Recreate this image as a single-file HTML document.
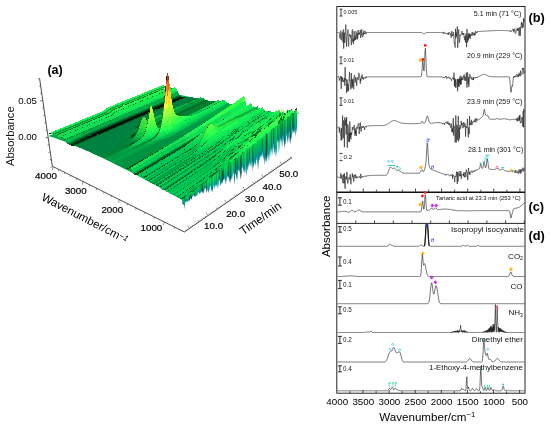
<!DOCTYPE html>
<html lang="en"><head><meta charset="utf-8"><title>TG-FTIR figure</title>
<style>html,body{margin:0;padding:0;background:#fff;}svg{display:block;}text{font-family:'Liberation Sans', sans-serif;}</style></head><body>
<svg width="550" height="428" viewBox="0 0 550 428">
<rect width="550" height="428" fill="#fff"/>
<polygon points="48.4,136 55.1,138.1 61.9,140.5 68.6,143.1 75.3,145.9 82,148.7 88.8,151.6 95.5,154.7 102.2,157.8 109,161 115.7,164.4 122.4,167.8 129.2,171.2 135.9,174.8 142.6,178.3 149.3,182 156.1,185.6 162.8,189.3 169.5,193 176.3,196.8 183,200.5 211.5,180.1 240,159.8 268.5,139.4 297,119 263,112 229,105 195,98 161,91 132.8,102.2 104.7,113.5 76.5,124.8" fill="#0a4"/>
<g id="surface" shape-rendering="crispEdges">
<path d="M104.4 111.4 161 88.6 162.1 85.9 105.6 108.9Z" fill="#021"/>
<path d="M102.3 112.9 104.4 111.4 105.6 108.9 103.4 111.1Z" fill="#031"/>
<path d="M48.4 134.8 101.3 113.5 102.3 112.9 103.4 111.1 102.4 111.9 49.5 133.3Z" fill="#021"/>
<path d="M105.6 108.9 162.1 85.9 163.3 84.8 106.7 107.9Z" fill="#031"/>
<path d="M102.4 111.9 103.4 111.1 105.6 108.9 106.7 107.9 104.6 110.1 103.5 110.9Z" fill="#041"/>
<path d="M49.5 133.3 102.4 111.9 103.5 110.9 50.6 132.5Z" fill="#031"/>
<path d="M105.6 108.9 106.7 107.9 163.3 84.8 164.4 86.2 107.8 109.4 106.8 110.4Z" fill="#2e5"/>
<path d="M50.6 132.5 103.5 110.9 104.6 110.1 105.6 108.9 106.8 110.4 105.7 111.6 104.6 112.4 51.8 134Z" fill="#1e5"/>
<path d="M107.8 109.4 164.4 86.2 165.5 86.3 108.9 109.6Z" fill="#1a3"/>
<path d="M105.7 111.6 107.8 109.4 108.9 109.6 106.8 111.8Z" fill="#1b4"/>
<path d="M104.6 112.4 105.7 111.6 106.8 111.8 105.8 112.6Z" fill="#1a4"/>
<path d="M51.8 134 104.6 112.4 105.8 112.6 52.9 134.3Z" fill="#193"/>
<path d="M108.9 109.6 165.5 86.3 166.7 86.3 110.1 109.7Z" fill="#193"/>
<path d="M107.9 110.6 108.9 109.6 110.1 109.7 109 110.7Z" fill="#1a3"/>
<path d="M106.8 111.8 107.9 110.6 109 110.7 108 111.9Z" fill="#1a4"/>
<path d="M105.8 112.6 106.8 111.8 108 111.9 106.9 112.7Z" fill="#193"/>
<path d="M56.6 132.8 105.8 112.6 106.9 112.7 57.8 132.9Z" fill="#183"/>
<path d="M52.9 134.3 56.6 132.8 57.8 132.9 54 134.5Z" fill="#083"/>
<path d="M133 100.2 166.7 86.3 167.8 86.8 134.2 100.7Z" fill="#2d4"/>
<path d="M110.1 109.7 133 100.2 134.2 100.7 111.2 110.2Z" fill="#1d4"/>
<path d="M108 111.9 110.1 109.7 111.2 110.2 109.1 112.4Z" fill="#1e5"/>
<path d="M106.9 112.7 108 111.9 109.1 112.4 108 113.2Z" fill="#1d5"/>
<path d="M54 134.5 106.9 112.7 108 113.2 55.1 135.1Z" fill="#1c4"/>
<path d="M161.7 89.3 167.8 86.8 168.9 86.7 162.8 89.2Z" fill="#182"/>
<path d="M112.3 109.7 161.7 89.3 162.8 89.2 113.4 109.7Z" fill="#172"/>
<path d="M111.2 110.2 112.3 109.7 113.4 109.7 112.3 110.2Z" fill="#183"/>
<path d="M109.1 112.4 111.2 110.2 112.3 110.2 110.2 112.4Z" fill="#193"/>
<path d="M108 113.2 109.1 112.4 110.2 112.4 109.1 113.3Z" fill="#183"/>
<path d="M55.1 135.1 108 113.2 109.1 113.3 56.3 135.2Z" fill="#073"/>
<path d="M112.3 110.2 168.9 86.7 170.1 86.5 113.5 110.1Z" fill="#162"/>
<path d="M110.2 112.4 112.3 110.2 113.5 110.1 111.3 112.3Z" fill="#183"/>
<path d="M109.1 113.3 110.2 112.4 111.3 112.3 110.3 113.1Z" fill="#173"/>
<path d="M56.3 135.2 109.1 113.3 110.3 113.1 57.4 135.1Z" fill="#062"/>
<path d="M114.5 109.6 170.1 86.5 171.2 88.6 115.6 111.7Z" fill="#2e5"/>
<path d="M92.2 120.6 110.3 113.1 111.3 112.3 113.5 110.1 114.5 109.6 115.6 111.7 114.6 112.2 112.5 114.5 111.4 115.3 93.4 122.8Z" fill="#1e5"/>
<path d="M57.4 135.1 92.2 120.6 93.4 122.8 58.5 137.4Z" fill="#1d5"/>
<path d="M143.7 100 171.2 88.6 172.3 88.2 144.8 99.8Z" fill="#152"/>
<path d="M114.6 112.2 143.7 100 144.8 99.8 115.7 112Z" fill="#052"/>
<path d="M113.5 113.2 114.6 112.2 115.7 112 114.6 113Z" fill="#172"/>
<path d="M112.5 114.5 113.5 113.2 114.6 113 113.6 114.3Z" fill="#072"/>
<path d="M111.4 115.3 112.5 114.5 113.6 114.3 112.5 115.1Z" fill="#062"/>
<path d="M58.5 137.4 111.4 115.3 112.5 115.1 59.6 137.2Z" fill="#052"/>
<path d="M113.6 114.3 115.7 112 172.3 88.2 173.5 89 116.8 112.9 114.7 115.1Z" fill="#1e5"/>
<path d="M59.6 137.2 112.5 115.1 113.6 114.3 114.7 115.1 113.7 116 60.7 138.2Z" fill="#1d5"/>
<path d="M116.8 112.9 173.5 89 174.6 87.4 118 111.3Z" fill="#021"/>
<path d="M115.8 113.9 116.8 112.9 118 111.3 116.9 112.3Z" fill="#031"/>
<path d="M114.7 115.1 115.8 113.9 116.9 112.3 115.8 113.6Z" fill="#041"/>
<path d="M113.7 116 114.7 115.1 115.8 113.6 114.8 114.4Z" fill="#031"/>
<path d="M60.7 138.2 113.7 116 114.8 114.4 61.9 136.7Z" fill="#021"/>
<path d="M165.4 91.3 174.6 87.4 175.7 87.9 166.6 91.8Z" fill="#2e4"/>
<path d="M119 110.8 165.4 91.3 166.6 91.8 120.2 111.5Z" fill="#2d4"/>
<path d="M118 111.3 119 110.8 120.2 111.5 119.1 111.9Z" fill="#2e4"/>
<path d="M116.9 112.3 118 111.3 119.1 111.9 118 113Z" fill="#2e5"/>
<path d="M114.8 114.4 115.8 113.6 116.9 112.3 118 113 117 114.2 115.9 115.1Z" fill="#1e5"/>
<path d="M61.9 136.7 114.8 114.4 115.9 115.1 63 137.5Z" fill="#1d5"/>
<path d="M163.5 93.1 175.7 87.9 176.9 90 164.6 95.2Z" fill="#2e5"/>
<path d="M117 114.2 119.1 111.9 163.5 93.1 164.6 95.2 120.2 114.1 118.1 116.3Z" fill="#1e5"/>
<path d="M63 137.5 115.9 115.1 117 114.2 118.1 116.3 117 117.2 64.1 139.6Z" fill="#1d5"/>
<path d="M119.2 115.1 120.2 114.1 176.9 90 178 91.2 122.4 114.7 120.3 115.9Z" fill="#1d5"/>
<path d="M118.1 116.3 119.2 115.1 120.3 115.9 119.2 116.8Z" fill="#1c5"/>
<path d="M117 117.2 118.1 116.3 119.2 116.8 118.2 117.4Z" fill="#0a4"/>
<path d="M112.8 119 117 117.2 118.2 117.4 113.9 119.2Z" fill="#093"/>
<path d="M86.7 130.1 112.8 119 113.9 119.2 87.8 130.3Z" fill="#083"/>
<path d="M64.1 139.6 86.7 130.1 87.8 130.3 65.2 139.8Z" fill="#073"/>
<path d="M80.3 133.5 118.2 117.4 121.3 115.2 178 91.2 179.1 95 81.4 136.2Z" fill="#0a4"/>
<path d="M65.2 139.8 80.3 133.5 81.4 136.2 66.3 142.5Z" fill="#0b4"/>
<path d="M85.1 134.6 179.1 95 180.3 95.8 86.3 135.5Z" fill="#073"/>
<path d="M77.6 137.8 85.1 134.6 86.3 135.5 78.7 138.7Z" fill="#083"/>
<path d="M73.9 139.4 77.6 137.8 78.7 138.7 75 140.3Z" fill="#084"/>
<path d="M66.3 142.5 73.9 139.4 75 140.3 67.5 143.5Z" fill="#094"/>
<path d="M86.3 135.5 180.3 95.8 181.4 96.5 87.4 136.4Z" fill="#042"/>
<path d="M78.7 138.7 86.3 135.5 87.4 136.4 79.9 139.6Z" fill="#052"/>
<path d="M75 140.3 78.7 138.7 79.9 139.6 76.1 141.2Z" fill="#063"/>
<path d="M67.5 143.5 75 140.3 76.1 141.2 68.6 144.4Z" fill="#073"/>
<path d="M94.9 133.2 181.4 96.5 182.5 97 96 133.9Z" fill="#010"/>
<path d="M91.2 134.8 94.9 133.2 96 133.9 92.3 135.5Z" fill="#011"/>
<path d="M83.6 138 91.2 134.8 92.3 135.5 84.8 138.7Z" fill="#021"/>
<path d="M79.9 139.6 83.6 138 84.8 138.7 81 140.4Z" fill="#031"/>
<path d="M72.4 142.8 79.9 139.6 81 140.4 73.5 143.6Z" fill="#042"/>
<path d="M68.6 144.4 72.4 142.8 73.5 143.6 69.7 145.2Z" fill="#052"/>
<path d="M88.5 137.1 182.5 97 183.7 97.1 89.6 137.4Z" fill="#010"/>
<path d="M84.8 138.7 88.5 137.1 89.6 137.4 85.9 139Z" fill="#011"/>
<path d="M81 140.4 84.8 138.7 85.9 139 82.1 140.6Z" fill="#021"/>
<path d="M69.7 145.2 81 140.4 82.1 140.6 70.8 145.5Z" fill="#031"/>
<path d="M97.2 134.2 183.7 97.1 184.8 96.9 98.3 134.1Z" fill="#010"/>
<path d="M89.6 137.4 97.2 134.2 98.3 134.1 90.8 137.4Z" fill="#011"/>
<path d="M74.6 143.9 89.6 137.4 90.8 137.4 75.7 143.9Z" fill="#021"/>
<path d="M70.8 145.5 74.6 143.9 75.7 143.9 72 145.5Z" fill="#031"/>
<path d="M94.5 135.8 184.8 96.9 185.9 96.7 95.6 135.7Z" fill="#021"/>
<path d="M72 145.5 94.5 135.8 95.6 135.7 73.1 145.5Z" fill="#031"/>
<path d="M95.6 135.7 185.9 96.7 187.1 96.6 96.8 135.8Z" fill="#042"/>
<path d="M73.1 145.5 95.6 135.7 96.8 135.8 74.2 145.6Z" fill="#052"/>
<path d="M74.2 145.6 187.1 96.6 188.2 96.7 75.3 145.9Z" fill="#073"/>
<path d="M75.3 145.9 188.2 96.7 189.3 96.8 76.4 146.3Z" fill="#083"/>
<path d="M76.4 146.3 189.3 96.8 190.5 97.1 77.6 146.8Z" fill="#084"/>
<path d="M77.6 146.8 190.5 97.1 191.6 97.3 78.7 147.3Z" fill="#084"/>
<path d="M78.7 147.3 191.6 97.3 192.7 97.5 79.8 147.7Z" fill="#084"/>
<path d="M79.8 147.7 192.7 97.5 193.9 97.8 80.9 148.2Z" fill="#084"/>
<path d="M80.9 148.2 193.9 97.8 195 98 82 148.7Z" fill="#084"/>
<path d="M82 148.7 195 98 196.1 98.2 83.2 149.2Z" fill="#084"/>
<path d="M133 126.7 196.1 98.2 197.3 98.4 134.1 127.1Z" fill="#083"/>
<path d="M83.2 149.2 133 126.7 134.1 127.1 84.3 149.7Z" fill="#084"/>
<path d="M188.1 102.6 197.3 98.4 198.4 98.5 189.2 102.6Z" fill="#063"/>
<path d="M175.8 108.2 188.1 102.6 189.2 102.6 176.9 108.1Z" fill="#062"/>
<path d="M143.7 122.7 175.8 108.2 176.9 108.1 144.8 122.7Z" fill="#052"/>
<path d="M140.5 124.2 143.7 122.7 144.8 122.7 141.6 124.3Z" fill="#062"/>
<path d="M139.5 124.6 140.5 124.2 141.6 124.3 140.6 124.8Z" fill="#063"/>
<path d="M135.2 126.6 139.5 124.6 140.6 124.8 136.3 126.9Z" fill="#073"/>
<path d="M130.9 128.5 135.2 126.6 136.3 126.9 132.1 128.9Z" fill="#083"/>
<path d="M84.3 149.7 130.9 128.5 132.1 128.9 85.4 150.1Z" fill="#084"/>
<path d="M186.1 104 198.4 98.5 199.5 97.9 187.3 103.3Z" fill="#031"/>
<path d="M143.8 123.2 186.1 104 187.3 103.3 178.1 107.2 151.3 119.2 144.9 122.5Z" fill="#021"/>
<path d="M139.5 125.3 143.8 123.2 144.9 122.5 140.6 125Z" fill="#031"/>
<path d="M138.5 125.8 139.5 125.3 140.6 125 139.6 125.6Z" fill="#042"/>
<path d="M136.3 126.9 138.5 125.8 139.6 125.6 137.5 126.9Z" fill="#052"/>
<path d="M135.3 127.4 136.3 126.9 137.5 126.9 136.4 127.5Z" fill="#062"/>
<path d="M133.1 128.4 135.3 127.4 136.4 127.5 134.3 128.7Z" fill="#073"/>
<path d="M131 129.4 133.1 128.4 134.3 128.7 132.1 129.8Z" fill="#083"/>
<path d="M85.4 150.1 131 129.4 132.1 129.8 86.5 150.6Z" fill="#084"/>
<path d="M181.1 105.9 199.5 97.9 200.7 97.3 182.3 105.1Z" fill="#031"/>
<path d="M148.1 120.7 175 108.5 181.1 105.9 182.3 105.1 173.1 108.9 149.2 119.9Z" fill="#021"/>
<path d="M142.8 123.7 148.1 120.7 149.2 119.9 143.9 123.2Z" fill="#031"/>
<path d="M141.7 124.4 142.8 123.7 143.9 123.2 142.8 124Z" fill="#041"/>
<path d="M140.6 125 141.7 124.4 142.8 124 141.8 124.8Z" fill="#042"/>
<path d="M138.5 126.3 140.6 125 141.8 124.8 139.6 126.3Z" fill="#052"/>
<path d="M137.5 126.9 138.5 126.3 139.6 126.3 138.6 127Z" fill="#062"/>
<path d="M136.4 127.5 137.5 126.9 138.6 127 137.5 127.7Z" fill="#063"/>
<path d="M135.3 128.1 136.4 127.5 137.5 127.7 136.5 128.4Z" fill="#073"/>
<path d="M133.2 129.3 135.3 128.1 136.5 128.4 134.3 129.6Z" fill="#083"/>
<path d="M86.5 150.6 133.2 129.3 134.3 129.6 87.7 151.1Z" fill="#084"/>
<path d="M188.4 102.6 200.7 97.3 201.8 98 189.5 103.4Z" fill="#0b4"/>
<path d="M185.3 103.9 188.4 102.6 189.5 103.4 186.5 104.6Z" fill="#0c4"/>
<path d="M145 122.5 150.3 119.3 173.1 108.9 185.3 103.9 186.5 104.6 177.3 108.5 151.4 120.3 146.1 123.4Z" fill="#1c4"/>
<path d="M143.9 123.2 145 122.5 146.1 123.4 145 124.1Z" fill="#0c4"/>
<path d="M139.6 126.3 143.9 123.2 145 124.1 140.8 126.8Z" fill="#0b4"/>
<path d="M137.5 127.7 139.6 126.3 140.8 126.8 138.6 128.2Z" fill="#0a4"/>
<path d="M133.3 130.2 137.5 127.7 138.6 128.2 134.4 130.5Z" fill="#094"/>
<path d="M87.7 151.1 133.3 130.2 134.4 130.5 88.8 151.6Z" fill="#084"/>
<path d="M180.3 107.2 201.8 98 202.9 98.4 181.5 107.8Z" fill="#0a4"/>
<path d="M145 124.1 151.4 120.3 177.3 108.5 180.3 107.2 181.5 107.8 178.4 109.1 152.5 121 146.2 124.6Z" fill="#0b4"/>
<path d="M140.8 126.8 145 124.1 146.2 124.6 141.9 127.3Z" fill="#0a4"/>
<path d="M134.4 130.5 140.8 126.8 141.9 127.3 135.5 130.9Z" fill="#094"/>
<path d="M88.8 151.6 134.4 130.5 135.5 130.9 89.9 152.1Z" fill="#084"/>
<path d="M145.1 125.3 151.5 121.5 178.4 109.1 202.9 98.4 204.1 98.5 179.5 109.3 152.6 121.7 146.2 125.6Z" fill="#083"/>
<path d="M141.9 127.3 145.1 125.3 146.2 125.6 143 127.7Z" fill="#093"/>
<path d="M136.6 130.4 141.9 127.3 143 127.7 137.7 130.8Z" fill="#094"/>
<path d="M135.5 130.9 136.6 130.4 137.7 130.8 136.6 131.3Z" fill="#084"/>
<path d="M132.3 132.4 135.5 130.9 136.6 131.3 133.4 132.8Z" fill="#083"/>
<path d="M89.9 152.1 132.3 132.4 133.4 132.8 91 152.6Z" fill="#084"/>
<path d="M146.2 125.6 152.6 121.7 179.5 109.3 204.1 98.5 205.2 99.4 189.9 106.4 155.9 122.1 147.3 126.6Z" fill="#0a4"/>
<path d="M143 127.7 146.2 125.6 147.3 126.6 144.2 128.4Z" fill="#0b4"/>
<path d="M140.9 129 143 127.7 144.2 128.4 142 129.5Z" fill="#0a4"/>
<path d="M137.7 130.8 140.9 129 142 129.5 138.8 131.2Z" fill="#094"/>
<path d="M127.1 135.8 137.7 130.8 138.8 131.2 128.2 136.2Z" fill="#083"/>
<path d="M91 152.6 127.1 135.8 128.2 136.2 92.1 153.1Z" fill="#084"/>
<path d="M149.5 125.4 159 120.6 192.9 105 205.2 99.4 206.3 100.1 150.6 126.4Z" fill="#083"/>
<path d="M148.4 126 149.5 125.4 150.6 126.4 149.5 127Z" fill="#093"/>
<path d="M143.1 129 148.4 126 149.5 127 144.2 129.5Z" fill="#094"/>
<path d="M141 130.1 143.1 129 144.2 129.5 142.1 130.4Z" fill="#083"/>
<path d="M139.9 130.6 141 130.1 142.1 130.4 141 130.9Z" fill="#073"/>
<path d="M138.8 131.2 139.9 130.6 141 130.9 140 131.3Z" fill="#063"/>
<path d="M134.6 133.2 138.8 131.2 140 131.3 135.7 133.3Z" fill="#062"/>
<path d="M133.5 133.7 134.6 133.2 135.7 133.3 134.6 133.9Z" fill="#063"/>
<path d="M131.4 134.7 133.5 133.7 134.6 133.9 132.5 135Z" fill="#073"/>
<path d="M126.1 137.2 131.4 134.7 132.5 135 127.2 137.6Z" fill="#083"/>
<path d="M92.1 153.1 126.1 137.2 127.2 137.6 93.3 153.6Z" fill="#084"/>
<path d="M154.9 124.4 206.3 100.1 207.5 100.4 156 124.9Z" fill="#062"/>
<path d="M151.7 125.9 154.9 124.4 156 124.9 152.8 126.5Z" fill="#063"/>
<path d="M146.3 128.5 151.7 125.9 152.8 126.5 147.5 128.8Z" fill="#073"/>
<path d="M145.3 129 146.3 128.5 147.5 128.8 146.4 129.2Z" fill="#063"/>
<path d="M144.2 129.5 145.3 129 146.4 129.2 145.3 129.5Z" fill="#052"/>
<path d="M143.1 129.9 144.2 129.5 145.3 129.5 144.3 129.8Z" fill="#042"/>
<path d="M141 130.9 143.1 129.9 144.3 129.8 142.1 130.4Z" fill="#031"/>
<path d="M136.8 132.8 141 130.9 142.1 130.4 141.1 130.7 137.9 132Z" fill="#021"/>
<path d="M134.6 133.9 136.8 132.8 137.9 132 135.8 133.4Z" fill="#031"/>
<path d="M133.6 134.4 134.6 133.9 135.8 133.4 134.7 134.2Z" fill="#041"/>
<path d="M132.5 135 133.6 134.4 134.7 134.2 133.6 134.9Z" fill="#042"/>
<path d="M131.4 135.5 132.5 135 133.6 134.9 132.6 135.6Z" fill="#052"/>
<path d="M130.4 136.1 131.4 135.5 132.6 135.6 131.5 136.3Z" fill="#063"/>
<path d="M129.3 136.6 130.4 136.1 131.5 136.3 130.4 136.9Z" fill="#073"/>
<path d="M123.4 139.4 129.3 136.6 130.4 136.9 124.5 139.9Z" fill="#083"/>
<path d="M93.3 153.6 123.4 139.4 124.5 139.9 94.4 154.2Z" fill="#084"/>
<path d="M149.6 127.9 207.5 100.4 208.6 100.6 177.9 115.4 150.7 128.2Z" fill="#073"/>
<path d="M148.5 128.4 149.6 127.9 150.7 128.2 149.7 128.6Z" fill="#063"/>
<path d="M147.5 128.8 148.5 128.4 149.7 128.6 148.6 128.8Z" fill="#052"/>
<path d="M146.4 129.2 147.5 128.8 148.6 128.8 147.5 129Z" fill="#042"/>
<path d="M135.8 133.4 139 131.5 142.1 130.4 146.4 129.2 147.5 129 146.5 129 143.3 128.3 141.1 128.2 140.1 128.6 139 129.3 136.9 131.5Z" fill="#021"/>
<path d="M132.6 135.6 135.8 133.4 136.9 131.5 133.7 135.2Z" fill="#031"/>
<path d="M131.5 136.3 132.6 135.6 133.7 135.2 132.6 136.2Z" fill="#042"/>
<path d="M130.4 136.9 131.5 136.3 132.6 136.2 131.6 137Z" fill="#052"/>
<path d="M129.4 137.5 130.4 136.9 131.6 137 130.5 137.7Z" fill="#063"/>
<path d="M128.3 138 129.4 137.5 130.5 137.7 129.4 138.4Z" fill="#073"/>
<path d="M124.5 139.9 128.3 138 129.4 138.4 125.7 140.3Z" fill="#083"/>
<path d="M94.4 154.2 124.5 139.9 125.7 140.3 95.5 154.7Z" fill="#084"/>
<path d="M151.8 127.8 208.6 100.6 209.7 100.7 172.9 118.6 152.9 128.1Z" fill="#083"/>
<path d="M150.7 128.2 151.8 127.8 152.9 128.1 151.9 128.4Z" fill="#073"/>
<path d="M149.7 128.6 150.7 128.2 151.9 128.4 150.8 128.6Z" fill="#052"/>
<path d="M148.6 128.8 149.7 128.6 150.8 128.6 149.7 128.6Z" fill="#041"/>
<path d="M139 129.3 140.1 128.6 141.1 128.2 143.3 128.3 146.5 129 148.6 128.8 149.7 128.6 148.7 128.3 147.6 127.7 143.3 123.5 142.3 123.1 141.2 123.3 140.1 124.3Z" fill="#021"/>
<path d="M138 130.3 139 129.3 140.1 124.3 139.1 125.9Z" fill="#131"/>
<path d="M132.6 136.2 135.8 132.8 138 130.3 139.1 125.9 135.9 132.2 133.8 135.7Z" fill="#031"/>
<path d="M131.6 137 132.6 136.2 133.8 135.7 132.7 136.9Z" fill="#042"/>
<path d="M130.5 137.7 131.6 137 132.7 136.9 131.6 137.9Z" fill="#052"/>
<path d="M129.4 138.4 130.5 137.7 131.6 137.9 130.6 138.7Z" fill="#073"/>
<path d="M125.7 140.3 129.4 138.4 130.6 138.7 126.8 140.7Z" fill="#083"/>
<path d="M95.5 154.7 125.7 140.3 126.8 140.7 96.6 155.2Z" fill="#084"/>
<path d="M169.8 120.1 209.7 100.7 210.9 100.9 171 120.5Z" fill="#083"/>
<path d="M157.2 126.2 169.8 120.1 171 120.5 158.3 126.6Z" fill="#084"/>
<path d="M152.9 128.1 157.2 126.2 158.3 126.6 154 128.4Z" fill="#083"/>
<path d="M151.9 128.4 152.9 128.1 154 128.4 153 128.6Z" fill="#073"/>
<path d="M150.8 128.6 151.9 128.4 153 128.6 151.9 128.6Z" fill="#052"/>
<path d="M149.7 128.6 150.8 128.6 151.9 128.6 150.9 128.4Z" fill="#031"/>
<path d="M144.4 124.5 147.6 127.7 148.7 128.3 149.7 128.6 150.9 128.4 149.8 127.6 148.7 126.4 145.5 120.6Z" fill="#021"/>
<path d="M141.2 123.3 142.3 123.1 143.3 123.5 144.4 124.5 145.5 120.6 144.5 118.9 143.4 117.9 142.3 117.9Z" fill="#121"/>
<path d="M140.1 124.3 141.2 123.3 142.3 117.9 141.3 119.2Z" fill="#131"/>
<path d="M135.9 132.2 139.1 125.9 140.1 124.3 141.3 119.2 140.2 121.3 137 130.3Z" fill="#141"/>
<path d="M133.8 135.7 135.9 132.2 137 130.3 134.9 135.1Z" fill="#041"/>
<path d="M132.7 136.9 133.8 135.7 134.9 135.1 133.8 136.8Z" fill="#052"/>
<path d="M131.6 137.9 132.7 136.9 133.8 136.8 132.8 138Z" fill="#062"/>
<path d="M130.6 138.7 131.6 137.9 132.8 138 131.7 138.9Z" fill="#073"/>
<path d="M126.8 140.7 130.6 138.7 131.7 138.9 127.9 141.2Z" fill="#083"/>
<path d="M96.6 155.2 126.8 140.7 127.9 141.2 97.8 155.7Z" fill="#084"/>
<path d="M174 119 210.9 100.9 212 101 175.2 119.3Z" fill="#083"/>
<path d="M157.2 127.1 174 119 175.2 119.3 158.4 127.4Z" fill="#084"/>
<path d="M153 128.6 156.2 127.5 157.2 127.1 158.4 127.4 157.3 127.9 154.1 128.9Z" fill="#083"/>
<path d="M151.9 128.6 153 128.6 154.1 128.9 153 128.9Z" fill="#073"/>
<path d="M150.9 128.4 151.9 128.6 153 128.9 152 128.6Z" fill="#062"/>
<path d="M149.8 127.6 150.9 128.4 152 128.6 150.9 127.7Z" fill="#052"/>
<path d="M148.7 126.4 149.8 127.6 150.9 127.7 149.8 126.4Z" fill="#041"/>
<path d="M147.7 124.7 148.7 126.4 149.8 126.4 148.8 124.4Z" fill="#031"/>
<path d="M146.6 122.7 147.7 124.7 148.8 124.4 147.7 122.2Z" fill="#021"/>
<path d="M142.3 117.9 143.4 117.9 144.5 118.9 146.6 122.7 147.7 122.2 145.6 117.9 144.5 116.8 143.5 116.9Z" fill="#121"/>
<path d="M141.3 119.2 142.3 117.9 143.5 116.9 142.4 118.1Z" fill="#241"/>
<path d="M139.1 124.2 140.2 121.3 141.3 119.2 142.4 118.1 141.3 120.5 140.3 123.6Z" fill="#251"/>
<path d="M138.1 127.3 139.1 124.2 140.3 123.6 139.2 126.9Z" fill="#151"/>
<path d="M137 130.3 138.1 127.3 139.2 126.9 138.1 130.2Z" fill="#162"/>
<path d="M135.9 133 137 130.3 138.1 130.2 137.1 133Z" fill="#172"/>
<path d="M134.9 135.1 135.9 133 137.1 133 136 135.3Z" fill="#183"/>
<path d="M133.8 136.8 134.9 135.1 136 135.3 134.9 137Z" fill="#093"/>
<path d="M127.9 141.2 131.7 138.9 133.8 136.8 134.9 137 132.8 139.3 129 141.6Z" fill="#094"/>
<path d="M97.8 155.7 127.9 141.2 129 141.6 98.9 156.2Z" fill="#084"/>
<path d="M175.2 119.3 212 101 213.1 101.2 176.3 119.6Z" fill="#083"/>
<path d="M155.2 128.7 161.6 125.9 175.2 119.3 176.3 119.6 166.9 124.2 156.3 129.2Z" fill="#084"/>
<path d="M152 128.6 153 128.9 155.2 128.7 156.3 129.2 154.2 129.6 153.1 129.4Z" fill="#094"/>
<path d="M150.9 127.7 152 128.6 153.1 129.4 152 128.9Z" fill="#1b4"/>
<path d="M149.8 126.4 150.9 127.7 152 128.9 151 127.9Z" fill="#1c4"/>
<path d="M147.7 122.2 149.8 126.4 151 127.9 148.8 124.9Z" fill="#2d4"/>
<path d="M146.7 119.9 147.7 122.2 148.8 124.9 147.8 123.3Z" fill="#3e4"/>
<path d="M145.6 117.9 146.7 119.9 147.8 123.3 146.7 121.9Z" fill="#4e4"/>
<path d="M144.5 116.8 145.6 117.9 146.7 121.9 145.7 121.2Z" fill="#5e4"/>
<path d="M143.5 116.9 144.5 116.8 145.7 121.2 144.6 121.3Z" fill="#6e4"/>
<path d="M141.3 120.5 142.4 118.1 143.5 116.9 144.6 121.3 143.5 122.4 142.5 124.3Z" fill="#5e4"/>
<path d="M140.3 123.6 141.3 120.5 142.5 124.3 141.4 126.9Z" fill="#4e4"/>
<path d="M139.2 126.9 140.3 123.6 141.4 126.9 140.3 129.6Z" fill="#3e4"/>
<path d="M138.1 130.2 139.2 126.9 140.3 129.6 139.3 132.2Z" fill="#2d4"/>
<path d="M137.1 133 138.1 130.2 139.3 132.2 138.2 134.5Z" fill="#1d4"/>
<path d="M136 135.3 137.1 133 138.2 134.5 137.1 136.4Z" fill="#1c4"/>
<path d="M134.9 137 136 135.3 137.1 136.4 136.1 137.9Z" fill="#0c4"/>
<path d="M133.9 138.4 134.9 137 136.1 137.9 135 139Z" fill="#0b4"/>
<path d="M132.8 139.3 133.9 138.4 135 139 133.9 139.9Z" fill="#0a4"/>
<path d="M129 141.6 132.8 139.3 133.9 139.9 130.2 142.1Z" fill="#094"/>
<path d="M98.9 156.2 129 141.6 130.2 142.1 100 156.7Z" fill="#084"/>
<path d="M173.2 121.1 213.1 101.2 214.3 101.3 174.3 121.5Z" fill="#083"/>
<path d="M164.8 125.2 173.2 121.1 174.3 121.5 165.9 125.6Z" fill="#084"/>
<path d="M159.5 127.8 164.8 125.2 165.9 125.6 160.6 128.2Z" fill="#083"/>
<path d="M157.4 128.8 159.5 127.8 160.6 128.2 158.5 129.2Z" fill="#084"/>
<path d="M154.2 129.6 156.3 129.2 157.4 128.8 158.5 129.2 155.3 130.3Z" fill="#094"/>
<path d="M153.1 129.4 154.2 129.6 155.3 130.3 154.2 130.4Z" fill="#0a4"/>
<path d="M152 128.9 153.1 129.4 154.2 130.4 153.2 130.3Z" fill="#0b4"/>
<path d="M151 127.9 152 128.9 153.2 130.3 152.1 130Z" fill="#1c4"/>
<path d="M149.9 126.6 151 127.9 152.1 130 151 129.4Z" fill="#1d4"/>
<path d="M147.8 123.3 149.9 126.6 151 129.4 148.9 127.9Z" fill="#2d4"/>
<path d="M145.7 121.2 146.7 121.9 147.8 123.3 148.9 127.9 147.8 127.3 146.8 127.2Z" fill="#3e4"/>
<path d="M143.5 122.4 144.6 121.3 145.7 121.2 146.8 127.2 145.7 127.6 144.6 128.5Z" fill="#4e4"/>
<path d="M141.4 126.9 142.5 124.3 143.5 122.4 144.6 128.5 142.5 131.6Z" fill="#3e4"/>
<path d="M140.3 129.6 141.4 126.9 142.5 131.6 141.5 133.4Z" fill="#2d4"/>
<path d="M139.3 132.2 140.3 129.6 141.5 133.4 140.4 135.1Z" fill="#1d4"/>
<path d="M137.1 136.4 139.3 132.2 140.4 135.1 138.3 137.9Z" fill="#1c4"/>
<path d="M135 139 137.1 136.4 138.3 137.9 136.1 139.8Z" fill="#0b4"/>
<path d="M133.9 139.9 135 139 136.1 139.8 135.1 140.5Z" fill="#0a4"/>
<path d="M130.2 142.1 133.9 139.9 135.1 140.5 131.3 142.5Z" fill="#094"/>
<path d="M100 156.7 130.2 142.1 131.3 142.5 101.1 157.3Z" fill="#084"/>
<path d="M205.1 105.9 214.3 101.3 215.4 101.4 206.2 106Z" fill="#073"/>
<path d="M154.2 130.4 156.4 130 164.9 126.1 205.1 105.9 206.2 106 181.6 118.6 158.6 129.9 155.4 130.9Z" fill="#083"/>
<path d="M153.2 130.3 154.2 130.4 155.4 130.9 154.3 130.9Z" fill="#093"/>
<path d="M152.1 130 153.2 130.3 154.3 130.9 153.2 130.8Z" fill="#094"/>
<path d="M151 129.4 152.1 130 153.2 130.8 152.2 130.3Z" fill="#1a4"/>
<path d="M150 128.7 151 129.4 152.2 130.3 151.1 129.7Z" fill="#1b4"/>
<path d="M148.9 127.9 150 128.7 151.1 129.7 150 128.9Z" fill="#1c4"/>
<path d="M147.8 127.3 148.9 127.9 150 128.9 149 128.5Z" fill="#2c4"/>
<path d="M143.6 129.9 144.6 128.5 145.7 127.6 146.8 127.2 147.8 127.3 149 128.5 147.9 128.9 144.7 133Z" fill="#2d4"/>
<path d="M142.5 131.6 143.6 129.9 144.7 133 143.6 134.4Z" fill="#1d4"/>
<path d="M140.4 135.1 142.5 131.6 143.6 134.4 141.5 137Z" fill="#1c4"/>
<path d="M139.3 136.6 140.4 135.1 141.5 137 140.4 138Z" fill="#0c4"/>
<path d="M137.2 138.9 139.3 136.6 140.4 138 138.3 139.6Z" fill="#0b4"/>
<path d="M136.1 139.8 137.2 138.9 138.3 139.6 137.3 140.3Z" fill="#0a4"/>
<path d="M135.1 140.5 136.1 139.8 137.3 140.3 136.2 140.9Z" fill="#094"/>
<path d="M101.1 157.3 131.3 142.5 135.1 140.5 136.2 140.9 102.2 157.8Z" fill="#083"/>
<path d="M193.9 112.3 215.4 101.4 215.9 101.4 194.4 112.3Z" fill="#062"/>
<path d="M171.3 123.8 193.9 112.3 194.4 112.3 171.9 123.8Z" fill="#063"/>
<path d="M163.9 127.4 171.3 123.8 171.9 123.8 164.4 127.5Z" fill="#062"/>
<path d="M158.6 129.9 163.9 127.4 164.4 127.5 159.1 129.9Z" fill="#052"/>
<path d="M157.5 130.4 158.6 129.9 159.1 129.9 158 130.3Z" fill="#042"/>
<path d="M156.4 130.7 157.5 130.4 158 130.3 156.9 130.6Z" fill="#031"/>
<path d="M147.9 128.9 149 128.5 151.1 129.7 153.2 130.8 155.4 130.9 156.4 130.7 156.9 130.6 155.9 130.7 154.8 130.5 153.7 130.1 152.7 129.2 150.6 126.7 149.5 125.7 148.4 126.4Z" fill="#021"/>
<path d="M146.8 130 147.9 128.9 148.4 126.4 147.4 128.4Z" fill="#131"/>
<path d="M145.8 131.5 146.8 130 147.4 128.4 146.3 130.6Z" fill="#031"/>
<path d="M144.7 133 145.8 131.5 146.3 130.6 145.2 132.6Z" fill="#041"/>
<path d="M143.6 134.4 144.7 133 145.2 132.6 144.2 134.4Z" fill="#052"/>
<path d="M142.6 135.8 143.6 134.4 144.2 134.4 143.1 135.9Z" fill="#083"/>
<path d="M140.4 138 142.6 135.8 143.1 135.9 141 138.2Z" fill="#0a4"/>
<path d="M139.4 138.9 140.4 138 141 138.2 139.9 139Z" fill="#094"/>
<path d="M138.3 139.6 139.4 138.9 139.9 139 138.8 139.8Z" fill="#083"/>
<path d="M137.3 140.3 138.3 139.6 138.8 139.8 137.8 140.4Z" fill="#073"/>
<path d="M132.4 142.9 137.3 140.3 137.8 140.4 132.9 143Z" fill="#062"/>
<path d="M128.6 144.8 132.4 142.9 132.9 143 129.2 145Z" fill="#073"/>
<path d="M102.2 157.8 128.6 144.8 129.2 145 102.8 158Z" fill="#083"/>
<path d="M167.6 125.9 194.4 112.3 215.9 101.4 216.4 101.2 191.9 113.8 168.1 125.8Z" fill="#042"/>
<path d="M165.5 127 167.6 125.9 168.1 125.8 166 126.8Z" fill="#041"/>
<path d="M159.1 129.9 165.5 127 166 126.8 159.6 129.7Z" fill="#031"/>
<path d="M150.6 126.7 152.7 129.2 153.7 130.1 154.8 130.5 155.9 130.7 158 130.3 159.1 129.9 159.6 129.7 157.5 130.2 156.4 130.1 155.3 129.6 154.3 128.6 153.2 127 151.1 122.4Z" fill="#021"/>
<path d="M148.4 126.4 149.5 125.7 150.6 126.7 151.1 122.4 150 120.7 148.9 121.6Z" fill="#121"/>
<path d="M145.2 132.6 148.4 126.4 148.9 121.6 145.7 131Z" fill="#141"/>
<path d="M143.1 135.9 145.2 132.6 145.7 131 143.6 135.4Z" fill="#031"/>
<path d="M141 138.2 143.1 135.9 143.6 135.4 141.5 138Z" fill="#041"/>
<path d="M139.9 139 141 138.2 141.5 138 140.4 138.9Z" fill="#042"/>
<path d="M136.7 141 139.9 139 140.4 138.9 137.2 140.9Z" fill="#041"/>
<path d="M132.9 143 136.7 141 137.2 140.9 133.5 143Z" fill="#042"/>
<path d="M129.2 145 132.9 143 133.5 143 129.7 145.1Z" fill="#052"/>
<path d="M125.4 146.9 129.2 145 129.7 145.1 125.9 147Z" fill="#073"/>
<path d="M102.8 158 125.4 146.9 125.9 147 103.3 158.3Z" fill="#083"/>
<path d="M76.5 144.2L105.5 156.9M79.1 143.1L108.1 155.6M81.7 142L110.6 154.3M84.2 140.8L113.2 153.1M86.8 139.7L115.8 151.8M89.4 138.6L118.3 150.5M91.9 137.5L120.9 149.3M94.5 136.4L123.5 148M97.1 135.3L126.1 146.7M99.6 134.2L128.6 145.4M102.2 133.1L131.2 144.2M104.8 131.9L133.8 142.9M107.3 130.8L136.3 141.6M109.9 129.7L138.9 140.4M112.5 128.6L141.5 139.1M115 127.5L144.1 137.8M117.6 126.4L146.6 136.6M120.1 125.3L149.2 135.3M122.7 124.1L151.8 134M125.3 123L154.4 132.8M127.8 121.9L156.9 131.5M130.4 120.8L159.5 130.2M133 119.7L162.1 129M135.5 118.6L164.6 127.7M138.1 117.5L167.2 126.4M140.7 116.4L169.8 125.2M143.2 115.2L172.4 123.9M145.8 114.1L174.9 122.6M148.4 113L177.5 121.4M150.9 111.9L180.1 120.1M153.5 110.8L182.6 118.8M156.1 109.7L185.2 117.6M158.6 108.6L187.8 116.3M161.2 107.5L190.4 115M163.8 106.3L192.9 113.8M166.3 105.2L195.5 112.5M168.9 104.1L198.1 111.2M171.4 103L200.6 109.9M174 101.9L203.2 108.7M176.6 100.8L205.8 107.4M179.1 99.7L208.4 106.1M181.7 98.5L210.9 104.9M184.3 97.4L213.5 103.6" stroke="#003a1a" stroke-width="0.35" opacity="0.55" fill="none" shape-rendering="auto"/>
<path d="M172.4 123.7 216.4 101.2 217 100.8 172.9 123.4Z" fill="#031"/>
<path d="M153.2 127 154.3 128.6 155.3 129.6 156.4 130.1 157.5 130.2 159.6 129.7 171.3 124.3 172.4 123.7 172.9 123.4 167.6 126 160.1 129.2 158 129.4 156.9 129.1 155.9 128.2 154.8 126.5 153.7 124Z" fill="#021"/>
<path d="M150 120.7 151.1 122.4 153.2 127 153.7 124 151.6 116.9 150.5 114.2Z" fill="#121"/>
<path d="M148.9 121.6 150 120.7 150.5 114.2 149.5 115.4Z" fill="#131"/>
<path d="M147.9 124.7 148.9 121.6 149.5 115.4 148.4 119.8Z" fill="#241"/>
<path d="M144.7 133.5 146.8 128.1 147.9 124.7 148.4 119.8 147.3 124.5 145.2 131.9Z" fill="#141"/>
<path d="M143.6 135.4 144.7 133.5 145.2 131.9 144.1 134.3Z" fill="#041"/>
<path d="M139.4 139.6 141.5 138 143.6 135.4 144.1 134.3 143.1 136.2 142 137.5 139.9 139.2Z" fill="#031"/>
<path d="M137.2 140.9 139.4 139.6 139.9 139.2 137.7 140.5Z" fill="#021"/>
<path d="M133.5 143 137.2 140.9 137.7 140.5 134 142.8Z" fill="#031"/>
<path d="M129.7 145.1 133.5 143 134 142.8 130.2 145.1Z" fill="#042"/>
<path d="M125.9 147 129.7 145.1 130.2 145.1 126.4 147.2Z" fill="#073"/>
<path d="M103.3 158.3 125.9 147 126.4 147.2 103.8 158.5Z" fill="#083"/>
<path d="M154.8 126.5 155.9 128.2 156.9 129.1 158 129.4 160.1 129.2 167.6 126 186.2 116.7 217 100.8 217.5 100.4 192.9 113.1 171.3 124.1 161.7 128.3 159.6 128.8 158.5 128.7 157.4 128.1 156.4 126.8 155.3 124.5Z" fill="#021"/>
<path d="M151.6 116.9 153.7 124 154.8 126.5 155.3 124.5 154.2 121.2 152.1 111.9Z" fill="#121"/>
<path d="M150.5 114.2 151.6 116.9 152.1 111.9 151 108.3Z" fill="#221"/>
<path d="M147.3 124.5 149.5 115.4 150.5 114.2 151 108.3 150 109.8 147.9 121.2Z" fill="#241"/>
<path d="M145.2 131.9 147.3 124.5 147.9 121.2 146.8 126.2 145.7 130.3Z" fill="#141"/>
<path d="M143.1 136.2 144.1 134.3 145.2 131.9 145.7 130.3 144.7 133.2 143.6 135.4Z" fill="#041"/>
<path d="M139.9 139.2 142 137.5 143.1 136.2 143.6 135.4 142.5 136.9 140.4 138.8Z" fill="#031"/>
<path d="M137.7 140.5 139.9 139.2 140.4 138.8 138.3 140.1Z" fill="#021"/>
<path d="M134 142.8 137.7 140.5 138.3 140.1 134.5 142.5Z" fill="#031"/>
<path d="M130.2 145.1 134 142.8 134.5 142.5 130.7 145.1Z" fill="#042"/>
<path d="M126.4 147.2 130.2 145.1 130.7 145.1 126.9 147.4Z" fill="#073"/>
<path d="M111.3 154.8 126.4 147.2 126.9 147.4 111.9 155Z" fill="#083"/>
<path d="M107.6 156.6 111.3 154.8 111.9 155 108.1 156.9Z" fill="#084"/>
<path d="M103.8 158.5 107.6 156.6 108.1 156.9 104.3 158.8Z" fill="#094"/>
<path d="M199.1 109.8 217.5 100.4 218 100.2 199.6 109.7Z" fill="#041"/>
<path d="M173.4 123 199.1 109.8 199.6 109.7 173.9 122.9Z" fill="#042"/>
<path d="M164.9 127 173.4 123 173.9 122.9 165.4 126.9Z" fill="#041"/>
<path d="M160.6 128.7 164.9 127 165.4 126.9 161.2 128.4Z" fill="#031"/>
<path d="M155.3 124.5 156.4 126.8 157.4 128.1 158.5 128.7 159.6 128.8 160.6 128.7 161.2 128.4 160.1 128.6 159 128.4 158 127.7 156.9 126.2 155.8 123.7Z" fill="#021"/>
<path d="M153.2 116.9 154.2 121.2 155.3 124.5 155.8 123.7 154.8 120 153.7 115.1Z" fill="#121"/>
<path d="M152.1 111.9 153.2 116.9 153.7 115.1 152.6 109.6Z" fill="#131"/>
<path d="M151 108.3 152.1 111.9 152.6 109.6 151.6 105.6Z" fill="#221"/>
<path d="M148.9 115.3 150 109.8 151 108.3 151.6 105.6 150.5 107.1 149.4 113.2Z" fill="#341"/>
<path d="M147.9 121.2 148.9 115.3 149.4 113.2 148.4 119.7Z" fill="#241"/>
<path d="M144.7 133.2 145.7 130.3 146.8 126.2 147.9 121.2 148.4 119.7 147.3 125.2 146.2 129.5 145.2 132.8Z" fill="#141"/>
<path d="M143.6 135.4 144.7 133.2 145.2 132.8 144.1 135.1Z" fill="#042"/>
<path d="M142.5 136.9 143.6 135.4 144.1 135.1 143 136.6Z" fill="#052"/>
<path d="M139.3 139.5 141.5 137.9 142.5 136.9 143 136.6 142 137.7 139.8 139.3Z" fill="#042"/>
<path d="M138.3 140.1 139.3 139.5 139.8 139.3 138.8 140Z" fill="#041"/>
<path d="M134.5 142.5 138.3 140.1 138.8 140 135 142.5Z" fill="#042"/>
<path d="M130.7 145.1 134.5 142.5 135 142.5 131.2 145.3Z" fill="#062"/>
<path d="M126.9 147.4 130.7 145.1 131.2 145.3 127.5 147.6Z" fill="#083"/>
<path d="M104.3 158.8 126.9 147.4 127.5 147.6 104.8 159Z" fill="#094"/>
<path d="M199.6 109.7 218 100.2 218.5 100.4 200.1 109.9Z" fill="#1b4"/>
<path d="M162.2 128.1 170.7 124.4 190.4 114.5 199.6 109.7 200.1 109.9 190.9 114.8 171.3 124.7 162.7 128.4Z" fill="#0b4"/>
<path d="M159 128.4 160.1 128.6 162.2 128.1 162.7 128.4 160.6 128.9 159.5 128.8Z" fill="#1b4"/>
<path d="M158 127.7 159 128.4 159.5 128.8 158.5 128.2Z" fill="#1c4"/>
<path d="M156.9 126.2 158 127.7 158.5 128.2 157.4 126.8Z" fill="#2d4"/>
<path d="M155.8 123.7 156.9 126.2 157.4 126.8 156.3 124.4Z" fill="#3e4"/>
<path d="M154.8 120 155.8 123.7 156.3 124.4 155.3 120.9Z" fill="#4f4"/>
<path d="M153.7 115.1 154.8 120 155.3 120.9 154.2 116.4Z" fill="#6f4"/>
<path d="M152.6 109.6 153.7 115.1 154.2 116.4 153.2 111.1Z" fill="#9f3"/>
<path d="M151.6 105.6 152.6 109.6 153.2 111.1 152.1 107.3Z" fill="#cf3"/>
<path d="M150.5 107.1 151.6 105.6 152.1 107.3 151 108.9Z" fill="#df3"/>
<path d="M149.4 113.2 150.5 107.1 151 108.9 150 114.6Z" fill="#bf3"/>
<path d="M148.4 119.7 149.4 113.2 150 114.6 148.9 120.8Z" fill="#8f3"/>
<path d="M147.3 125.2 148.4 119.7 148.9 120.8 147.8 126.1Z" fill="#6f4"/>
<path d="M146.2 129.5 147.3 125.2 147.8 126.1 146.8 130.3Z" fill="#4f4"/>
<path d="M145.2 132.8 146.2 129.5 146.8 130.3 145.7 133.4Z" fill="#2e4"/>
<path d="M144.1 135.1 145.2 132.8 145.7 133.4 144.6 135.6Z" fill="#1e5"/>
<path d="M140.9 138.6 143 136.6 144.1 135.1 144.6 135.6 143.6 137.1 141.4 139Z" fill="#1d5"/>
<path d="M138.8 140 140.9 138.6 141.4 139 139.3 140.4Z" fill="#1c5"/>
<path d="M135 142.5 138.8 140 139.3 140.4 135.5 142.8Z" fill="#0c5"/>
<path d="M131.2 145.3 135 142.5 135.5 142.8 131.8 145.5Z" fill="#0b4"/>
<path d="M127.5 147.6 131.2 145.3 131.8 145.5 128 147.9Z" fill="#0a4"/>
<path d="M104.8 159 127.5 147.6 128 147.9 105.3 159.2Z" fill="#094"/>
<path d="M203.2 108.3 218.5 100.4 219.1 100.9 203.7 108.9Z" fill="#1d5"/>
<path d="M200.1 109.9 203.2 108.3 203.7 108.9 200.6 110.5Z" fill="#1c5"/>
<path d="M163.8 128 175.5 122.7 200.1 109.9 200.6 110.5 194.5 113.8 173.9 124.3 164.3 128.6Z" fill="#0c5"/>
<path d="M162.7 128.4 163.8 128 164.3 128.6 163.3 129Z" fill="#1c5"/>
<path d="M158.5 128.2 159.5 128.8 160.6 128.9 162.7 128.4 163.3 129 162.2 129.4 160.1 129.7 159 129.3Z" fill="#1d5"/>
<path d="M157.4 126.8 158.5 128.2 159 129.3 157.9 128.3Z" fill="#1e5"/>
<path d="M156.3 124.4 157.4 126.8 157.9 128.3 156.9 126.5Z" fill="#2e4"/>
<path d="M155.3 120.9 156.3 124.4 156.9 126.5 155.8 123.8Z" fill="#4f4"/>
<path d="M154.2 116.4 155.3 120.9 155.8 123.8 154.7 120.1Z" fill="#5f4"/>
<path d="M153.2 111.1 154.2 116.4 154.7 120.1 153.7 115.9Z" fill="#8f4"/>
<path d="M152.1 107.3 153.2 111.1 153.7 115.9 152.6 113Z" fill="#af3"/>
<path d="M151 108.9 152.1 107.3 152.6 113 151.5 114.3Z" fill="#bf3"/>
<path d="M150 114.6 151 108.9 151.5 114.3 150.5 119.1Z" fill="#af3"/>
<path d="M148.9 120.8 150 114.6 150.5 119.1 149.4 124.3Z" fill="#7f4"/>
<path d="M147.8 126.1 148.9 120.8 149.4 124.3 148.3 128.7Z" fill="#5f4"/>
<path d="M146.8 130.3 147.8 126.1 148.3 128.7 147.3 132.2Z" fill="#3f4"/>
<path d="M145.7 133.4 146.8 130.3 147.3 132.2 146.2 134.8Z" fill="#2e5"/>
<path d="M144.6 135.6 145.7 133.4 146.2 134.8 145.2 136.7Z" fill="#1e5"/>
<path d="M141.4 139 143.6 137.1 144.6 135.6 145.2 136.7 144.1 138.1 142 139.8Z" fill="#1d5"/>
<path d="M131.8 145.5 141.4 139 142 139.8 132.3 145.9Z" fill="#0c5"/>
<path d="M128 147.9 131.8 145.5 132.3 145.9 128.5 148.1Z" fill="#0b4"/>
<path d="M105.3 159.2 128 147.9 128.5 148.1 105.9 159.5Z" fill="#094"/>
<path d="M206.8 107.2 219.1 100.9 219.6 101.4 207.3 107.8Z" fill="#0d5"/>
<path d="M164.3 128.6 173.9 124.3 194.5 113.8 206.8 107.2 207.3 107.8 188.9 117.6 171.2 126.5 164.8 129Z" fill="#0c5"/>
<path d="M162.2 129.4 164.3 128.6 164.8 129 162.7 129.7Z" fill="#0b4"/>
<path d="M159 129.3 160.1 129.7 162.2 129.4 162.7 129.7 160.6 130.4 159.5 130.5Z" fill="#1d5"/>
<path d="M157.9 128.3 159 129.3 159.5 130.5 158.5 130Z" fill="#1e5"/>
<path d="M156.9 126.5 157.9 128.3 158.5 130 157.4 129Z" fill="#2e5"/>
<path d="M155.8 123.8 156.9 126.5 157.4 129 156.3 127.3Z" fill="#3f4"/>
<path d="M154.7 120.1 155.8 123.8 156.3 127.3 155.3 124.9Z" fill="#4f4"/>
<path d="M153.7 115.9 154.7 120.1 155.3 124.9 154.2 122.1Z" fill="#6f4"/>
<path d="M152.6 113 153.7 115.9 154.2 122.1 153.1 120.2Z" fill="#7f4"/>
<path d="M151.5 114.3 152.6 113 153.1 120.2 152.1 121.3Z" fill="#8f4"/>
<path d="M150.5 119.1 151.5 114.3 152.1 121.3 151 124.9Z" fill="#7f4"/>
<path d="M149.4 124.3 150.5 119.1 151 124.9 149.9 128.7Z" fill="#5f4"/>
<path d="M148.3 128.7 149.4 124.3 149.9 128.7 148.9 131.9Z" fill="#3f4"/>
<path d="M147.3 132.2 148.3 128.7 148.9 131.9 147.8 134.6Z" fill="#2e5"/>
<path d="M146.2 134.8 147.3 132.2 147.8 134.6 146.7 136.6Z" fill="#1e5"/>
<path d="M144.1 138.1 145.2 136.7 146.2 134.8 146.7 136.6 145.7 138.1 144.6 139.2Z" fill="#1d5"/>
<path d="M143 139 144.1 138.1 144.6 139.2 143.5 140Z" fill="#0d5"/>
<path d="M132.3 145.9 143 139 143.5 140 132.8 146.3Z" fill="#0c5"/>
<path d="M128.5 148.1 132.3 145.9 132.8 146.3 129 148.4Z" fill="#0b4"/>
<path d="M121 151.9 128.5 148.1 129 148.4 121.5 152.2Z" fill="#0a4"/>
<path d="M105.9 159.5 121 151.9 121.5 152.2 106.4 159.8Z" fill="#094"/>
<path d="M182.7 120.8 219.6 101.4 220.1 101.7 183.2 121.1Z" fill="#0c5"/>
<path d="M176.6 123.9 182.7 120.8 183.2 121.1 177.1 124.2Z" fill="#0b5"/>
<path d="M172.3 126 176.6 123.9 177.1 124.2 172.8 126.2Z" fill="#0b4"/>
<path d="M170.2 126.9 172.3 126 172.8 126.2 170.7 127.1Z" fill="#0a4"/>
<path d="M169.1 127.4 170.2 126.9 170.7 127.1 169.6 127.5Z" fill="#094"/>
<path d="M168 127.8 169.1 127.4 169.6 127.5 168.6 127.9Z" fill="#073"/>
<path d="M167 128.3 168 127.8 168.6 127.9 167.5 128.2Z" fill="#052"/>
<path d="M165.9 128.6 167 128.3 167.5 128.2 166.4 128.4Z" fill="#031"/>
<path d="M161.7 130.1 165.9 128.6 166.4 128.4 163.2 129.1 162.2 129.8Z" fill="#021"/>
<path d="M160.6 130.4 161.7 130.1 162.2 129.8 161.1 130.5Z" fill="#042"/>
<path d="M159.5 130.5 160.6 130.4 161.1 130.5 160 131Z" fill="#1b4"/>
<path d="M158.5 130 159.5 130.5 160 131 159 131.2Z" fill="#1d5"/>
<path d="M157.4 129 158.5 130 159 131.2 157.9 131Z" fill="#1e5"/>
<path d="M156.3 127.3 157.4 129 157.9 131 156.8 130.3Z" fill="#2e5"/>
<path d="M155.3 124.9 156.3 127.3 156.8 130.3 155.8 129.1Z" fill="#2f5"/>
<path d="M154.2 122.1 155.3 124.9 155.8 129.1 154.7 127.7Z" fill="#3f4"/>
<path d="M153.1 120.2 154.2 122.1 154.7 127.7 153.6 126.8Z" fill="#4f4"/>
<path d="M152.1 121.3 153.1 120.2 153.6 126.8 152.6 127.7Z" fill="#5f4"/>
<path d="M151 124.9 152.1 121.3 152.6 127.7 151.5 130.1Z" fill="#4f4"/>
<path d="M149.9 128.7 151 124.9 151.5 130.1 150.5 132.6Z" fill="#3f4"/>
<path d="M148.9 131.9 149.9 128.7 150.5 132.6 149.4 134.8Z" fill="#2e5"/>
<path d="M147.8 134.6 148.9 131.9 149.4 134.8 148.3 136.6Z" fill="#1e5"/>
<path d="M145.7 138.1 146.7 136.6 147.8 134.6 148.3 136.6 146.2 139.2Z" fill="#1d5"/>
<path d="M132.8 146.3 143.5 140 145.7 138.1 146.2 139.2 144.1 140.8 133.3 146.6Z" fill="#0c5"/>
<path d="M117.7 154.1 132.8 146.3 133.3 146.6 118.2 154.3Z" fill="#0a4"/>
<path d="M106.4 159.8 117.7 154.1 118.2 154.3 106.9 160Z" fill="#094"/>
<path d="M217 103.3 220.1 101.7 220.6 101.8 217.6 103.4Z" fill="#093"/>
<path d="M192.5 116.4 217 103.3 217.6 103.4 193 116.5Z" fill="#094"/>
<path d="M186.3 119.6 192.5 116.4 193 116.5 186.8 119.6Z" fill="#083"/>
<path d="M183.2 121.1 186.3 119.6 186.8 119.6 183.8 121.1Z" fill="#063"/>
<path d="M180.2 122.7 183.2 121.1 183.8 121.1 180.7 122.6Z" fill="#052"/>
<path d="M177.1 124.2 180.2 122.7 180.7 122.6 177.6 124Z" fill="#042"/>
<path d="M175 125.2 177.1 124.2 177.6 124 175.5 125Z" fill="#041"/>
<path d="M171.8 126.7 175 125.2 175.5 125 172.3 126.4Z" fill="#031"/>
<path d="M163.2 129.1 169.6 127.5 171.8 126.7 172.3 126.4 171.2 126.7 168 127.1 164.8 126.6 163.8 126.8Z" fill="#021"/>
<path d="M160 131 163.2 129.1 163.8 126.8 160.6 130.5Z" fill="#031"/>
<path d="M159 131.2 160 131 160.6 130.5 159.5 131.4Z" fill="#042"/>
<path d="M157.9 131 159 131.2 159.5 131.4 158.4 132Z" fill="#1d5"/>
<path d="M155.8 129.1 156.8 130.3 157.9 131 158.4 132 157.4 132.2 156.3 132Z" fill="#1e5"/>
<path d="M154.7 127.7 155.8 129.1 156.3 132 155.2 131.7Z" fill="#2e5"/>
<path d="M151.5 130.1 152.6 127.7 153.6 126.8 154.7 127.7 155.2 131.7 154.2 131.6 153.1 132.3 152 133.9Z" fill="#2f5"/>
<path d="M149.4 134.8 151.5 130.1 152 133.9 149.9 136.9Z" fill="#1e5"/>
<path d="M148.3 136.6 149.4 134.8 149.9 136.9 148.8 138.1Z" fill="#1d5"/>
<path d="M147.3 138 148.3 136.6 148.8 138.1 147.8 139.1Z" fill="#0d5"/>
<path d="M137.1 144.6 144.1 140.8 146.2 139.2 147.3 138 147.8 139.1 145.6 140.6 137.6 145Z" fill="#0c5"/>
<path d="M133.3 146.6 137.1 144.6 137.6 145 133.8 146.9Z" fill="#0b4"/>
<path d="M122 152.4 133.3 146.6 133.8 146.9 122.5 152.7Z" fill="#0a4"/>
<path d="M106.9 160 122 152.4 122.5 152.7 107.4 160.3Z" fill="#094"/>
<path d="M193 116.5 220.6 101.8 221.2 101.7 193.5 116.3Z" fill="#052"/>
<path d="M189.9 118.1 193 116.5 193.5 116.3 190.4 117.9Z" fill="#042"/>
<path d="M183.8 121.1 189.9 118.1 190.4 117.9 184.3 120.7Z" fill="#031"/>
<path d="M163.8 126.8 164.8 126.6 168 127.1 171.2 126.7 177.6 124 183.8 121.1 184.3 120.7 178.1 123.4 172.8 125.4 170.7 125.5 168.5 124.8 165.3 122.1 164.3 122.1Z" fill="#021"/>
<path d="M162.7 127.9 163.8 126.8 164.3 122.1 163.2 124Z" fill="#141"/>
<path d="M160.6 130.5 162.7 127.9 163.2 124 161.1 128.7Z" fill="#041"/>
<path d="M158.4 132 159.5 131.4 160.6 130.5 161.1 128.7 158.9 131.8Z" fill="#031"/>
<path d="M157.4 132.2 158.4 132 158.9 131.8 157.9 132.8Z" fill="#1c4"/>
<path d="M156.3 132 157.4 132.2 157.9 132.8 156.8 133.5Z" fill="#1d5"/>
<path d="M152 133.9 153.1 132.3 154.2 131.6 156.3 132 156.8 133.5 154.7 134.3 152.6 136.1Z" fill="#1e5"/>
<path d="M151 135.4 152 133.9 152.6 136.1 151.5 137.1Z" fill="#1d5"/>
<path d="M148.8 138.1 151 135.4 151.5 137.1 149.4 138.9Z" fill="#0d5"/>
<path d="M145.6 140.6 148.8 138.1 149.4 138.9 146.2 141Z" fill="#0c5"/>
<path d="M144.6 141.3 145.6 140.6 146.2 141 145.1 141.6Z" fill="#0b5"/>
<path d="M143.5 141.9 144.6 141.3 145.1 141.6 144 142.2Z" fill="#0b4"/>
<path d="M130.1 148.8 143.5 141.9 144 142.2 130.6 149.1Z" fill="#0a4"/>
<path d="M107.4 160.3 130.1 148.8 130.6 149.1 107.9 160.5Z" fill="#094"/>
<path d="M190.4 117.9 221.2 101.7 221.7 101.4 203.2 111.1 190.9 117.5Z" fill="#031"/>
<path d="M167.5 124 169.6 125.3 170.7 125.5 172.8 125.4 178.1 123.4 190.4 117.9 190.9 117.5 187.9 118.8 176.5 122.9 173.3 123.7 172.3 123.6 171.2 123.1 170.1 122.2 169.1 120.9 168 119.1Z" fill="#021"/>
<path d="M164.3 122.1 165.3 122.1 167.5 124 168 119.1 165.9 114.8 164.8 114.4Z" fill="#131"/>
<path d="M160 130.5 162.1 126.5 163.2 124 164.3 122.1 164.8 114.4 163.7 117.4 162.7 121.5 160.5 128.2Z" fill="#141"/>
<path d="M158.9 131.8 160 130.5 160.5 128.2 159.5 130.6Z" fill="#041"/>
<path d="M157.9 132.8 158.9 131.8 159.5 130.6 158.4 132.4Z" fill="#031"/>
<path d="M156.8 133.5 157.9 132.8 158.4 132.4 157.3 133.7Z" fill="#062"/>
<path d="M153.6 135 154.7 134.3 156.8 133.5 157.3 133.7 154.1 136.3Z" fill="#1d5"/>
<path d="M151.5 137.1 153.6 135 154.1 136.3 152 137.9Z" fill="#0d5"/>
<path d="M148.3 139.7 151.5 137.1 152 137.9 148.8 140Z" fill="#0c5"/>
<path d="M147.2 140.4 148.3 139.7 148.8 140 147.7 140.6Z" fill="#0b4"/>
<path d="M145.1 141.6 147.2 140.4 147.7 140.6 145.6 141.8Z" fill="#0a4"/>
<path d="M107.9 160.5 145.1 141.6 145.6 141.8 108.5 160.8Z" fill="#094"/>
<path d="M218.6 102.9 221.7 101.4 222.2 100.9 219.1 102.5Z" fill="#021"/>
<path d="M203.2 111.1 218.6 102.9 219.1 102.5 203.8 110.7Z" fill="#031"/>
<path d="M171.2 123.1 172.3 123.6 173.3 123.7 176.5 122.9 187.9 118.8 197.1 114.4 203.2 111.1 203.8 110.7 194.5 115.5 188.4 118 176 121.3 173.8 121.3 172.8 120.8 171.7 119.7Z" fill="#021"/>
<path d="M165.9 114.8 169.1 120.9 170.1 122.2 171.2 123.1 171.7 119.7 170.6 117.9 169.6 115.5 166.4 104.8Z" fill="#131"/>
<path d="M164.8 114.4 165.9 114.8 166.4 104.8 165.3 103.8Z" fill="#231"/>
<path d="M163.7 117.4 164.8 114.4 165.3 103.8 164.3 108.2Z" fill="#341"/>
<path d="M162.7 121.5 163.7 117.4 164.3 108.2 163.2 114.6Z" fill="#241"/>
<path d="M159.5 130.6 161.6 125.2 162.7 121.5 163.2 114.6 161.1 124.8 160 128.4Z" fill="#141"/>
<path d="M157.3 133.7 158.4 132.4 159.5 130.6 160 128.4 158.9 131.2 157.9 133.2Z" fill="#041"/>
<path d="M156.3 134.7 157.3 133.7 157.9 133.2 156.8 134.7Z" fill="#042"/>
<path d="M155.2 135.5 156.3 134.7 156.8 134.7 155.7 135.8Z" fill="#093"/>
<path d="M152 137.9 155.2 135.5 155.7 135.8 152.5 138.2Z" fill="#0c5"/>
<path d="M150.9 138.7 152 137.9 152.5 138.2 151.5 138.9Z" fill="#0b4"/>
<path d="M149.9 139.3 150.9 138.7 151.5 138.9 150.4 139.5Z" fill="#0a4"/>
<path d="M148.8 140 149.9 139.3 150.4 139.5 149.3 140.2Z" fill="#094"/>
<path d="M134.9 147.3 148.8 140 149.3 140.2 135.4 147.5Z" fill="#083"/>
<path d="M108.5 160.8 134.9 147.3 135.4 147.5 109 161Z" fill="#094"/>
<path d="M173.8 121.3 176 121.3 188.4 118 194.5 115.5 222.2 100.9 222.7 100.3 198.1 113.4 192 116.1 188.9 117 185.8 117.7 177.6 118.8 175.4 118.9 174.4 118.5Z" fill="#021"/>
<path d="M168.5 112.3 169.6 115.5 170.6 117.9 171.7 119.7 172.8 120.8 173.8 121.3 174.4 118.5 173.3 117.5 172.2 115.8 171.2 113 170.1 109.2 169 104.4Z" fill="#131"/>
<path d="M167.4 108.6 168.5 112.3 169 104.4 168 99Z" fill="#231"/>
<path d="M166.4 104.8 167.4 108.6 168 99 166.9 93.3Z" fill="#230"/>
<path d="M165.3 103.8 166.4 104.8 166.9 93.3 165.8 91.6Z" fill="#320"/>
<path d="M164.3 108.2 165.3 103.8 165.8 91.6 164.8 97.7Z" fill="#441"/>
<path d="M163.2 114.6 164.3 108.2 164.8 97.7 163.7 106.6Z" fill="#341"/>
<path d="M161.1 124.8 163.2 114.6 163.7 106.6 161.6 120.8Z" fill="#241"/>
<path d="M158.9 131.2 160 128.4 161.1 124.8 161.6 120.8 160.5 125.8 159.4 129.6Z" fill="#141"/>
<path d="M156.8 134.7 157.9 133.2 158.9 131.2 159.4 129.6 158.4 132.3 157.3 134.2Z" fill="#041"/>
<path d="M155.7 135.8 156.8 134.7 157.3 134.2 156.2 135.6Z" fill="#042"/>
<path d="M154.7 136.7 155.7 135.8 156.2 135.6 155.2 136.6Z" fill="#052"/>
<path d="M153.6 137.5 154.7 136.7 155.2 136.6 154.1 137.5Z" fill="#063"/>
<path d="M144 143.1 152.5 138.2 153.6 137.5 154.1 137.5 153.1 138.3 144.5 143.2Z" fill="#073"/>
<path d="M135.4 147.5 144 143.1 144.5 143.2 135.9 147.7Z" fill="#083"/>
<path d="M131.6 149.5 135.4 147.5 135.9 147.7 132.1 149.7Z" fill="#084"/>
<path d="M109 161 131.6 149.5 132.1 149.7 109.5 161.2Z" fill="#094"/>
<path d="M201.2 111.8 222.7 100.3 223.2 99.8 201.7 111.3Z" fill="#031"/>
<path d="M179.7 118.5 185.8 117.7 188.9 117 192 116.1 198.1 113.4 201.2 111.8 201.7 111.3 195.6 114.3 192.5 115.4 189.4 116.2 186.4 116.5 180.2 116.7Z" fill="#021"/>
<path d="M178.6 118.7 179.7 118.5 180.2 116.7 179.1 116.8Z" fill="#031"/>
<path d="M171.2 113 172.2 115.8 173.3 117.5 174.4 118.5 175.4 118.9 177.6 118.8 178.6 118.7 179.1 116.8 178.1 116.9 176 116.6 174.9 116 173.8 114.6 172.8 112.2 171.7 108.5Z" fill="#131"/>
<path d="M169 104.4 170.1 109.2 171.2 113 171.7 108.5 170.6 103.6 169.6 97.3Z" fill="#231"/>
<path d="M166.9 93.3 169 104.4 169.6 97.3 167.4 82.8Z" fill="#320"/>
<path d="M165.8 91.6 166.9 93.3 167.4 82.8 166.4 80.5Z" fill="#210"/>
<path d="M164.8 97.7 165.8 91.6 166.4 80.5 165.3 88.2Z" fill="#420"/>
<path d="M163.7 106.6 164.8 97.7 165.3 88.2 164.2 99.4Z" fill="#541"/>
<path d="M162.6 114.5 163.7 106.6 164.2 99.4 163.2 109.2Z" fill="#341"/>
<path d="M161.6 120.8 162.6 114.5 163.2 109.2 162.1 117.2Z" fill="#241"/>
<path d="M158.4 132.3 159.4 129.6 160.5 125.8 161.6 120.8 162.1 117.2 161 123.4 160 128 158.9 131.4Z" fill="#141"/>
<path d="M157.3 134.2 158.4 132.3 158.9 131.4 157.8 133.7Z" fill="#041"/>
<path d="M156.2 135.6 157.3 134.2 157.8 133.7 156.8 135.3Z" fill="#042"/>
<path d="M154.1 137.5 156.2 135.6 156.8 135.3 154.6 137.5Z" fill="#052"/>
<path d="M152 139 154.1 137.5 154.6 137.5 152.5 139Z" fill="#062"/>
<path d="M150.9 139.6 152 139 152.5 139 151.4 139.7Z" fill="#063"/>
<path d="M145.6 142.6 150.9 139.6 151.4 139.7 146.1 142.7Z" fill="#073"/>
<path d="M135.9 147.7 145.6 142.6 146.1 142.7 136.4 147.9Z" fill="#083"/>
<path d="M109.5 161.2 135.9 147.7 136.4 147.9 110 161.5Z" fill="#094"/>
<path d="M198.7 112.9 223.2 99.8 223.8 99.6 199.2 112.6Z" fill="#041"/>
<path d="M192.5 115.4 195.6 114.3 198.7 112.9 199.2 112.6 196.1 114 193 115.1Z" fill="#031"/>
<path d="M183.3 116.6 186.4 116.5 189.4 116.2 192.5 115.4 193 115.1 190 115.7 186.9 115.9 183.8 115.7Z" fill="#021"/>
<path d="M171.7 108.5 172.8 112.2 173.8 114.6 174.9 116 176 116.6 178.1 116.9 183.3 116.6 183.8 115.7 178.6 115.7 176.5 115.3 175.4 114.5 174.3 112.8 173.3 110 172.2 105.7Z" fill="#131"/>
<path d="M170.6 103.6 171.7 108.5 172.2 105.7 171.1 100.1Z" fill="#231"/>
<path d="M168.5 90.3 170.6 103.6 171.1 100.1 169 84.8Z" fill="#320"/>
<path d="M166.4 80.5 167.4 82.8 168.5 90.3 169 84.8 167.9 76.2 166.9 73.5Z" fill="#210"/>
<path d="M165.3 88.2 166.4 80.5 166.9 73.5 165.8 82.2Z" fill="#310"/>
<path d="M164.2 99.4 165.3 88.2 165.8 82.2 164.7 94.8Z" fill="#421"/>
<path d="M163.2 109.2 164.2 99.4 164.7 94.8 163.7 106Z" fill="#441"/>
<path d="M162.1 117.2 163.2 109.2 163.7 106 162.6 114.9Z" fill="#341"/>
<path d="M161 123.4 162.1 117.2 162.6 114.9 161.6 121.9Z" fill="#241"/>
<path d="M158.9 131.4 160 128 161 123.4 161.6 121.9 160.5 127.2 159.4 130.9Z" fill="#141"/>
<path d="M157.8 133.7 158.9 131.4 159.4 130.9 158.4 133.5Z" fill="#052"/>
<path d="M155.7 136.5 156.8 135.3 157.8 133.7 158.4 133.5 157.3 135.2 156.2 136.5Z" fill="#062"/>
<path d="M151.4 139.7 154.6 137.5 155.7 136.5 156.2 136.5 155.2 137.5 152 139.8Z" fill="#073"/>
<path d="M144 143.9 151.4 139.7 152 139.8 144.5 144Z" fill="#083"/>
<path d="M110 161.5 144 143.9 144.5 144 110.5 161.7Z" fill="#094"/>
<path d="M211.5 106.1 223.8 99.6 224.3 99.6 212 106.1Z" fill="#193"/>
<path d="M199.2 112.6 211.5 106.1 212 106.1 199.7 112.7Z" fill="#1a3"/>
<path d="M190 115.7 193 115.1 196.1 114 199.2 112.6 199.7 112.7 196.6 114.1 193.6 115.2 190.5 115.8Z" fill="#193"/>
<path d="M186.9 115.9 190 115.7 190.5 115.8 187.4 115.9Z" fill="#183"/>
<path d="M183.8 115.7 186.9 115.9 187.4 115.9 184.3 115.8Z" fill="#182"/>
<path d="M177.5 115.6 183.8 115.7 184.3 115.8 178.1 115.6Z" fill="#272"/>
<path d="M176.5 115.3 177.5 115.6 178.1 115.6 177 115.3Z" fill="#262"/>
<path d="M174.3 112.8 175.4 114.5 176.5 115.3 177 115.3 175.9 114.5 174.9 112.8Z" fill="#251"/>
<path d="M173.3 110 174.3 112.8 174.9 112.8 173.8 109.9Z" fill="#241"/>
<path d="M171.1 100.1 172.2 105.7 173.3 110 173.8 109.9 172.7 105.6 171.7 99.9Z" fill="#231"/>
<path d="M170.1 92.9 171.1 100.1 171.7 99.9 170.6 92.6Z" fill="#320"/>
<path d="M169 84.8 170.1 92.9 170.6 92.6 169.5 84.4Z" fill="#310"/>
<path d="M167.9 76.2 169 84.8 169.5 84.4 168.5 75.7Z" fill="#210"/>
<path d="M166.9 73.5 167.9 76.2 168.5 75.7 167.4 73Z" fill="#100"/>
<path d="M165.8 82.2 166.9 73.5 167.4 73 166.3 81.8Z" fill="#310"/>
<path d="M164.7 94.8 165.8 82.2 166.3 81.8 165.3 94.6Z" fill="#521"/>
<path d="M163.7 106 164.7 94.8 165.3 94.6 164.2 105.8Z" fill="#761"/>
<path d="M162.6 114.9 163.7 106 164.2 105.8 163.1 114.9Z" fill="#582"/>
<path d="M161.6 121.9 162.6 114.9 163.1 114.9 162.1 122Z" fill="#492"/>
<path d="M160.5 127.2 161.6 121.9 162.1 122 161 127.2Z" fill="#3b3"/>
<path d="M159.4 130.9 160.5 127.2 161 127.2 159.9 131Z" fill="#2b3"/>
<path d="M157.3 135.2 158.4 133.5 159.4 130.9 159.9 131 158.9 133.6 157.8 135.4Z" fill="#1c4"/>
<path d="M156.2 136.5 157.3 135.2 157.8 135.4 156.7 136.7Z" fill="#1b4"/>
<path d="M155.2 137.5 156.2 136.5 156.7 136.7 155.7 137.7Z" fill="#0b4"/>
<path d="M144.5 144 153 139.1 155.2 137.5 155.7 137.7 153.5 139.3 145 144.2Z" fill="#0a4"/>
<path d="M110.5 161.7 144.5 144 145 144.2 111 162Z" fill="#094"/>
<path d="M190.5 115.8 193.6 115.2 196.6 114.1 202.8 111.1 224.3 99.6 224.8 100 206.4 109.9 197.1 114.6 194.1 115.7 191 116.5Z" fill="#1e5"/>
<path d="M187.4 115.9 190.5 115.8 191 116.5 187.9 116.8Z" fill="#2e5"/>
<path d="M184.3 115.8 187.4 115.9 187.9 116.8 184.9 116.8Z" fill="#3f5"/>
<path d="M181.3 115.7 184.3 115.8 184.9 116.8 181.8 116.9Z" fill="#3f4"/>
<path d="M178.1 115.6 181.3 115.7 181.8 116.9 178.6 117Z" fill="#4f4"/>
<path d="M175.9 114.5 177 115.3 178.1 115.6 178.6 117 177.5 116.7 176.4 116Z" fill="#5f4"/>
<path d="M174.9 112.8 175.9 114.5 176.4 116 175.4 114.6Z" fill="#6f4"/>
<path d="M173.8 109.9 174.9 112.8 175.4 114.6 174.3 112.1Z" fill="#7f4"/>
<path d="M172.7 105.6 173.8 109.9 174.3 112.1 173.3 108.2Z" fill="#9f4"/>
<path d="M171.7 99.9 172.7 105.6 173.3 108.2 172.2 103.1Z" fill="#cf3"/>
<path d="M170.6 92.6 171.7 99.9 172.2 103.1 171.1 96.6Z" fill="#fe3"/>
<path d="M169.5 84.4 170.6 92.6 171.1 96.6 170.1 89.3Z" fill="#fa2"/>
<path d="M168.5 75.7 169.5 84.4 170.1 89.3 169 81.5Z" fill="#c52"/>
<path d="M167.4 73 168.5 75.7 169 81.5 167.9 79.1Z" fill="#931"/>
<path d="M166.3 81.8 167.4 73 167.9 79.1 166.9 87.1Z" fill="#b41"/>
<path d="M165.3 94.6 166.3 81.8 166.9 87.1 165.8 98.7Z" fill="#f82"/>
<path d="M164.2 105.8 165.3 94.6 165.8 98.7 164.7 108.9Z" fill="#fe3"/>
<path d="M163.1 114.9 164.2 105.8 164.7 108.9 163.7 117.1Z" fill="#af3"/>
<path d="M162.1 122 163.1 114.9 163.7 117.1 162.6 123.5Z" fill="#7f4"/>
<path d="M161 127.2 162.1 122 162.6 123.5 161.5 128.3Z" fill="#4f4"/>
<path d="M159.9 131 161 127.2 161.5 128.3 160.5 131.8Z" fill="#2f5"/>
<path d="M157.8 135.4 158.9 133.6 159.9 131 160.5 131.8 159.4 134.2 158.3 135.9Z" fill="#1e5"/>
<path d="M156.7 136.7 157.8 135.4 158.3 135.9 157.3 137.1Z" fill="#1d5"/>
<path d="M155.7 137.7 156.7 136.7 157.3 137.1 156.2 138Z" fill="#0d5"/>
<path d="M153.5 139.3 155.7 137.7 156.2 138 154.1 139.6Z" fill="#0c5"/>
<path d="M152.5 139.9 153.5 139.3 154.1 139.6 153 140.2Z" fill="#0b5"/>
<path d="M149.3 141.9 152.5 139.9 153 140.2 149.8 142.1Z" fill="#0b4"/>
<path d="M111 162 146.1 143.7 149.3 141.9 149.8 142.1 146.6 143.9 111.6 162.2Z" fill="#0a4"/>
<path d="M191 116.5 194.1 115.7 197.1 114.6 206.4 109.9 224.8 100 225.3 100.6 200.7 113.9 194.6 116.6 191.5 117.6Z" fill="#1e5"/>
<path d="M187.9 116.8 191 116.5 191.5 117.6 188.4 118.1Z" fill="#2e5"/>
<path d="M184.9 116.8 187.9 116.8 188.4 118.1 185.4 118.5Z" fill="#2f5"/>
<path d="M181.8 116.9 184.9 116.8 185.4 118.5 182.3 118.9Z" fill="#3f5"/>
<path d="M178.6 117 181.8 116.9 182.3 118.9 179.1 119.3Z" fill="#3f4"/>
<path d="M176.4 116 177.5 116.7 178.6 117 179.1 119.3 178 119.2 177 118.8Z" fill="#4f4"/>
<path d="M175.4 114.6 176.4 116 177 118.8 175.9 117.7Z" fill="#5f4"/>
<path d="M174.3 112.1 175.4 114.6 175.9 117.7 174.8 115.8Z" fill="#6f4"/>
<path d="M173.3 108.2 174.3 112.1 174.8 115.8 173.8 112.8Z" fill="#8f4"/>
<path d="M172.2 103.1 173.3 108.2 173.8 112.8 172.7 108.8Z" fill="#af3"/>
<path d="M171.1 96.6 172.2 103.1 172.7 108.8 171.6 103.7Z" fill="#df3"/>
<path d="M170.1 89.3 171.1 96.6 171.6 103.7 170.6 98Z" fill="#fd3"/>
<path d="M169 81.5 170.1 89.3 170.6 98 169.5 91.8Z" fill="#f92"/>
<path d="M167.9 79.1 169 81.5 169.5 91.8 168.4 90Z" fill="#d62"/>
<path d="M166.9 87.1 167.9 79.1 168.4 90 167.4 96.5Z" fill="#e72"/>
<path d="M165.8 98.7 166.9 87.1 167.4 96.5 166.3 105.9Z" fill="#fc2"/>
<path d="M164.7 108.9 165.8 98.7 166.3 105.9 165.2 114.2Z" fill="#df3"/>
<path d="M163.7 117.1 164.7 108.9 165.2 114.2 164.2 120.9Z" fill="#9f4"/>
<path d="M162.6 123.5 163.7 117.1 164.2 120.9 163.1 126.2Z" fill="#5f4"/>
<path d="M161.5 128.3 162.6 123.5 163.1 126.2 162 130.2Z" fill="#3f4"/>
<path d="M160.5 131.8 161.5 128.3 162 130.2 161 133Z" fill="#2f5"/>
<path d="M159.4 134.2 160.5 131.8 161 133 159.9 135.1Z" fill="#1e5"/>
<path d="M158.3 135.9 159.4 134.2 159.9 135.1 158.8 136.5Z" fill="#1d5"/>
<path d="M156.2 138 158.3 135.9 158.8 136.5 156.7 138.5Z" fill="#0d5"/>
<path d="M151.9 140.9 156.2 138 156.7 138.5 152.5 141.2Z" fill="#0c5"/>
<path d="M149.8 142.1 151.9 140.9 152.5 141.2 150.3 142.4Z" fill="#0b5"/>
<path d="M145.5 144.5 149.8 142.1 150.3 142.4 146.1 144.8Z" fill="#0b4"/>
<path d="M111.6 162.2 145.5 144.5 146.1 144.8 112.1 162.5Z" fill="#0a4"/>
<path d="M213 107.2 225.3 100.6 225.9 101.3 213.6 107.9Z" fill="#1e5"/>
<path d="M194.6 116.6 200.7 113.9 213 107.2 213.6 107.9 201.3 114.7 195.1 117.7Z" fill="#1d5"/>
<path d="M185.4 118.5 191.5 117.6 194.6 116.6 195.1 117.7 192 118.8 185.9 120.4Z" fill="#1e5"/>
<path d="M182.3 118.9 185.4 118.5 185.9 120.4 182.8 121.2Z" fill="#2e5"/>
<path d="M179.1 119.3 182.3 118.9 182.8 121.2 179.6 122Z" fill="#2f5"/>
<path d="M178 119.2 179.1 119.3 179.6 122 178.6 122.1Z" fill="#3f5"/>
<path d="M175.9 117.7 177 118.8 178 119.2 178.6 122.1 177.5 121.9 176.4 121.3Z" fill="#3f4"/>
<path d="M174.8 115.8 175.9 117.7 176.4 121.3 175.4 120.1Z" fill="#4f4"/>
<path d="M173.8 112.8 174.8 115.8 175.4 120.1 174.3 118.1Z" fill="#5f4"/>
<path d="M172.7 108.8 173.8 112.8 174.3 118.1 173.2 115.4Z" fill="#7f4"/>
<path d="M171.6 103.7 172.7 108.8 173.2 115.4 172.2 111.9Z" fill="#9f4"/>
<path d="M170.6 98 171.6 103.7 172.2 111.9 171.1 108Z" fill="#cf3"/>
<path d="M169.5 91.8 170.6 98 171.1 108 170 103.7Z" fill="#fe3"/>
<path d="M168.4 90 169.5 91.8 170 103.7 169 102.6Z" fill="#fc2"/>
<path d="M167.4 96.5 168.4 90 169 102.6 167.9 107.4Z" fill="#fd3"/>
<path d="M166.3 105.9 167.4 96.5 167.9 107.4 166.8 114.3Z" fill="#df3"/>
<path d="M165.2 114.2 166.3 105.9 166.8 114.3 165.8 120.4Z" fill="#9f4"/>
<path d="M164.2 120.9 165.2 114.2 165.8 120.4 164.7 125.3Z" fill="#6f4"/>
<path d="M163.1 126.2 164.2 120.9 164.7 125.3 163.6 129.2Z" fill="#4f4"/>
<path d="M162 130.2 163.1 126.2 163.6 129.2 162.6 132.2Z" fill="#2f5"/>
<path d="M161 133 162 130.2 162.6 132.2 161.5 134.5Z" fill="#1e5"/>
<path d="M158.8 136.5 159.9 135.1 161 133 161.5 134.5 160.4 136.1 159.4 137.3Z" fill="#1d5"/>
<path d="M157.8 137.6 158.8 136.5 159.4 137.3 158.3 138.2Z" fill="#0d5"/>
<path d="M151.4 141.8 156.7 138.5 157.8 137.6 158.3 138.2 157.2 139 151.9 142.2Z" fill="#0c5"/>
<path d="M149.3 143 151.4 141.8 151.9 142.2 149.8 143.3Z" fill="#0b5"/>
<path d="M146.1 144.8 149.3 143 149.8 143.3 146.6 145.1Z" fill="#0b4"/>
<path d="M112.1 162.5 146.1 144.8 146.6 145.1 112.6 162.8Z" fill="#0a4"/>
<path d="M189 119.7 192 118.8 198.2 116.3 225.9 101.3 226.4 102 207.9 112 195.6 118.6 189.5 121.2Z" fill="#1d5"/>
<path d="M179.6 122 189 119.7 189.5 121.2 180.1 124.4Z" fill="#1e5"/>
<path d="M177.5 121.9 178.6 122.1 179.6 122 180.1 124.4 178 124.8Z" fill="#2e5"/>
<path d="M176.4 121.3 177.5 121.9 178 124.8 176.9 124.6Z" fill="#2f5"/>
<path d="M175.4 120.1 176.4 121.3 176.9 124.6 175.9 124Z" fill="#3f5"/>
<path d="M174.3 118.1 175.4 120.1 175.9 124 174.8 123Z" fill="#3f4"/>
<path d="M173.2 115.4 174.3 118.1 174.8 123 173.7 121.4Z" fill="#4f4"/>
<path d="M172.2 111.9 173.2 115.4 173.7 121.4 172.7 119.4Z" fill="#6f4"/>
<path d="M171.1 108 172.2 111.9 172.7 119.4 171.6 117.1Z" fill="#8f4"/>
<path d="M170 103.7 171.1 108 171.6 117.1 170.5 114.6Z" fill="#af4"/>
<path d="M169 102.6 170 103.7 170.5 114.6 169.5 114Z" fill="#bf3"/>
<path d="M167.9 107.4 169 102.6 169.5 114 168.4 117.3Z" fill="#af3"/>
<path d="M166.8 114.3 167.9 107.4 168.4 117.3 167.3 121.9Z" fill="#8f4"/>
<path d="M165.8 120.4 166.8 114.3 167.3 121.9 166.3 126Z" fill="#6f4"/>
<path d="M164.7 125.3 165.8 120.4 166.3 126 165.2 129.4Z" fill="#4f4"/>
<path d="M163.6 129.2 164.7 125.3 165.2 129.4 164.2 132.1Z" fill="#2f5"/>
<path d="M161.5 134.5 162.6 132.2 163.6 129.2 164.2 132.1 163.1 134.2 162 135.8Z" fill="#1e5"/>
<path d="M160.4 136.1 161.5 134.5 162 135.8 161 137Z" fill="#1d5"/>
<path d="M159.4 137.3 160.4 136.1 161 137 159.9 138Z" fill="#0d5"/>
<path d="M154 141 158.3 138.2 159.4 137.3 159.9 138 158.8 138.8 154.6 141.3Z" fill="#0c5"/>
<path d="M150.8 142.8 154 141 154.6 141.3 151.4 143.1Z" fill="#0b5"/>
<path d="M147.6 144.5 150.8 142.8 151.4 143.1 148.2 144.8Z" fill="#0b4"/>
<path d="M112.6 162.8 147.6 144.5 148.2 144.8 113.1 163.1Z" fill="#0a4"/>
<path d="M211 110.3 226.4 102 226.9 102.5 211.5 110.9Z" fill="#1d5"/>
<path d="M189.5 121.2 195.6 118.6 207.9 112 211 110.3 211.5 110.9 199.2 117.7 190 122.3Z" fill="#0d5"/>
<path d="M180.1 124.4 189.5 121.2 190 122.3 180.7 126.3Z" fill="#1d5"/>
<path d="M175.9 124 176.9 124.6 178 124.8 180.1 124.4 180.7 126.3 178.5 127 176.4 127Z" fill="#1e5"/>
<path d="M174.8 123 175.9 124 176.4 127 175.3 126.7Z" fill="#2e5"/>
<path d="M173.7 121.4 174.8 123 175.3 126.7 174.3 126Z" fill="#2f5"/>
<path d="M172.7 119.4 173.7 121.4 174.3 126 173.2 125.1Z" fill="#3f4"/>
<path d="M171.6 117.1 172.7 119.4 173.2 125.1 172.1 124.1Z" fill="#4f4"/>
<path d="M170.5 114.6 171.6 117.1 172.1 124.1 171.1 122.9Z" fill="#5f4"/>
<path d="M168.4 117.3 169.5 114 170.5 114.6 171.1 122.9 170 122.8 168.9 124.9Z" fill="#6f4"/>
<path d="M167.3 121.9 168.4 117.3 168.9 124.9 167.9 127.8Z" fill="#4f4"/>
<path d="M166.3 126 167.3 121.9 167.9 127.8 166.8 130.3Z" fill="#3f4"/>
<path d="M165.2 129.4 166.3 126 166.8 130.3 165.7 132.5Z" fill="#2f5"/>
<path d="M164.2 132.1 165.2 129.4 165.7 132.5 164.7 134.2Z" fill="#1e5"/>
<path d="M162 135.8 163.1 134.2 164.2 132.1 164.7 134.2 162.5 136.8Z" fill="#1d5"/>
<path d="M161 137 162 135.8 162.5 136.8 161.5 137.8Z" fill="#0d5"/>
<path d="M155.6 140.7 159.9 138 161 137 161.5 137.8 160.4 138.6 156.1 141.1Z" fill="#0c5"/>
<path d="M153.5 141.9 155.6 140.7 156.1 141.1 154 142.2Z" fill="#0b5"/>
<path d="M151.4 143.1 153.5 141.9 154 142.2 151.9 143.4Z" fill="#0b4"/>
<path d="M113.1 163.1 151.4 143.1 151.9 143.4 113.6 163.3Z" fill="#0a4"/>
<path d="M223.8 104.1 226.9 102.5 227.4 102.9 224.4 104.5Z" fill="#1d5"/>
<path d="M205.4 114.3 223.8 104.1 224.4 104.5 205.9 114.8Z" fill="#0d5"/>
<path d="M186.9 123.6 196.2 119.4 205.4 114.3 205.9 114.8 199.8 118.2 187.5 124.6Z" fill="#0c5"/>
<path d="M179.6 126.7 186.9 123.6 187.5 124.6 180.1 128.1Z" fill="#0d5"/>
<path d="M176.4 127 178.5 127 179.6 126.7 180.1 128.1 176.9 129.1Z" fill="#1d5"/>
<path d="M173.2 125.1 174.3 126 176.4 127 176.9 129.1 175.9 129.1 173.7 128.9Z" fill="#1e5"/>
<path d="M172.1 124.1 173.2 125.1 173.7 128.9 172.7 128.6Z" fill="#2e5"/>
<path d="M171.1 122.9 172.1 124.1 172.7 128.6 171.6 128.3Z" fill="#2f5"/>
<path d="M170 122.8 171.1 122.9 171.6 128.3 170.5 128.6Z" fill="#3f4"/>
<path d="M168.9 124.9 170 122.8 170.5 128.6 169.5 129.9Z" fill="#3f5"/>
<path d="M167.9 127.8 168.9 124.9 169.5 129.9 168.4 131.6Z" fill="#2f5"/>
<path d="M165.7 132.5 167.9 127.8 168.4 131.6 166.3 134.5Z" fill="#1e5"/>
<path d="M164.7 134.2 165.7 132.5 166.3 134.5 165.2 135.7Z" fill="#1d5"/>
<path d="M163.6 135.7 164.7 134.2 165.2 135.7 164.1 136.7Z" fill="#0d5"/>
<path d="M158.3 139.9 161.5 137.8 163.6 135.7 164.1 136.7 163.1 137.6 158.8 140.2Z" fill="#0c5"/>
<path d="M157.2 140.5 158.3 139.9 158.8 140.2 157.7 140.8Z" fill="#0b5"/>
<path d="M155.1 141.7 157.2 140.5 157.7 140.8 155.6 141.9Z" fill="#0b4"/>
<path d="M121.2 159.4 155.1 141.7 155.6 141.9 121.7 159.7Z" fill="#0a4"/>
<path d="M113.6 163.3 121.2 159.4 121.7 159.7 114.1 163.6Z" fill="#094"/>
<path d="M178 128.8 183.3 126.6 196.7 119.9 224.4 104.5 227.4 102.9 228 103.2 224.9 104.8 191.1 123.6 178.5 129.9Z" fill="#0c5"/>
<path d="M175.9 129.1 178 128.8 178.5 129.9 176.4 130.6Z" fill="#0d5"/>
<path d="M172.7 128.6 174.8 129.1 175.9 129.1 176.4 130.6 173.2 131.3Z" fill="#1d5"/>
<path d="M168.4 131.6 170.5 128.6 171.6 128.3 172.7 128.6 173.2 131.3 172.1 131.5 171 131.9 168.9 133.9Z" fill="#1e5"/>
<path d="M167.3 133.2 168.4 131.6 168.9 133.9 167.8 134.9Z" fill="#1d5"/>
<path d="M166.3 134.5 167.3 133.2 167.8 134.9 166.8 135.8Z" fill="#0d5"/>
<path d="M160.9 139 164.1 136.7 166.3 134.5 166.8 135.8 165.7 136.6 161.4 139.3Z" fill="#0c5"/>
<path d="M159.9 139.6 160.9 139 161.4 139.3 160.4 139.9Z" fill="#0b5"/>
<path d="M158.8 140.2 159.9 139.6 160.4 139.9 159.3 140.5Z" fill="#0b4"/>
<path d="M136.8 151.8 158.8 140.2 159.3 140.5 137.3 152Z" fill="#0a4"/>
<path d="M114.1 163.6 136.8 151.8 137.3 152 114.7 163.8Z" fill="#094"/>
<path d="M197.2 120.3 224.9 104.8 228 103.2 228.5 103.3 225.4 105 197.7 120.5Z" fill="#0b4"/>
<path d="M191.1 123.6 197.2 120.3 197.7 120.5 191.6 123.9Z" fill="#0b5"/>
<path d="M174.2 131.1 178.5 129.9 191.1 123.6 191.6 123.9 182.2 128.9 174.8 132.3Z" fill="#0c5"/>
<path d="M168.9 133.9 171 131.9 172.1 131.5 174.2 131.1 174.8 132.3 171.6 133.6 169.4 135.1Z" fill="#0d5"/>
<path d="M163.6 138.1 166.8 135.8 168.9 133.9 169.4 135.1 164.1 138.4Z" fill="#0c5"/>
<path d="M162.5 138.7 163.6 138.1 164.1 138.4 163 139Z" fill="#0b5"/>
<path d="M161.4 139.3 162.5 138.7 163 139 162 139.6Z" fill="#0b4"/>
<path d="M144.9 148.1 161.4 139.3 162 139.6 145.4 148.3Z" fill="#0a4"/>
<path d="M114.7 163.8 144.9 148.1 145.4 148.3 115.2 164.1Z" fill="#094"/>
<path d="M191.6 123.9 225.4 105 228.5 103.3 229 103.5 225.9 105.1 192.1 124.2Z" fill="#0a4"/>
<path d="M184.4 127.8 191.6 123.9 192.1 124.2 184.9 128Z" fill="#0b4"/>
<path d="M179 130.5 184.4 127.8 184.9 128 179.5 130.8Z" fill="#0b5"/>
<path d="M166.2 137.2 171.6 133.6 179 130.5 179.5 130.8 174.2 133.4 166.8 137.5Z" fill="#0c5"/>
<path d="M165.2 137.8 166.2 137.2 166.8 137.5 165.7 138.1Z" fill="#0b5"/>
<path d="M164.1 138.4 165.2 137.8 165.7 138.1 164.6 138.7Z" fill="#0b4"/>
<path d="M155.6 143 164.1 138.4 164.6 138.7 156.1 143.2Z" fill="#0a4"/>
<path d="M115.2 164.1 155.6 143 156.1 143.2 115.7 164.4Z" fill="#094"/>
<path d="M176.3 132.4 192.1 124.2 225.9 105.1 229 103.5 230.1 103.7 227 105.4 196.3 122.8 177.4 132.9Z" fill="#0a4"/>
<path d="M174.2 133.4 176.3 132.4 177.4 132.9 175.3 134.1Z" fill="#0b4"/>
<path d="M170 135.7 174.2 133.4 175.3 134.1 171 136.3Z" fill="#0b5"/>
<path d="M168.9 136.3 170 135.7 171 136.3 170 136.9Z" fill="#0b4"/>
<path d="M162.5 139.8 168.9 136.3 170 136.9 163.6 140.3Z" fill="#0a4"/>
<path d="M115.7 164.4 162.5 139.8 163.6 140.3 116.8 164.9Z" fill="#094"/>
<path d="M199.3 121 227 105.4 230.1 103.7 231.2 103.9 228.1 105.6 200.4 121.3Z" fill="#0a4"/>
<path d="M175.3 134.1 196.3 122.8 199.3 121 200.4 121.3 197.3 123.1 176.4 134.4Z" fill="#094"/>
<path d="M171 136.3 175.3 134.1 176.4 134.4 172.1 136.7Z" fill="#0a4"/>
<path d="M116.8 164.9 171 136.3 172.1 136.7 117.9 165.4Z" fill="#094"/>
<path d="M203.5 119.6 228.1 105.6 231.2 103.9 232.3 104.1 229.2 105.8 204.6 119.9Z" fill="#0a4"/>
<path d="M117.9 165.4 194.3 124.8 203.5 119.6 204.6 119.9 195.3 125.1 118.9 166Z" fill="#094"/>
<path d="M207.7 118.1 229.2 105.8 232.3 104.1 233.4 104.3 230.3 106 208.7 118.3Z" fill="#0a4"/>
<path d="M118.9 166 195.3 125.1 207.7 118.1 208.7 118.3 196.4 125.4 120 166.5Z" fill="#094"/>
<path d="M214.9 114.7 233.4 104.3 234.4 104.5 216 115Z" fill="#0a4"/>
<path d="M120 166.5 196.4 125.4 214.9 114.7 216 115 194.4 127.5 121.1 167.1Z" fill="#094"/>
<path d="M219.1 113.2 234.4 104.5 235.5 104.7 220.1 113.4Z" fill="#0a4"/>
<path d="M121.1 167.1 194.4 127.5 219.1 113.2 220.1 113.4 195.5 127.8 122.2 167.6Z" fill="#094"/>
<path d="M232.5 106.4 235.5 104.7 236.6 104.9 233.5 106.6Z" fill="#094"/>
<path d="M226.3 109.9 232.5 106.4 233.5 106.6 227.4 110.1Z" fill="#0a4"/>
<path d="M122.2 167.6 195.5 127.8 226.3 109.9 227.4 110.1 193.5 129.8 123.2 168.2Z" fill="#094"/>
<path d="M178.6 138.1 202.8 124.5 233.5 106.6 236.6 104.9 237.7 105 234.6 106.7 203.8 124.7 179.7 138.4Z" fill="#083"/>
<path d="M175.4 139.8 178.6 138.1 179.7 138.4 176.5 140.1Z" fill="#084"/>
<path d="M123.2 168.2 175.4 139.8 176.5 140.1 124.3 168.7Z" fill="#094"/>
<path d="M124.3 168.7 194.6 130 234.6 106.7 237.7 105 238.8 105.1 235.7 106.9 214.2 119.5 190.4 133.4 125.4 169.2Z" fill="#083"/>
<path d="M133 165.1 192.5 132.2 217.2 117.7 238.8 105.1 239.9 103.6 236.8 105.3 212.2 120.2 188.2 134.3 134 164.9Z" fill="#021"/>
<path d="M125.4 169.2 133 165.1 134 164.9 126.5 169.1Z" fill="#031"/>
<path d="M230.6 108.9 239.9 103.6 241 103.3 231.7 108.8Z" fill="#052"/>
<path d="M202.9 125.8 230.6 108.9 231.7 108.8 204 125.8Z" fill="#062"/>
<path d="M162.6 148.9 199.9 127.6 202.9 125.8 204 125.8 195.7 130.8 163.7 149.1Z" fill="#073"/>
<path d="M156.7 152.2 162.6 148.9 163.7 149.1 157.8 152.4Z" fill="#063"/>
<path d="M137.8 162.8 156.7 152.2 157.8 152.4 138.9 163Z" fill="#062"/>
<path d="M126.5 169.1 137.8 162.8 138.9 163 127.5 169.3Z" fill="#052"/>
<path d="M127.5 169.3 185.1 137 210.2 122.1 237.9 105.1 241 103.3 242.1 99.3 208.2 121.2 182.9 136.7 128.6 168Z" fill="#021"/>
<path d="M232.8 105.2 242.1 99.3 243.1 97.3 233.9 103.5Z" fill="#131"/>
<path d="M229.7 107.2 232.8 105.2 233.9 103.5 230.8 105.5Z" fill="#031"/>
<path d="M208.2 121.2 229.7 107.2 230.8 105.5 209.3 119.9Z" fill="#021"/>
<path d="M128.6 168 182.9 136.7 208.2 121.2 209.3 119.9 206.2 121.9 180.8 137.8 129.7 167.5Z" fill="#031"/>
<path d="M212.4 117.9 243.1 97.3 244.2 96 213.4 116.7Z" fill="#131"/>
<path d="M160 150.1 186.2 134.5 209.3 119.9 212.4 117.9 213.4 116.7 187.2 133.7 161 149.6Z" fill="#031"/>
<path d="M144.8 158.8 160 150.1 161 149.6 145.9 158.6Z" fill="#041"/>
<path d="M141 161 144.8 158.8 145.9 158.6 142.1 160.8Z" fill="#042"/>
<path d="M129.7 167.5 141 161 142.1 160.8 130.8 167.6Z" fill="#052"/>
<path d="M241.2 98 244.2 96 245.3 100.4 242.2 102.3Z" fill="#4f4"/>
<path d="M219.6 112.6 241.2 98 242.2 102.3 220.7 116.1Z" fill="#3f4"/>
<path d="M216.5 114.7 219.6 112.6 220.7 116.1 217.6 118Z" fill="#3f5"/>
<path d="M201.1 124.8 216.5 114.7 217.6 118 202.2 127.8Z" fill="#2f5"/>
<path d="M181.9 137 201.1 124.8 202.2 127.8 183 139.8Z" fill="#2e5"/>
<path d="M130.8 167.6 181.9 137 183 139.8 131.9 170Z" fill="#1e5"/>
<path d="M229.9 110.2 245.3 100.4 246.4 106.1 231 115.3Z" fill="#1e5"/>
<path d="M185.1 138.5 229.9 110.2 231 115.3 221.8 120.8 186.2 142.3Z" fill="#1d5"/>
<path d="M175.5 144.3 185.1 138.5 186.2 142.3 176.6 148Z" fill="#1c5"/>
<path d="M131.9 170 175.5 144.3 176.6 148 132.9 173.1Z" fill="#0c5"/>
<path d="M240.2 109.8 246.4 106.1 247.5 106.6 241.3 110.2Z" fill="#093"/>
<path d="M218.7 122.7 240.2 109.8 241.3 110.2 219.8 123Z" fill="#083"/>
<path d="M193.7 137.8 218.7 122.7 219.8 123 216.7 124.8 194.8 138.2Z" fill="#073"/>
<path d="M155.6 160.1 188.3 141 193.7 137.8 194.8 138.2 189.4 141.6 156.7 160.9Z" fill="#083"/>
<path d="M132.9 173.1 155.6 160.1 156.7 160.9 134 174.3Z" fill="#094"/>
<path d="M134 174.3 188.3 142.2 213.6 126.6 247.5 106.6 248.6 108.6 211.6 129.9 187.3 145 135.1 175.2Z" fill="#052"/>
<path d="M189.4 143.6 211.6 129.9 248.6 108.6 249.7 106.4 221.9 122.6 203.3 133.7 190.5 142.6Z" fill="#010"/>
<path d="M157.8 162.1 187.3 145 189.4 143.6 190.5 142.6 185.2 146.2 158.9 161.7Z" fill="#011"/>
<path d="M135.1 175.2 157.8 162.1 158.9 161.7 136.2 174.9Z" fill="#021"/>
<path d="M162.6 159.5 185.2 146.2 203.3 133.7 221.9 122.6 249.7 106.4 250.8 103.3 223 119.8 206.6 129.8 201.2 133.5 192.7 140.4 185.2 146.1 163.7 159Z" fill="#021"/>
<path d="M136.2 174.9 162.6 159.5 163.7 159 137.2 174.8Z" fill="#031"/>
<path d="M207.6 129.1 232.3 114.3 250.8 103.3 251.8 104.4 208.7 130.3Z" fill="#2e5"/>
<path d="M195.9 137.8 203.3 131.9 207.6 129.1 208.7 130.3 204.4 133.1 197 138.8Z" fill="#1e5"/>
<path d="M189.5 143 195.9 137.8 197 138.8 190.5 143.9Z" fill="#1d5"/>
<path d="M187.3 144.6 189.5 143 190.5 143.9 188.4 145.5Z" fill="#0d5"/>
<path d="M163.7 159 185.2 146.1 187.3 144.6 188.4 145.5 186.3 147 164.8 159.8Z" fill="#0c5"/>
<path d="M152.4 165.8 163.7 159 164.8 159.8 153.5 166.5Z" fill="#0b5"/>
<path d="M137.2 174.8 152.4 165.8 153.5 166.5 138.3 175.5Z" fill="#0b4"/>
<path d="M205.5 132.4 221 122.8 251.8 104.4 252.9 108 246.8 111.5 240.6 115.2 228.3 122.3 206.6 135.4Z" fill="#1e5"/>
<path d="M197 138.8 204.4 133.1 205.5 132.4 206.6 135.4 198 141.3Z" fill="#1d5"/>
<path d="M192.7 142.2 197 138.8 198 141.3 193.8 144.3Z" fill="#0d5"/>
<path d="M138.3 175.5 186.3 147 192.7 142.2 193.8 144.3 188.4 147.9 139.4 176.7Z" fill="#0c5"/>
<path d="M195.9 142.8 208.7 134.1 228.3 122.3 240.6 115.2 246.8 111.5 252.9 108 254 106 247.9 109.7 241.7 113.4 238.6 115.1 229.4 120.6 208.7 133.3 197 141.5Z" fill="#031"/>
<path d="M147 172.2 188.4 147.9 195.9 142.8 197 141.5 190.6 145.8 148 171.7Z" fill="#021"/>
<path d="M139.4 176.7 147 172.2 148 171.7 140.5 176.3Z" fill="#031"/>
<path d="M241.7 113.4 247.9 109.7 254 106 255.1 108.7 242.8 115.6Z" fill="#1d5"/>
<path d="M210.9 132 229.4 120.6 238.6 115.1 241.7 113.4 242.8 115.6 239.7 117.2 224.3 126 215 131.5 212 132.9Z" fill="#1e5"/>
<path d="M209.8 132.7 210.9 132 212 132.9 210.9 133.3Z" fill="#1d5"/>
<path d="M208.7 133.3 209.8 132.7 210.9 133.3 209.8 133.8Z" fill="#1c4"/>
<path d="M206.6 134.7 208.7 133.3 209.8 133.8 207.7 135Z" fill="#1b4"/>
<path d="M204.5 136.2 206.6 134.7 207.7 135 205.5 136.5Z" fill="#1a4"/>
<path d="M203.4 136.9 204.5 136.2 205.5 136.5 204.5 137.4Z" fill="#1b4"/>
<path d="M202.3 137.7 203.4 136.9 204.5 137.4 203.4 138.4Z" fill="#1c5"/>
<path d="M198 140.8 202.3 137.7 203.4 138.4 199.1 142.3Z" fill="#1d5"/>
<path d="M193.8 143.7 198 140.8 199.1 142.3 194.9 145.7Z" fill="#0d5"/>
<path d="M140.5 176.3 190.6 145.8 193.8 143.7 194.9 145.7 191.6 147.8 141.5 177.7Z" fill="#0c5"/>
<path d="M215 131.5 224.3 126 239.7 117.2 252 110.4 255.1 108.7 256.2 108 247 113.3 243.9 114.7 240.8 116.5 237.7 117.9 219.2 127.9 216.1 129.3Z" fill="#031"/>
<path d="M201.3 140.3 206.6 135.7 209.8 133.8 215 131.5 216.1 129.3 213 129.7 210.9 129.6 208.8 130.2 205.6 133 202.3 137.5Z" fill="#041"/>
<path d="M197 144 201.3 140.3 202.3 137.5 198.1 143.3Z" fill="#031"/>
<path d="M195.9 144.9 197 144 198.1 143.3 197 144.5Z" fill="#041"/>
<path d="M193.8 146.4 195.9 144.9 197 144.5 194.9 146.4Z" fill="#052"/>
<path d="M192.7 147.1 193.8 146.4 194.9 146.4 193.8 147.2Z" fill="#062"/>
<path d="M191.6 147.8 192.7 147.1 193.8 147.2 192.7 148.1Z" fill="#073"/>
<path d="M190.6 148.5 191.6 147.8 192.7 148.1 191.7 148.8Z" fill="#083"/>
<path d="M189.5 149.2 190.6 148.5 191.7 148.8 190.6 149.5Z" fill="#094"/>
<path d="M182 153.7 189.5 149.2 190.6 149.5 183.1 154Z" fill="#083"/>
<path d="M181 154.3 182 153.7 183.1 154 182 154.7Z" fill="#084"/>
<path d="M178.8 155.6 181 154.3 182 154.7 179.9 155.9Z" fill="#094"/>
<path d="M176.7 156.8 178.8 155.6 179.9 155.9 177.8 157.2Z" fill="#083"/>
<path d="M175.6 157.5 176.7 156.8 177.8 157.2 176.7 157.9Z" fill="#084"/>
<path d="M141.5 177.7 175.6 157.5 176.7 157.9 142.6 178.2Z" fill="#094"/>
<path d="M219.2 127.9 237.7 117.9 240.8 116.5 243.9 114.7 247 113.3 256.2 108 257.3 106.1 254.2 108.1 241.9 114.1 235.7 116.8 232.6 118.5 229.5 119.8 226.5 121.8 223.4 123.2 220.3 125.2Z" fill="#031"/>
<path d="M216.1 129.3 219.2 127.9 220.3 125.2 217.2 125.9Z" fill="#131"/>
<path d="M201.3 139 205.6 133 208.8 130.2 210.9 129.6 213 129.7 216.1 129.3 217.2 125.9 214.1 125.2 212 123.7 210.9 123.3 209.8 123.4 208.8 123.9 207.7 125 206.6 126.5 202.4 135Z" fill="#141"/>
<path d="M199.1 142 201.3 139 202.4 135 200.2 139.3Z" fill="#041"/>
<path d="M177.8 157.2 192.7 148.1 197 144.5 199.1 142 200.2 139.3 199.2 141.2 197 144.2 194.9 146.5 191.7 148.8 178.8 156.8Z" fill="#031"/>
<path d="M176.7 157.9 177.8 157.2 178.8 156.8 177.8 157.4Z" fill="#041"/>
<path d="M161.6 166.9 176.7 157.9 177.8 157.4 162.6 166.7Z" fill="#031"/>
<path d="M157.8 169.2 161.6 166.9 162.6 166.7 158.8 169Z" fill="#041"/>
<path d="M142.6 178.2 157.8 169.2 158.8 169 143.7 178.3Z" fill="#042"/>
<path d="M248 111 254.2 108.1 257.3 106.1 258.4 107.7 255.3 109.6 252.2 111 249.1 112.7Z" fill="#1a4"/>
<path d="M235.7 116.8 241.9 114.1 248 111 249.1 112.7 236.8 118.3Z" fill="#1a3"/>
<path d="M232.6 118.5 235.7 116.8 236.8 118.3 233.7 119.9Z" fill="#2a3"/>
<path d="M217.2 125.9 220.3 125.2 223.4 123.2 226.5 121.8 229.5 119.8 232.6 118.5 233.7 119.9 230.6 121 224.5 124.6 221.4 126.2 218.3 127.1Z" fill="#2b3"/>
<path d="M214.1 125.2 217.2 125.9 218.3 127.1 215.2 125.9Z" fill="#2a3"/>
<path d="M210.9 123.3 212 123.7 214.1 125.2 215.2 125.9 214.1 125.1 212 124Z" fill="#392"/>
<path d="M208.8 123.9 209.8 123.4 210.9 123.3 212 124 210.9 124 209.9 124.3Z" fill="#492"/>
<path d="M207.7 125 208.8 123.9 209.9 124.3 208.8 125.4Z" fill="#4a2"/>
<path d="M206.6 126.5 207.7 125 208.8 125.4 207.7 126.9Z" fill="#4b3"/>
<path d="M204.5 130.6 206.6 126.5 207.7 126.9 205.6 131.2Z" fill="#4c3"/>
<path d="M202.4 135 204.5 130.6 205.6 131.2 203.4 136Z" fill="#3c3"/>
<path d="M201.3 137.2 202.4 135 203.4 136 202.4 138.2Z" fill="#2c4"/>
<path d="M200.2 139.3 201.3 137.2 202.4 138.2 201.3 140.4Z" fill="#2b4"/>
<path d="M197 144.2 199.2 141.2 200.2 139.3 201.3 140.4 200.2 142.4 198.1 145.5Z" fill="#1b4"/>
<path d="M190.6 149.6 194.9 146.5 197 144.2 198.1 145.5 196 147.8 191.7 150.8Z" fill="#0b4"/>
<path d="M187.4 151.6 190.6 149.6 191.7 150.8 188.5 152.9Z" fill="#0b5"/>
<path d="M143.7 178.3 187.4 151.6 188.5 152.9 144.8 179.3Z" fill="#0c5"/>
<path d="M255.3 109.6 258.4 107.7 259.5 108 256.4 110.2Z" fill="#1c4"/>
<path d="M236.8 118.3 249.1 112.7 252.2 111 255.3 109.6 256.4 110.2 253.3 111.9 247.1 114.8 237.9 119.6Z" fill="#1d5"/>
<path d="M230.6 121 233.7 119.9 236.8 118.3 237.9 119.6 234.8 121.3 231.7 122.6Z" fill="#2d4"/>
<path d="M218.3 127.1 221.4 126.2 224.5 124.6 230.6 121 231.7 122.6 228.6 124.6 225.5 126.1 222.5 128 219.4 129.4Z" fill="#2e4"/>
<path d="M214.1 125.1 215.2 125.9 218.3 127.1 219.4 129.4 216.3 129.6 215.2 129.4Z" fill="#3e4"/>
<path d="M213.1 124.4 214.1 125.1 215.2 129.4 214.2 129Z" fill="#4e4"/>
<path d="M212 124 213.1 124.4 214.2 129 213.1 129Z" fill="#4f4"/>
<path d="M208.8 125.4 209.9 124.3 210.9 124 212 124 213.1 129 212 129.4 209.9 131.1Z" fill="#5f4"/>
<path d="M206.7 128.9 208.8 125.4 209.9 131.1 208.8 132.3 207.7 133.9Z" fill="#4f4"/>
<path d="M205.6 131.2 206.7 128.9 207.7 133.9 206.7 135.6Z" fill="#4e4"/>
<path d="M204.5 133.6 205.6 131.2 206.7 135.6 205.6 137.4Z" fill="#3e4"/>
<path d="M202.4 138.2 204.5 133.6 205.6 137.4 203.5 140.9Z" fill="#2e4"/>
<path d="M201.3 140.4 202.4 138.2 203.5 140.9 202.4 142.5Z" fill="#1e5"/>
<path d="M199.2 144.1 201.3 140.4 202.4 142.5 200.3 145.4Z" fill="#1d5"/>
<path d="M197 146.8 199.2 144.1 200.3 145.4 198.1 147.5Z" fill="#0c5"/>
<path d="M194.9 148.6 197 146.8 198.1 147.5 196 149.2Z" fill="#0b4"/>
<path d="M189.5 152.2 194.9 148.6 196 149.2 190.6 152.6Z" fill="#0a4"/>
<path d="M187.4 153.5 189.5 152.2 190.6 152.6 188.5 154Z" fill="#094"/>
<path d="M144.8 179.3 187.4 153.5 188.5 154 145.9 179.9Z" fill="#0a4"/>
<path d="M250.2 113.4 256.4 110.2 259.5 108 260.6 109.3 257.5 111.4 251.3 114.6Z" fill="#1d5"/>
<path d="M219.4 129.4 222.5 128 225.5 126.1 228.6 124.6 231.7 122.6 234.8 121.3 247.1 114.8 250.2 113.4 251.3 114.6 245.1 118 235.9 122.7 229.7 126.1 226.6 128.3 220.5 131.8Z" fill="#1e5"/>
<path d="M216.3 129.6 219.4 129.4 220.5 131.8 217.4 132.9Z" fill="#2e5"/>
<path d="M214.2 129 216.3 129.6 217.4 132.9 215.2 133.7Z" fill="#2f5"/>
<path d="M213.1 129 214.2 129 215.2 133.7 214.2 134.2Z" fill="#3f5"/>
<path d="M210.9 130.1 212 129.4 213.1 129 214.2 134.2 213.1 134.9 212 135.9Z" fill="#3f4"/>
<path d="M209.9 131.1 210.9 130.1 212 135.9 211 136.8Z" fill="#3f5"/>
<path d="M207.7 133.9 208.8 132.3 209.9 131.1 211 136.8 208.8 139Z" fill="#2f5"/>
<path d="M205.6 137.4 207.7 133.9 208.8 139 206.7 141.2Z" fill="#2e5"/>
<path d="M203.5 140.9 205.6 137.4 206.7 141.2 204.5 143.4Z" fill="#1e5"/>
<path d="M201.3 144 203.5 140.9 204.5 143.4 202.4 145.6Z" fill="#1d5"/>
<path d="M200.3 145.4 201.3 144 202.4 145.6 201.3 146.6Z" fill="#0d5"/>
<path d="M196 149.2 199.2 146.5 200.3 145.4 201.3 146.6 197.1 149.9Z" fill="#0c5"/>
<path d="M192.8 151.4 196 149.2 197.1 149.9 193.8 152.2Z" fill="#0b5"/>
<path d="M191.7 152 192.8 151.4 193.8 152.2 192.8 152.9Z" fill="#0c5"/>
<path d="M190.6 152.6 191.7 152 192.8 152.9 191.7 153.5Z" fill="#0b5"/>
<path d="M176.1 161.5 190.6 152.6 191.7 153.5 177.2 162.4Z" fill="#0c5"/>
<path d="M145.9 179.9 176.1 161.5 177.2 162.4 146.9 180.8Z" fill="#0b5"/>
<path d="M257.5 111.4 260.6 109.3 261.6 109.3 258.6 110.9Z" fill="#062"/>
<path d="M251.3 114.6 257.5 111.4 258.6 110.9 252.4 114.5Z" fill="#052"/>
<path d="M248.2 116.3 251.3 114.6 252.4 114.5 249.3 116.1Z" fill="#062"/>
<path d="M242 119.7 248.2 116.3 249.3 116.1 243.1 118.9Z" fill="#052"/>
<path d="M220.5 131.8 226.6 128.3 229.7 126.1 235.9 122.7 242 119.7 243.1 118.9 240 120.1 237 122.2 227.7 127.6 221.5 131.6Z" fill="#062"/>
<path d="M217.4 132.9 220.5 131.8 221.5 131.6 218.5 133.3Z" fill="#183"/>
<path d="M216.3 133.3 217.4 132.9 218.5 133.3 217.4 134Z" fill="#1c4"/>
<path d="M215.2 133.7 216.3 133.3 217.4 134 216.3 134.5Z" fill="#1d4"/>
<path d="M213.1 134.9 215.2 133.7 216.3 134.5 214.2 136Z" fill="#2e5"/>
<path d="M208.8 139 213.1 134.9 214.2 136 209.9 139.7Z" fill="#1e5"/>
<path d="M207.7 140.1 208.8 139 209.9 139.7 208.8 140.6Z" fill="#1d5"/>
<path d="M206.7 141.2 207.7 140.1 208.8 140.6 207.8 141.5Z" fill="#1c4"/>
<path d="M205.6 142.4 206.7 141.2 207.8 141.5 206.7 142.5Z" fill="#193"/>
<path d="M204.5 143.4 205.6 142.4 206.7 142.5 205.6 143.4Z" fill="#073"/>
<path d="M203.5 144.5 204.5 143.4 205.6 143.4 204.6 144.4Z" fill="#062"/>
<path d="M197.1 149.9 201.3 146.6 203.5 144.5 204.6 144.4 198.1 149.8Z" fill="#052"/>
<path d="M193.8 152.2 197.1 149.9 198.1 149.8 194.9 152.1Z" fill="#062"/>
<path d="M192.8 152.9 193.8 152.2 194.9 152.1 193.9 152.9Z" fill="#052"/>
<path d="M191.7 153.5 192.8 152.9 193.9 152.9 192.8 153.7Z" fill="#063"/>
<path d="M189.6 154.8 191.7 153.5 192.8 153.7 190.7 155.2Z" fill="#083"/>
<path d="M146.9 180.8 189.6 154.8 190.7 155.2 148 181.3Z" fill="#094"/>
<path d="M249.3 116.1 252.4 114.5 261.6 109.3 262.4 107.3 259.3 109.5 256.2 111 250.1 114.4Z" fill="#062"/>
<path d="M209.9 139.7 215.2 135.2 221.5 131.6 227.7 127.6 237 122.2 240 120.1 249.3 116.1 250.1 114.4 247 115.3 243.9 116.9 240.8 118.9 237.7 120.6 234.7 121.9 231.6 123.9 228.5 125.6 225.4 127.7 219.2 132.1 213.9 135.7 210.7 138.5Z" fill="#162"/>
<path d="M203.5 145.4 209.9 139.7 210.7 138.5 208.5 140.1 206.4 142 204.3 144.2Z" fill="#062"/>
<path d="M148 181.3 190.7 155.2 198.1 149.8 203.5 145.4 204.3 144.2 198.9 148.9 190.4 155.4 148.8 181.2Z" fill="#052"/>
<path d="M247 115.3 250.1 114.4 256.2 111 259.3 109.5 262.4 107.3 263.2 108.6 253.9 114.1 250.9 115.1 247.8 117Z" fill="#1e5"/>
<path d="M237.7 120.6 240.8 118.9 243.9 116.9 247 115.3 247.8 117 238.5 121.5Z" fill="#2e5"/>
<path d="M222.3 129.8 228.5 125.6 231.6 123.9 234.7 121.9 237.7 120.6 238.5 121.5 235.4 123.1 232.3 125.3 229.3 126.9 226.2 129.3 223.1 131Z" fill="#2f5"/>
<path d="M211.7 137.6 213.9 135.7 219.2 132.1 222.3 129.8 223.1 131 220 133.4 217.9 134.7 213.6 138.1 212.5 138.5Z" fill="#2e5"/>
<path d="M204.3 144.2 206.4 142 208.5 140.1 211.7 137.6 212.5 138.5 211.4 139.4 209.3 141.5 205 145.2Z" fill="#1e5"/>
<path d="M200 147.9 204.3 144.2 205 145.2 200.8 149.1Z" fill="#1d5"/>
<path d="M196.8 150.7 200 147.9 200.8 149.1 197.5 151.5Z" fill="#0d5"/>
<path d="M148.8 181.2 190.4 155.4 196.8 150.7 197.5 151.5 191.1 156.3 149.5 182Z" fill="#0c5"/>
<path d="M238.5 121.5 247.8 117 250.9 115.1 253.9 114.1 263.2 108.6 264 109.6 260.9 111.2 257.8 113.1 251.6 116.7 245.5 119.6 242.4 121.5 239.3 123Z" fill="#1e5"/>
<path d="M226.2 129.3 229.3 126.9 232.3 125.3 235.4 123.1 238.5 121.5 239.3 123 236.2 125.2 233.1 126.7 230 128.9 227 130.4Z" fill="#2e5"/>
<path d="M208.2 142.5 212.5 138.5 213.6 138.1 217.9 134.7 220 133.4 223.1 131 226.2 129.3 227 130.4 223.9 132.9 219.7 135.7 218.6 136.1 215.4 138.4 213.3 140.3 209 143.5Z" fill="#1e5"/>
<path d="M202.9 147.1 208.2 142.5 209 143.5 207.9 144.5 203.7 147.8Z" fill="#1d5"/>
<path d="M200.8 149.1 202.9 147.1 203.7 147.8 201.5 149.8Z" fill="#0d5"/>
<path d="M194.3 154 200.8 149.1 201.5 149.8 195.1 154.6Z" fill="#0c5"/>
<path d="M192.2 155.5 194.3 154 195.1 154.6 193 156Z" fill="#0b5"/>
<path d="M190.1 157 192.2 155.5 193 156 190.8 157.4Z" fill="#0b4"/>
<path d="M186.8 159 190.1 157 190.8 157.4 187.6 159.4Z" fill="#0a4"/>
<path d="M184.7 160.3 186.8 159 187.6 159.4 185.5 160.7Z" fill="#094"/>
<path d="M149.5 182 184.7 160.3 185.5 160.7 150.3 182.5Z" fill="#0a4"/>
<path d="M248.5 118 251.6 116.7 257.8 113.1 260.9 111.2 264 109.6 264.7 110.1 261.7 111.7 258.6 113.7 252.4 117.5 249.3 119Z" fill="#1d5"/>
<path d="M214.4 139.2 218.6 136.1 219.7 135.7 223.9 132.9 227 130.4 230 128.9 233.1 126.7 236.2 125.2 239.3 123 242.4 121.5 245.5 119.6 248.5 118 249.3 119 246.2 120.7 243.2 122.8 240.1 124.3 237 126.6 233.9 128.1 230.8 130.4 227.7 131.8 224.6 134.4 220.5 137.2 219.4 137.5 215.1 140.7Z" fill="#1e5"/>
<path d="M207.9 144.5 210.1 142.6 212.2 141.2 214.4 139.2 215.1 140.7 213 142.5 210.9 143.9 208.7 145.6Z" fill="#1d5"/>
<path d="M203.7 147.8 207.9 144.5 208.7 145.6 206.6 147 204.4 148.7Z" fill="#0d5"/>
<path d="M198.3 152.2 202.6 149 203.7 147.8 204.4 148.7 203.4 149.7 199.1 152.7Z" fill="#0c5"/>
<path d="M197.2 153 198.3 152.2 199.1 152.7 198 153.5Z" fill="#0b5"/>
<path d="M196.2 153.8 197.2 153 198 153.5 196.9 154.2Z" fill="#0b4"/>
<path d="M194 155.3 196.2 153.8 196.9 154.2 194.8 155.6Z" fill="#0a4"/>
<path d="M190.8 157.4 194 155.3 194.8 155.6 191.6 157.7Z" fill="#094"/>
<path d="M186.5 160 190.8 157.4 191.6 157.7 187.3 160.3Z" fill="#083"/>
<path d="M180.6 163.7 186.5 160 187.3 160.3 181.4 164Z" fill="#084"/>
<path d="M150.3 182.5 180.6 163.7 181.4 164 151.1 182.8Z" fill="#094"/>
<path d="M258.6 113.7 261.7 111.7 264.7 110.1 265.5 110.7 262.4 112.6 259.4 114.1Z" fill="#1d5"/>
<path d="M255.5 115.7 258.6 113.7 259.4 114.1 256.3 115.9Z" fill="#1b4"/>
<path d="M252.4 117.5 255.5 115.7 256.3 115.9 253.2 117.6Z" fill="#083"/>
<path d="M214.1 141.7 216.2 139.9 219.4 137.5 220.5 137.2 224.6 134.4 227.7 131.8 230.8 130.4 233.9 128.1 237 126.6 240.1 124.3 243.2 122.8 246.2 120.7 252.4 117.5 253.2 117.6 250.1 120.1 247 121.6 243.9 123.6 240.8 125.2 237.8 127.5 234.7 129.3 231.6 131.6 228.5 132.9 220.2 138.8 214.8 142.6Z" fill="#1d5"/>
<path d="M208.7 145.6 210.9 143.9 213 142.5 214.1 141.7 214.8 142.6 211.6 144.9 209.5 146.7Z" fill="#0d5"/>
<path d="M198 153.5 203.4 149.7 205.5 147.8 208.7 145.6 209.5 146.7 208.4 147.5 207.4 147.9 206.3 148.7 204.1 150.5 198.8 154.1Z" fill="#0c5"/>
<path d="M193.7 156.3 198 153.5 198.8 154.1 194.5 156.8Z" fill="#0b5"/>
<path d="M192.7 157 193.7 156.3 194.5 156.8 193.4 157.5Z" fill="#0b4"/>
<path d="M190.5 158.3 192.7 157 193.4 157.5 191.3 158.8Z" fill="#0a4"/>
<path d="M181.4 164 190.5 158.3 191.3 158.8 182.2 164.5Z" fill="#0b4"/>
<path d="M151.1 182.8 181.4 164 182.2 164.5 151.8 183.3Z" fill="#0a4"/>
<path d="M262.4 112.6 265.5 110.7 266.3 110.7 263.2 112.3Z" fill="#052"/>
<path d="M259.4 114.1 262.4 112.6 263.2 112.3 260.1 115Z" fill="#0b4"/>
<path d="M253.2 117.6 259.4 114.1 260.1 115 254 118.3Z" fill="#1d5"/>
<path d="M250.1 120.1 253.2 117.6 254 118.3 250.9 120Z" fill="#1c4"/>
<path d="M247 121.6 250.1 120.1 250.9 120 247.8 122.3Z" fill="#1b4"/>
<path d="M237.8 127.5 240.8 125.2 243.9 123.6 247 121.6 247.8 122.3 244.7 124.3 241.6 125.6 238.5 128.2Z" fill="#1d5"/>
<path d="M234.7 129.3 237.8 127.5 238.5 128.2 235.4 129.5Z" fill="#1c4"/>
<path d="M231.6 131.6 234.7 129.3 235.4 129.5 232.4 131.7Z" fill="#083"/>
<path d="M225.4 135.3 228.5 132.9 231.6 131.6 232.4 131.7 229.3 134.2 226.2 135.7Z" fill="#1d5"/>
<path d="M222.3 137.4 225.4 135.3 226.2 135.7 223.1 137.9Z" fill="#1c5"/>
<path d="M214.8 142.6 220.2 138.8 222.3 137.4 223.1 137.9 222 138.7 221 139.8 216.7 142.7 215.6 143Z" fill="#0d5"/>
<path d="M205.2 149.5 207.4 147.9 208.4 147.5 212.7 144.1 214.8 142.6 215.6 143 214.5 143.8 210.3 147.3 206 150.1Z" fill="#0c5"/>
<path d="M204.1 150.5 205.2 149.5 206 150.1 204.9 150.7Z" fill="#0a4"/>
<path d="M203.1 151.3 204.1 150.5 204.9 150.7 203.8 151.4Z" fill="#073"/>
<path d="M202 151.9 203.1 151.3 203.8 151.4 202.8 152.4Z" fill="#0a4"/>
<path d="M200.9 152.6 202 151.9 202.8 152.4 201.7 153.1Z" fill="#0b5"/>
<path d="M199.9 153.3 200.9 152.6 201.7 153.1 200.6 153.8Z" fill="#0b4"/>
<path d="M198.8 154.1 199.9 153.3 200.6 153.8 199.6 154.3Z" fill="#0a4"/>
<path d="M197.7 154.8 198.8 154.1 199.6 154.3 198.5 155Z" fill="#094"/>
<path d="M192.4 158.2 197.7 154.8 198.5 155 193.1 158.4Z" fill="#083"/>
<path d="M189.2 160.1 192.4 158.2 193.1 158.4 189.9 160.5Z" fill="#094"/>
<path d="M188.1 160.8 189.2 160.1 189.9 160.5 188.9 161.1Z" fill="#0a4"/>
<path d="M151.8 183.3 188.1 160.8 188.9 161.1 152.6 183.8Z" fill="#094"/>
<path d="M263.2 112.3 266.3 110.7 267.1 110.9 264 113.3Z" fill="#1d5"/>
<path d="M260.1 115 263.2 112.3 264 113.3 260.9 114.7Z" fill="#0c4"/>
<path d="M257 116.8 260.1 115 260.9 114.7 257.8 116.8Z" fill="#052"/>
<path d="M254 118.3 257 116.8 257.8 116.8 254.7 119Z" fill="#0c4"/>
<path d="M250.9 120 254 118.3 254.7 119 251.7 121Z" fill="#0d5"/>
<path d="M247.8 122.3 250.9 120 251.7 121 248.6 122.4Z" fill="#1d5"/>
<path d="M244.7 124.3 247.8 122.3 248.6 122.4 245.5 124.9Z" fill="#0c4"/>
<path d="M241.6 125.6 244.7 124.3 245.5 124.9 242.4 126.1Z" fill="#1c5"/>
<path d="M238.5 128.2 241.6 125.6 242.4 126.1 239.3 127.8Z" fill="#083"/>
<path d="M235.4 129.5 238.5 128.2 239.3 127.8 236.2 129.9Z" fill="#073"/>
<path d="M232.4 131.7 235.4 129.5 236.2 129.9 233.1 132.4Z" fill="#1d5"/>
<path d="M229.3 134.2 232.4 131.7 233.1 132.4 230 134.2Z" fill="#0c4"/>
<path d="M226.2 135.7 229.3 134.2 230 134.2 227 136.5Z" fill="#0b4"/>
<path d="M222 138.7 226.2 135.7 227 136.5 222.8 139.2Z" fill="#0d5"/>
<path d="M221 139.8 222 138.7 222.8 139.2 221.7 139.7Z" fill="#0a4"/>
<path d="M218.8 141.3 221 139.8 221.7 139.7 219.6 141.3Z" fill="#062"/>
<path d="M217.8 142 218.8 141.3 219.6 141.3 218.5 142.1Z" fill="#073"/>
<path d="M216.7 142.7 217.8 142 218.5 142.1 217.5 142.9Z" fill="#083"/>
<path d="M215.6 143 216.7 142.7 217.5 142.9 216.4 143.5Z" fill="#0a4"/>
<path d="M212.4 145.6 214.5 143.8 215.6 143 216.4 143.5 213.2 146Z" fill="#0c5"/>
<path d="M211.3 146.4 212.4 145.6 213.2 146 212.1 146.8Z" fill="#0b4"/>
<path d="M210.3 147.3 211.3 146.4 212.1 146.8 211 147.3Z" fill="#083"/>
<path d="M209.2 148.1 210.3 147.3 211 147.3 210 148.1Z" fill="#062"/>
<path d="M208.1 148.6 209.2 148.1 210 148.1 208.9 149.1Z" fill="#094"/>
<path d="M206 150.1 208.1 148.6 208.9 149.1 206.8 150.6Z" fill="#0b5"/>
<path d="M204.9 150.7 206 150.1 206.8 150.6 205.7 151.1Z" fill="#0b4"/>
<path d="M202.8 152.4 204.9 150.7 205.7 151.1 203.5 152.8Z" fill="#0b5"/>
<path d="M199.6 154.3 202.8 152.4 203.5 152.8 200.3 154.8Z" fill="#0a4"/>
<path d="M198.5 155 199.6 154.3 200.3 154.8 199.3 155.5Z" fill="#0b4"/>
<path d="M197.4 155.7 198.5 155 199.3 155.5 198.2 156.1Z" fill="#0a4"/>
<path d="M196.4 156.3 197.4 155.7 198.2 156.1 197.1 156.8Z" fill="#0b4"/>
<path d="M194.2 157.7 196.4 156.3 197.1 156.8 195 158Z" fill="#0a4"/>
<path d="M191 159.7 194.2 157.7 195 158 191.8 160.1Z" fill="#094"/>
<path d="M187.8 161.8 191 159.7 191.8 160.1 188.6 162.2Z" fill="#0a4"/>
<path d="M186.7 162.4 187.8 161.8 188.6 162.2 187.5 162.8Z" fill="#094"/>
<path d="M182.9 164.8 186.7 162.4 187.5 162.8 183.7 165.2Z" fill="#0a4"/>
<path d="M152.6 183.8 182.9 164.8 183.7 165.2 153.4 184.2Z" fill="#094"/>
<path d="M242.4 126.1 245.5 124.9 248.6 122.4 251.7 121 260.9 114.7 264 113.3 267.1 110.9 267.9 110.2 264.8 113 261.7 114.1 258.6 116.4 252.4 120.2 249.3 122.6 243.2 125.6Z" fill="#052"/>
<path d="M239.3 127.8 242.4 126.1 243.2 125.6 240.1 127.7Z" fill="#062"/>
<path d="M233.1 132.4 236.2 129.9 239.3 127.8 240.1 127.7 233.9 132.4Z" fill="#083"/>
<path d="M218.5 142.1 221.7 139.7 223.9 138.5 227 136.5 230 134.2 233.1 132.4 233.9 132.4 227.7 136.1 224.7 137.7 220.4 140.8 219.3 142.2Z" fill="#052"/>
<path d="M217.5 142.9 218.5 142.1 219.3 142.2 218.2 143Z" fill="#073"/>
<path d="M216.4 143.5 217.5 142.9 218.2 143 217.2 143.7Z" fill="#083"/>
<path d="M215.3 144.3 216.4 143.5 217.2 143.7 216.1 144.5Z" fill="#0a4"/>
<path d="M214.2 145 215.3 144.3 216.1 144.5 215 145.3Z" fill="#094"/>
<path d="M211 147.3 213.2 146 214.2 145 215 145.3 213.9 145.7 211.8 147.3Z" fill="#052"/>
<path d="M210 148.1 211 147.3 211.8 147.3 210.7 148.1Z" fill="#062"/>
<path d="M153.4 184.2 200.3 154.8 203.5 152.8 205.7 151.1 208.9 149.1 210 148.1 210.7 148.1 203.2 153.2 154.2 184.1Z" fill="#052"/>
<path d="M255.5 118.4 258.6 116.4 261.7 114.1 264.8 113 267.9 110.2 268.6 110.9 265.5 113.6 262.5 115 259.4 116.8 256.3 119Z" fill="#1d5"/>
<path d="M249.3 122.6 252.4 120.2 255.5 118.4 256.3 119 253.2 120.5 250.1 123Z" fill="#1c5"/>
<path d="M237 130.1 240.1 127.7 243.2 125.6 249.3 122.6 250.1 123 247 125.4 240.9 129 237.8 130.4Z" fill="#1d5"/>
<path d="M233.9 132.4 237 130.1 237.8 130.4 234.7 132.5Z" fill="#0a4"/>
<path d="M230.8 134.1 233.9 132.4 234.7 132.5 231.6 134.7Z" fill="#0b4"/>
<path d="M224.7 137.7 227.7 136.1 230.8 134.1 231.6 134.7 225.4 139.1Z" fill="#1d5"/>
<path d="M219.3 142.2 220.4 140.8 224.7 137.7 225.4 139.1 220.1 142.5Z" fill="#0d5"/>
<path d="M218.2 143 219.3 142.2 220.1 142.5 219 143.3Z" fill="#0a4"/>
<path d="M206.5 151.1 213.9 145.7 215 145.3 218.2 143 219 143.3 217.9 144.4 215.8 145.9 214.7 146.4 208.3 151.1 207.2 151.6Z" fill="#0c5"/>
<path d="M205.4 151.8 206.5 151.1 207.2 151.6 206.2 152.3Z" fill="#0b5"/>
<path d="M154.2 184.1 203.2 153.2 205.4 151.8 206.2 152.3 201.9 155.3 154.9 185Z" fill="#0c5"/>
<path d="M265.5 113.6 268.6 110.9 269.4 111 266.3 113.3Z" fill="#073"/>
<path d="M259.4 116.8 262.5 115 265.5 113.6 266.3 113.3 260.2 116.6Z" fill="#062"/>
<path d="M253.2 120.5 256.3 119 259.4 116.8 260.2 116.6 254 120.6Z" fill="#052"/>
<path d="M250.1 123 253.2 120.5 254 120.6 250.9 122.6Z" fill="#062"/>
<path d="M237.8 130.4 240.9 129 247 125.4 250.1 123 250.9 122.6 247.8 125 244.7 126.6 238.5 130.3Z" fill="#052"/>
<path d="M234.7 132.5 237.8 130.4 238.5 130.3 235.5 132.6Z" fill="#073"/>
<path d="M231.6 134.7 234.7 132.5 235.5 132.6 232.4 135Z" fill="#0a4"/>
<path d="M228.5 136.9 231.6 134.7 232.4 135 229.3 136.9Z" fill="#093"/>
<path d="M221.1 141.9 228.5 136.9 229.3 136.9 226.2 138.6 221.9 141.8Z" fill="#052"/>
<path d="M220.1 142.5 221.1 141.9 221.9 141.8 220.8 142.9Z" fill="#083"/>
<path d="M219 143.3 220.1 142.5 220.8 142.9 219.8 143.7Z" fill="#0b4"/>
<path d="M217.9 144.4 219 143.3 219.8 143.7 218.7 144.1Z" fill="#073"/>
<path d="M214.7 146.4 215.8 145.9 217.9 144.4 218.7 144.1 215.5 146.6Z" fill="#052"/>
<path d="M213.7 147.2 214.7 146.4 215.5 146.6 214.4 147.4Z" fill="#093"/>
<path d="M211.5 148.7 213.7 147.2 214.4 147.4 212.3 149Z" fill="#094"/>
<path d="M210.4 149.6 211.5 148.7 212.3 149 211.2 149.6Z" fill="#073"/>
<path d="M208.3 151.1 210.4 149.6 211.2 149.6 209.1 151.1Z" fill="#052"/>
<path d="M207.2 151.6 208.3 151.1 209.1 151.1 208 151.8Z" fill="#063"/>
<path d="M206.2 152.3 207.2 151.6 208 151.8 206.9 152.6Z" fill="#094"/>
<path d="M204 153.8 206.2 152.3 206.9 152.6 204.8 154.1Z" fill="#0a4"/>
<path d="M203 154.5 204 153.8 204.8 154.1 203.7 154.8Z" fill="#094"/>
<path d="M201.9 155.3 203 154.5 203.7 154.8 202.7 155.5Z" fill="#083"/>
<path d="M200.8 156 201.9 155.3 202.7 155.5 201.6 156.2Z" fill="#073"/>
<path d="M197.6 158 200.8 156 201.6 156.2 198.4 158.3Z" fill="#083"/>
<path d="M195.5 159.4 197.6 158 198.4 158.3 196.2 159.7Z" fill="#094"/>
<path d="M194.4 160.1 195.5 159.4 196.2 159.7 195.2 160.3Z" fill="#083"/>
<path d="M154.9 185 194.4 160.1 195.2 160.3 155.7 185.3Z" fill="#073"/>
<path d="M266.3 113.3 269.4 111 270.2 111.1 267.1 113.5Z" fill="#0b4"/>
<path d="M260.2 116.6 266.3 113.3 267.1 113.5 260.9 116.8Z" fill="#0a4"/>
<path d="M250.9 122.6 257.1 118.5 260.2 116.6 260.9 116.8 257.8 118.6 251.7 122.8Z" fill="#1a4"/>
<path d="M247.8 125 250.9 122.6 251.7 122.8 248.6 125.3Z" fill="#0b4"/>
<path d="M238.5 130.3 244.7 126.6 247.8 125 248.6 125.3 245.5 126.8 242.4 128.8 239.3 130.5Z" fill="#0a4"/>
<path d="M235.5 132.6 238.5 130.3 239.3 130.5 236.2 132.8Z" fill="#1a4"/>
<path d="M232.4 135 235.5 132.6 236.2 132.8 233.1 135.2Z" fill="#0b4"/>
<path d="M221.9 141.8 226.2 138.6 232.4 135 233.1 135.2 227 138.9 222.7 142Z" fill="#0a4"/>
<path d="M220.8 142.9 221.9 141.8 222.7 142 221.6 143.2Z" fill="#0b4"/>
<path d="M219.8 143.7 220.8 142.9 221.6 143.2 220.6 144Z" fill="#0a4"/>
<path d="M218.7 144.1 219.8 143.7 220.6 144 219.5 144.4Z" fill="#094"/>
<path d="M212.3 149 218.7 144.1 219.5 144.4 213.1 149.3Z" fill="#0a4"/>
<path d="M211.2 149.6 212.3 149 213.1 149.3 212 149.8Z" fill="#094"/>
<path d="M204.8 154.1 211.2 149.6 212 149.8 205.6 154.4Z" fill="#0a4"/>
<path d="M201.6 156.2 204.8 154.1 205.6 154.4 202.4 156.5Z" fill="#094"/>
<path d="M200.5 156.9 201.6 156.2 202.4 156.5 201.3 157.2Z" fill="#0a4"/>
<path d="M198.4 158.3 200.5 156.9 201.3 157.2 199.1 158.6Z" fill="#094"/>
<path d="M197.3 159 198.4 158.3 199.1 158.6 198.1 159.3Z" fill="#0a4"/>
<path d="M155.7 185.3 197.3 159 198.1 159.3 156.5 185.7Z" fill="#094"/>
<path d="M264 115.2 267.1 113.5 270.2 111.1 271 110.8 264.8 114.9Z" fill="#052"/>
<path d="M257.8 118.6 264 115.2 264.8 114.9 261.7 116.4 258.6 118.5Z" fill="#062"/>
<path d="M254.8 120.8 257.8 118.6 258.6 118.5 255.5 121.3Z" fill="#1b4"/>
<path d="M251.7 122.8 254.8 120.8 255.5 121.3 252.4 122.5Z" fill="#093"/>
<path d="M248.6 125.3 251.7 122.8 252.4 122.5 249.4 125.6Z" fill="#083"/>
<path d="M245.5 126.8 248.6 125.3 249.4 125.6 246.3 126.8Z" fill="#093"/>
<path d="M242.4 128.8 245.5 126.8 246.3 126.8 243.2 129.5Z" fill="#1c4"/>
<path d="M239.3 130.5 242.4 128.8 243.2 129.5 240.1 130.5Z" fill="#1a4"/>
<path d="M236.2 132.8 239.3 130.5 240.1 130.5 237 132.5Z" fill="#062"/>
<path d="M227 138.9 233.1 135.2 236.2 132.8 237 132.5 233.9 134.9 230.8 136.4 227.7 139.1Z" fill="#052"/>
<path d="M225.9 139.6 227 138.9 227.7 139.1 226.7 139.8Z" fill="#0a4"/>
<path d="M224.8 140.5 225.9 139.6 226.7 139.8 225.6 140.6Z" fill="#093"/>
<path d="M222.7 142 224.8 140.5 225.6 140.6 223.5 142.1Z" fill="#073"/>
<path d="M221.6 143.2 222.7 142 223.5 142.1 222.4 143Z" fill="#062"/>
<path d="M217.3 146 219.5 144.4 220.6 144 221.6 143.2 222.4 143 220.3 144.3 218.1 145.9Z" fill="#052"/>
<path d="M216.3 146.9 217.3 146 218.1 145.9 217 146.8Z" fill="#062"/>
<path d="M212 149.8 214.1 148.5 216.3 146.9 217 146.8 212.8 149.9Z" fill="#052"/>
<path d="M208.8 152.1 212 149.8 212.8 149.9 209.6 152.2Z" fill="#073"/>
<path d="M207.7 152.9 208.8 152.1 209.6 152.2 208.5 153Z" fill="#063"/>
<path d="M156.5 185.7 206.6 153.7 207.7 152.9 208.5 153 206.3 154.2 157.2 185.8Z" fill="#052"/>
<path d="M267.9 112.9 271 110.8 271.7 112.9 268.7 114.9Z" fill="#0d5"/>
<path d="M249.4 125.6 252.4 122.5 255.5 121.3 258.6 118.5 261.7 116.4 264.8 114.9 267.9 112.9 268.7 114.9 265.6 116.1 259.4 120.6 256.3 122.4 253.2 123.8 250.1 126.7Z" fill="#1d5"/>
<path d="M246.3 126.8 249.4 125.6 250.1 126.7 247 128.3Z" fill="#0d5"/>
<path d="M230.8 136.4 233.9 134.9 237 132.5 240.1 130.5 243.2 129.5 246.3 126.8 247 128.3 244 129.6 240.9 132.7 237.8 133.9 231.6 138.5Z" fill="#1d5"/>
<path d="M220.3 144.3 222.4 143 227.7 139.1 230.8 136.4 231.6 138.5 227.5 141.4 226.4 141.6 221 145.6Z" fill="#0d5"/>
<path d="M157.2 185.8 206.3 154.2 211.7 150.7 220.3 144.3 221 145.6 214.6 150.7 213.5 150.9 205 157.1 158 187.1Z" fill="#0c5"/>
<path d="M265.6 116.1 268.7 114.9 271.7 112.9 272.5 111.9 269.4 114.4 266.3 116.1Z" fill="#052"/>
<path d="M262.5 118.3 265.6 116.1 266.3 116.1 263.3 118.5Z" fill="#094"/>
<path d="M256.3 122.4 259.4 120.6 262.5 118.3 263.3 118.5 260.2 120 257.1 122.7Z" fill="#052"/>
<path d="M253.2 123.8 256.3 122.4 257.1 122.7 254 124Z" fill="#0a4"/>
<path d="M250.1 126.7 253.2 123.8 254 124 250.9 126.8Z" fill="#094"/>
<path d="M247 128.3 250.1 126.7 250.9 126.8 247.8 128.2Z" fill="#062"/>
<path d="M244 129.6 247 128.3 247.8 128.2 244.7 131Z" fill="#0d5"/>
<path d="M240.9 132.7 244 129.6 244.7 131 241.6 131.8Z" fill="#0a4"/>
<path d="M237.8 133.9 240.9 132.7 241.6 131.8 238.6 134.2Z" fill="#052"/>
<path d="M234.7 136.1 237.8 133.9 238.6 134.2 235.5 135.8Z" fill="#062"/>
<path d="M231.6 138.5 234.7 136.1 235.5 135.8 232.4 138.9Z" fill="#073"/>
<path d="M228.5 140.6 231.6 138.5 232.4 138.9 229.3 140.3Z" fill="#062"/>
<path d="M227.5 141.4 228.5 140.6 229.3 140.3 228.2 141Z" fill="#052"/>
<path d="M226.4 141.6 227.5 141.4 228.2 141 227.2 142Z" fill="#062"/>
<path d="M224.2 143.1 226.4 141.6 227.2 142 225 143.5Z" fill="#0b4"/>
<path d="M216.7 148.9 224.2 143.1 225 143.5 223.9 144.9 221.8 146.2 217.5 149.5Z" fill="#0c5"/>
<path d="M215.7 149.9 216.7 148.9 217.5 149.5 216.4 150Z" fill="#0a4"/>
<path d="M214.6 150.7 215.7 149.9 216.4 150 215.4 150.8Z" fill="#063"/>
<path d="M213.5 150.9 214.6 150.7 215.4 150.8 214.3 151.4Z" fill="#094"/>
<path d="M211.4 152.4 213.5 150.9 214.3 151.4 212.2 152.9Z" fill="#0b5"/>
<path d="M209.3 154 211.4 152.4 212.2 152.9 210 154.6Z" fill="#0c5"/>
<path d="M208.2 154.8 209.3 154 210 154.6 209 155.1Z" fill="#0a4"/>
<path d="M206 156.3 208.2 154.8 209 155.1 206.8 156.6Z" fill="#094"/>
<path d="M205 157.1 206 156.3 206.8 156.6 205.7 157.3Z" fill="#083"/>
<path d="M203.9 157.8 205 157.1 205.7 157.3 204.7 158Z" fill="#073"/>
<path d="M202.8 158.5 203.9 157.8 204.7 158 203.6 158.9Z" fill="#094"/>
<path d="M200.7 159.8 202.8 158.5 203.6 158.9 201.5 160.2Z" fill="#0a4"/>
<path d="M199.6 160.6 200.7 159.8 201.5 160.2 200.4 160.7Z" fill="#084"/>
<path d="M198.5 161.2 199.6 160.6 200.4 160.7 199.3 161.4Z" fill="#073"/>
<path d="M197.5 161.8 198.5 161.2 199.3 161.4 198.2 162.2Z" fill="#084"/>
<path d="M158 187.1 197.5 161.8 198.2 162.2 158.8 187.6Z" fill="#0a4"/>
<path d="M229.3 140.3 232.4 138.9 235.5 135.8 238.6 134.2 241.6 131.8 244.7 131 247.8 128.2 250.9 126.8 254 124 257.1 122.7 260.2 120 263.3 118.5 266.3 116.1 269.4 114.4 272.5 111.9 273.6 111.7 270.5 113.1 267.5 115 264.4 118.3 261.3 119.4 258.2 122.3 255.1 122.9 252 125.7 248.9 127.2 245.8 129.5 242.8 132.2 239.7 132.9 236.6 135 233.5 138.2 230.4 140.4Z" fill="#052"/>
<path d="M228.2 141 229.3 140.3 230.4 140.4 229.3 141.2Z" fill="#073"/>
<path d="M158.8 187.6 200.4 160.7 203.6 158.9 207.9 155.8 211.1 153.9 214.3 151.4 218.6 148.7 221.8 146.2 223.9 144.9 225 143.5 228.2 141 229.3 141.2 228.3 141.1 226.1 142.7 225.1 144.1 224 144.8 222.9 145.2 220.8 146.8 219.7 148 217.6 149.4 214.3 151.8 210.1 154.6 206.8 156.9 200.4 161 159.9 187.1Z" fill="#052"/>
<path d="M267.5 115 270.5 113.1 273.6 111.7 274.7 112.7 271.7 114.7 268.6 115.5Z" fill="#1d5"/>
<path d="M264.4 118.3 267.5 115 268.6 115.5 265.5 118.4Z" fill="#1c4"/>
<path d="M261.3 119.4 264.4 118.3 265.5 118.4 262.4 119.8Z" fill="#094"/>
<path d="M258.2 122.3 261.3 119.4 262.4 119.8 259.3 122.1Z" fill="#093"/>
<path d="M255.1 122.9 258.2 122.3 259.3 122.1 256.2 123.9Z" fill="#1b4"/>
<path d="M252 125.7 255.1 122.9 256.2 123.9 253.1 125.9Z" fill="#1d5"/>
<path d="M248.9 127.2 252 125.7 253.1 125.9 250 127.6Z" fill="#193"/>
<path d="M245.8 129.5 248.9 127.2 250 127.6 247 130Z" fill="#1c4"/>
<path d="M242.8 132.2 245.8 129.5 247 130 243.9 131.8Z" fill="#073"/>
<path d="M239.7 132.9 242.8 132.2 243.9 131.8 240.8 134.2Z" fill="#1b4"/>
<path d="M233.5 138.2 236.6 135 239.7 132.9 240.8 134.2 237.7 136.8 234.6 138.7Z" fill="#1d5"/>
<path d="M230.4 140.4 233.5 138.2 234.6 138.7 231.5 140.1Z" fill="#073"/>
<path d="M229.3 141.2 230.4 140.4 231.5 140.1 230.4 140.9Z" fill="#052"/>
<path d="M228.3 141.1 229.3 141.2 230.4 140.9 229.4 142.1Z" fill="#0a4"/>
<path d="M226.1 142.7 228.3 141.1 229.4 142.1 227.2 143.6Z" fill="#1d5"/>
<path d="M225.1 144.1 226.1 142.7 227.2 143.6 226.2 144.2Z" fill="#0c5"/>
<path d="M224 144.8 225.1 144.1 226.2 144.2 225.1 145Z" fill="#073"/>
<path d="M222.9 145.2 224 144.8 225.1 145 224 145.7Z" fill="#093"/>
<path d="M220.8 146.8 222.9 145.2 224 145.7 221.9 147.3Z" fill="#0b4"/>
<path d="M219.7 148 220.8 146.8 221.9 147.3 220.8 148.5Z" fill="#0c5"/>
<path d="M217.6 149.4 219.7 148 220.8 148.5 218.7 150.1Z" fill="#0b4"/>
<path d="M216.5 150.2 217.6 149.4 218.7 150.1 217.6 150.8Z" fill="#0b5"/>
<path d="M215.4 151.1 216.5 150.2 217.6 150.8 216.5 151.3Z" fill="#0a4"/>
<path d="M212.2 153.3 215.4 151.1 216.5 151.3 213.3 153.7Z" fill="#083"/>
<path d="M211.1 154 212.2 153.3 213.3 153.7 212.2 154.4Z" fill="#094"/>
<path d="M210.1 154.6 211.1 154 212.2 154.4 211.2 155.2Z" fill="#0a4"/>
<path d="M207.9 156 210.1 154.6 211.2 155.2 209 156.6Z" fill="#0b4"/>
<path d="M206.8 156.9 207.9 156 209 156.6 208 157.3Z" fill="#0a4"/>
<path d="M205.8 157.6 206.8 156.9 208 157.3 206.9 158Z" fill="#093"/>
<path d="M199.4 161.6 205.8 157.6 206.9 158 200.5 162.3Z" fill="#0a4"/>
<path d="M198.3 162.3 199.4 161.6 200.5 162.3 199.4 163Z" fill="#0b4"/>
<path d="M159.9 187.1 198.3 162.3 199.4 163 161 187.9Z" fill="#0a4"/>
<path d="M271.7 114.7 274.7 112.7 275.9 113.3 272.8 114.8Z" fill="#0b4"/>
<path d="M262.4 119.8 265.5 118.4 268.6 115.5 271.7 114.7 272.8 114.8 269.7 117.6 263.5 121.5Z" fill="#0d5"/>
<path d="M259.3 122.1 262.4 119.8 263.5 121.5 260.4 122.3Z" fill="#1d5"/>
<path d="M253.1 125.9 259.3 122.1 260.4 122.3 257.3 124.8 254.2 126.3Z" fill="#1c5"/>
<path d="M240.8 134.2 243.9 131.8 247 130 250 127.6 253.1 125.9 254.2 126.3 248.1 130.9 245 133.8 241.9 134.4Z" fill="#1d5"/>
<path d="M237.7 136.8 240.8 134.2 241.9 134.4 238.8 137Z" fill="#093"/>
<path d="M234.6 138.7 237.7 136.8 238.8 137 235.7 138.7Z" fill="#073"/>
<path d="M231.5 140.1 234.6 138.7 235.7 138.7 232.6 141.5Z" fill="#0c5"/>
<path d="M225.1 145 229.4 142.1 230.4 140.9 231.5 140.1 232.6 141.5 230.5 143.3 226.2 146.4Z" fill="#0d5"/>
<path d="M161 187.9 210.1 155.9 216.5 151.3 217.6 150.8 220.8 148.5 221.9 147.3 225.1 145 226.2 146.4 225.1 147.4 223 149 221.9 149.3 220.8 150.1 219.8 151.3 217.6 152.9 212.3 156.5 206.9 160.1 162.1 189.3Z" fill="#0c5"/>
<path d="M272.8 114.8 275.9 113.3 277 112.2 273.9 114.2Z" fill="#052"/>
<path d="M269.7 117.6 272.8 114.8 273.9 114.2 270.8 117.6Z" fill="#062"/>
<path d="M260.4 122.3 263.5 121.5 269.7 117.6 270.8 117.6 267.7 118.7 264.6 120.9 261.5 122.5Z" fill="#052"/>
<path d="M257.3 124.8 260.4 122.3 261.5 122.5 258.4 125Z" fill="#094"/>
<path d="M254.2 126.3 257.3 124.8 258.4 125 255.4 126.9Z" fill="#0a4"/>
<path d="M251.2 128.6 254.2 126.3 255.4 126.9 252.3 128.4Z" fill="#093"/>
<path d="M248.1 130.9 251.2 128.6 252.3 128.4 249.2 131.8Z" fill="#0b4"/>
<path d="M245 133.8 248.1 130.9 249.2 131.8 246.1 133Z" fill="#073"/>
<path d="M241.9 134.4 245 133.8 246.1 133 243 135Z" fill="#052"/>
<path d="M238.8 137 241.9 134.4 243 135 239.9 137.5Z" fill="#0c5"/>
<path d="M235.7 138.7 238.8 137 239.9 137.5 236.8 139.3Z" fill="#0b4"/>
<path d="M232.6 141.5 235.7 138.7 236.8 139.3 233.7 141.2Z" fill="#083"/>
<path d="M231.5 142.3 232.6 141.5 233.7 141.2 232.7 142Z" fill="#052"/>
<path d="M230.5 143.3 231.5 142.3 232.7 142 231.6 143.6Z" fill="#073"/>
<path d="M228.3 144.8 230.5 143.3 231.6 143.6 229.4 145.1Z" fill="#094"/>
<path d="M223 149 225.1 147.4 227.3 145.6 228.3 144.8 229.4 145.1 228.4 145.2 224.1 148.6Z" fill="#052"/>
<path d="M221.9 149.3 223 149 224.1 148.6 223 149.9Z" fill="#063"/>
<path d="M219.8 151.3 220.8 150.1 221.9 149.3 223 149.9 220.9 151.5Z" fill="#0a4"/>
<path d="M218.7 152 219.8 151.3 220.9 151.5 219.8 152.3Z" fill="#083"/>
<path d="M217.6 152.9 218.7 152 219.8 152.3 218.7 152.8Z" fill="#062"/>
<path d="M215.5 154.4 217.6 152.9 218.7 152.8 216.6 154.4Z" fill="#052"/>
<path d="M214.4 155.1 215.5 154.4 216.6 154.4 215.5 155.4Z" fill="#063"/>
<path d="M213.3 155.9 214.4 155.1 215.5 155.4 214.5 156.2Z" fill="#083"/>
<path d="M210.1 157.9 213.3 155.9 214.5 156.2 213.4 156.7 211.2 158.2Z" fill="#073"/>
<path d="M209.1 158.6 210.1 157.9 211.2 158.2 210.2 159Z" fill="#083"/>
<path d="M206.9 160.1 209.1 158.6 210.2 159 208 160.5Z" fill="#094"/>
<path d="M204.8 161.5 206.9 160.1 208 160.5 205.9 161.9Z" fill="#083"/>
<path d="M202.6 162.8 204.8 161.5 205.9 161.9 203.7 163.5Z" fill="#0a4"/>
<path d="M201.6 163.6 202.6 162.8 203.7 163.5 202.7 164Z" fill="#094"/>
<path d="M200.5 164.3 201.6 163.6 202.7 164 201.6 164.7Z" fill="#084"/>
<path d="M199.4 164.9 200.5 164.3 201.6 164.7 200.5 165.5Z" fill="#094"/>
<path d="M162.1 189.3 199.4 164.9 200.5 165.5 163.2 190Z" fill="#0a4"/>
<path d="M232.7 142 239.9 137.5 243 135 246.1 133 249.2 131.8 252.3 128.4 255.4 126.9 258.4 125 261.5 122.5 264.6 120.9 267.7 118.7 270.8 117.6 273.9 114.2 277 112.2 278.1 111.6 275 112.7 271.9 115.5 268.8 117.4 265.7 118.5 262.6 121.6 259.5 123.6 256.5 124.5 253.4 127.5 250.3 128.8 247.2 130.7 241 135.8 237.9 137.1 234.8 140.1 233.8 140.9Z" fill="#062"/>
<path d="M228.4 145.2 229.4 145.1 231.6 143.6 232.7 142 233.8 140.9 230.6 143.5 229.5 143.4Z" fill="#052"/>
<path d="M227.3 146 228.4 145.2 229.5 143.4 228.4 144.3Z" fill="#062"/>
<path d="M163.2 190 201.6 164.7 204.8 162.8 213.4 156.7 214.5 156.2 218.7 152.8 219.8 152.3 223 149.9 224.1 148.6 227.3 146 228.4 144.3 227.3 145.7 223.1 149 222 150.3 212.3 158 211.3 158.3 209.1 160.1 164.3 189.8Z" fill="#052"/>
<path d="M234.8 140.1 237.9 137.1 241 135.8 247.2 130.7 250.3 128.8 253.4 127.5 256.5 124.5 259.5 123.6 262.6 121.6 265.7 118.5 268.8 117.4 271.9 115.5 275 112.7 278.1 111.6 279.2 109.8 276.1 111.2 269.9 115.7 266.8 118.6 263.7 120.3 260.7 122.9 257.6 123.2 254.5 126.1 251.4 127.7 245.2 132.5 242.1 134.3 239 137.2 235.9 139.2Z" fill="#162"/>
<path d="M222 150.3 223.1 149 227.3 145.7 228.4 144.3 229.5 143.4 230.6 143.5 234.8 140.1 235.9 139.2 231.7 142.5 230.6 142.9 229.5 143.8 228.4 144.3 226.3 146.2 225.2 147.5 223.1 149.3Z" fill="#062"/>
<path d="M211.3 158.3 212.3 158 222 150.3 223.1 149.3 220.9 151.3 212.4 158.5Z" fill="#052"/>
<path d="M203.8 163.8 209.1 160.1 211.3 158.3 212.4 158.5 210.2 160.3 204.9 164Z" fill="#073"/>
<path d="M194.6 169.8 203.8 163.8 204.9 164 195.7 170Z" fill="#063"/>
<path d="M190.8 172.3 194.6 169.8 195.7 170 191.9 172.5Z" fill="#073"/>
<path d="M164.3 189.8 190.8 172.3 191.9 172.5 165.4 190.1Z" fill="#063"/>
<path d="M273 113.6 276.1 111.2 279.2 109.8 280.3 111.3 277.2 113 274.1 115.6Z" fill="#2e5"/>
<path d="M257.6 123.2 260.7 122.9 263.7 120.3 266.8 118.6 269.9 115.7 273 113.6 274.1 115.6 271 118.1 268 119.8 264.9 121.1 261.8 124.2 258.7 125.2Z" fill="#1e5"/>
<path d="M254.5 126.1 257.6 123.2 258.7 125.2 255.6 127.4Z" fill="#2e5"/>
<path d="M226.3 146.2 228.4 144.3 229.5 143.8 230.6 142.9 231.7 142.5 235.9 139.2 239 137.2 242.1 134.3 245.2 132.5 251.4 127.7 254.5 126.1 255.6 127.4 252.5 130.7 249.4 131.5 246.3 134.5 243.2 136 240.1 138.1 232.8 143.7 231.7 145.4 227.4 148.9Z" fill="#1e5"/>
<path d="M220.9 151.3 223.1 149.3 225.2 147.5 226.3 146.2 227.4 148.9 226.3 149.2 225.3 150.1 224.2 151.6 222.1 153.4Z" fill="#1d5"/>
<path d="M216.7 155 220.9 151.3 222.1 153.4 219.9 155.1 218.8 155.5 217.8 156.4Z" fill="#0d5"/>
<path d="M165.4 190.1 209.2 161.1 216.7 155 217.8 156.4 216.7 157.7 215.6 158.5 213.5 160 210.3 162.6 208.1 163.9 206 165.5 166.5 191.8Z" fill="#0c5"/>
<path d="M277.2 113 280.3 111.3 281.4 112.8 278.3 113.6Z" fill="#1e5"/>
<path d="M274.1 115.6 277.2 113 278.3 113.6 275.2 115.9Z" fill="#1d4"/>
<path d="M271 118.1 274.1 115.6 275.2 115.9 272.2 117.6Z" fill="#173"/>
<path d="M268 119.8 271 118.1 272.2 117.6 269.1 120Z" fill="#172"/>
<path d="M252.5 130.7 255.6 127.4 258.7 125.2 261.8 124.2 264.9 121.1 268 119.8 269.1 120 266 122.6 262.9 124.5 256.7 129.5 253.6 131.3Z" fill="#1e5"/>
<path d="M249.4 131.5 252.5 130.7 253.6 131.3 250.5 132.5Z" fill="#1d5"/>
<path d="M246.3 134.5 249.4 131.5 250.5 132.5 247.4 134.3Z" fill="#1c4"/>
<path d="M243.2 136 246.3 134.5 247.4 134.3 244.3 136.4Z" fill="#172"/>
<path d="M240.1 138.1 243.2 136 244.3 136.4 241.3 139Z" fill="#1d5"/>
<path d="M233.8 142.8 240.1 138.1 241.3 139 237.1 142 236 143.5 234.9 144.3Z" fill="#1e5"/>
<path d="M231.7 145.4 232.8 143.7 233.8 142.8 234.9 144.3 233.9 145.1 232.8 145.6Z" fill="#1d5"/>
<path d="M230.6 146.3 231.7 145.4 232.8 145.6 231.7 146.4Z" fill="#083"/>
<path d="M229.6 147.1 230.6 146.3 231.7 146.4 230.7 147.8Z" fill="#1b4"/>
<path d="M228.5 148 229.6 147.1 230.7 147.8 229.6 148.6Z" fill="#1c5"/>
<path d="M226.3 149.2 227.4 148.9 228.5 148 229.6 148.6 227.4 150.2Z" fill="#0c5"/>
<path d="M225.3 150.1 226.3 149.2 227.4 150.2 226.4 151Z" fill="#1d5"/>
<path d="M224.2 151.6 225.3 150.1 226.4 151 225.3 151.2Z" fill="#083"/>
<path d="M218.8 155.5 219.9 155.1 224.2 151.6 225.3 151.2 219.9 155.6Z" fill="#052"/>
<path d="M217.8 156.4 218.8 155.5 219.9 155.6 218.9 156.4Z" fill="#062"/>
<path d="M166.5 191.8 206 165.5 208.1 163.9 210.3 162.6 213.5 160 215.6 158.5 216.7 157.7 217.8 156.4 218.9 156.4 216.7 157.8 214.6 159.8 212.4 161.1 209.2 163.3 167.6 191.3Z" fill="#052"/>
<path d="M278.3 113.6 281.4 112.8 282.5 112.4 279.4 114.2Z" fill="#183"/>
<path d="M272.2 117.6 275.2 115.9 278.3 113.6 279.4 114.2 276.4 117.5 273.3 117.7Z" fill="#1e5"/>
<path d="M269.1 120 272.2 117.6 273.3 117.7 270.2 120.1Z" fill="#193"/>
<path d="M266 122.6 269.1 120 270.2 120.1 267.1 122.9Z" fill="#1b4"/>
<path d="M262.9 124.5 266 122.6 267.1 122.9 264 124Z" fill="#062"/>
<path d="M259.8 127.1 262.9 124.5 264 124 260.9 127.7Z" fill="#183"/>
<path d="M253.6 131.3 256.7 129.5 259.8 127.1 260.9 127.7 257.8 129 254.7 131.8Z" fill="#073"/>
<path d="M247.4 134.3 250.5 132.5 253.6 131.3 254.7 131.8 251.6 132.7 248.5 134.7Z" fill="#1a4"/>
<path d="M244.3 136.4 247.4 134.3 248.5 134.7 245.5 137.3Z" fill="#1e5"/>
<path d="M241.3 139 244.3 136.4 245.5 137.3 242.4 139.2Z" fill="#1c4"/>
<path d="M238.2 141.2 241.3 139 242.4 139.2 239.3 142.7Z" fill="#1e5"/>
<path d="M233.9 145.1 236 143.5 237.1 142 238.2 141.2 239.3 142.7 235 146.1Z" fill="#1d5"/>
<path d="M232.8 145.6 233.9 145.1 235 146.1 233.9 146.2Z" fill="#1c4"/>
<path d="M231.7 146.4 232.8 145.6 233.9 146.2 232.8 147Z" fill="#1c5"/>
<path d="M230.7 147.8 231.7 146.4 232.8 147 231.8 148.3Z" fill="#1d5"/>
<path d="M228.5 149.5 230.7 147.8 231.8 148.3 229.6 150Z" fill="#0b4"/>
<path d="M226.4 151 228.5 149.5 229.6 150 227.5 151.7Z" fill="#0c5"/>
<path d="M225.3 151.2 226.4 151 227.5 151.7 226.4 152.1Z" fill="#0b4"/>
<path d="M224.2 152.1 225.3 151.2 226.4 152.1 225.3 153Z" fill="#0d5"/>
<path d="M221 154.6 224.2 152.1 225.3 153 224.3 153.5 222.1 155.2Z" fill="#0c5"/>
<path d="M219.9 155.6 221 154.6 222.1 155.2 221.1 156.5Z" fill="#0d5"/>
<path d="M218.9 156.4 219.9 155.6 221.1 156.5 220 157.3Z" fill="#0c5"/>
<path d="M215.7 158.6 218.9 156.4 220 157.3 218.9 157.6 216.8 159.2Z" fill="#0b4"/>
<path d="M214.6 159.8 215.7 158.6 216.8 159.2 215.7 160Z" fill="#0a4"/>
<path d="M212.4 161.1 214.6 159.8 215.7 160 213.6 161.5Z" fill="#083"/>
<path d="M210.3 162.6 212.4 161.1 213.6 161.5 211.4 163Z" fill="#094"/>
<path d="M208.2 164.1 210.3 162.6 211.4 163 210.3 164 209.3 164.8Z" fill="#0b4"/>
<path d="M167.6 191.3 208.2 164.1 209.3 164.8 208.2 165.3 168.7 192Z" fill="#0a4"/>
<path d="M279.4 114.2 282.5 112.4 283.6 111.8 280.6 114.1Z" fill="#062"/>
<path d="M276.4 117.5 279.4 114.2 280.6 114.1 277.5 117.4Z" fill="#183"/>
<path d="M273.3 117.7 276.4 117.5 277.5 117.4 274.4 117.9Z" fill="#173"/>
<path d="M260.9 127.7 264 124 267.1 122.9 270.2 120.1 273.3 117.7 274.4 117.9 271.3 121.2 262 128Z" fill="#1e5"/>
<path d="M257.8 129 260.9 127.7 262 128 258.9 129.4Z" fill="#1b4"/>
<path d="M254.7 131.8 257.8 129 258.9 129.4 255.8 130.8Z" fill="#062"/>
<path d="M251.6 132.7 254.7 131.8 255.8 130.8 252.7 133.7Z" fill="#072"/>
<path d="M242.4 139.2 245.5 137.3 248.5 134.7 251.6 132.7 252.7 133.7 249.7 136.7 243.5 140.6Z" fill="#1e5"/>
<path d="M239.3 142.7 242.4 139.2 243.5 140.6 240.4 142.4Z" fill="#1d5"/>
<path d="M236.1 145.3 239.3 142.7 240.4 142.4 239.3 143.3 238.2 143.8 237.2 144.7Z" fill="#062"/>
<path d="M235 146.1 236.1 145.3 237.2 144.7 236.1 145.5Z" fill="#052"/>
<path d="M233.9 146.2 235 146.1 236.1 145.5 235 147.3Z" fill="#093"/>
<path d="M232.8 147 233.9 146.2 235 147.3 233.9 148.1Z" fill="#1d5"/>
<path d="M231.8 148.3 232.8 147 233.9 148.1 232.9 149Z" fill="#0d5"/>
<path d="M229.6 150 231.8 148.3 232.9 149 230.7 150.7Z" fill="#0c5"/>
<path d="M228.6 150.9 229.6 150 230.7 150.7 229.7 151Z" fill="#0a4"/>
<path d="M227.5 151.7 228.6 150.9 229.7 151 228.6 151.9Z" fill="#073"/>
<path d="M226.4 152.1 227.5 151.7 228.6 151.9 227.5 152.6Z" fill="#083"/>
<path d="M225.3 153 226.4 152.1 227.5 152.6 226.4 153.5Z" fill="#0b4"/>
<path d="M224.3 153.5 225.3 153 226.4 153.5 225.4 154.1Z" fill="#0a4"/>
<path d="M222.1 155.2 224.3 153.5 225.4 154.1 223.2 155.8Z" fill="#0b4"/>
<path d="M221.1 156.5 222.1 155.2 223.2 155.8 222.2 156.7Z" fill="#0a4"/>
<path d="M220 157.3 221.1 156.5 222.2 156.7 221.1 157.5Z" fill="#073"/>
<path d="M218.9 157.6 220 157.3 221.1 157.5 220 158.6Z" fill="#0b4"/>
<path d="M211.4 163 218.9 157.6 220 158.6 212.5 163.8Z" fill="#0c5"/>
<path d="M210.3 164 211.4 163 212.5 163.8 211.4 164.5Z" fill="#0b5"/>
<path d="M209.3 164.8 210.3 164 211.4 164.5 210.4 165.3Z" fill="#0a4"/>
<path d="M208.2 165.3 209.3 164.8 210.4 165.3 209.3 166.2Z" fill="#0b4"/>
<path d="M206.1 166.9 208.2 165.3 209.3 166.2 207.2 167.7Z" fill="#0c5"/>
<path d="M203.9 168.3 206.1 166.9 207.2 167.7 205 169.1Z" fill="#0b5"/>
<path d="M168.7 192 203.9 168.3 205 169.1 169.8 193Z" fill="#0c5"/>
<path d="M280.6 114.1 283.6 111.8 284.8 113.3 281.7 115.1Z" fill="#1e5"/>
<path d="M274.4 117.9 277.5 117.4 280.6 114.1 281.7 115.1 278.6 116.1 275.5 118.8Z" fill="#062"/>
<path d="M271.3 121.2 274.4 117.9 275.5 118.8 272.4 121Z" fill="#1c4"/>
<path d="M268.2 123.5 271.3 121.2 272.4 121 269.3 123.8Z" fill="#183"/>
<path d="M262 128 268.2 123.5 269.3 123.8 266.2 124.2 263.1 127.4Z" fill="#062"/>
<path d="M258.9 129.4 262 128 263.1 127.4 260 130.1Z" fill="#083"/>
<path d="M255.8 130.8 258.9 129.4 260 130.1 256.9 131.5Z" fill="#1d5"/>
<path d="M252.7 133.7 255.8 130.8 256.9 131.5 253.9 134.2Z" fill="#1e5"/>
<path d="M249.7 136.7 252.7 133.7 253.9 134.2 250.8 136.5Z" fill="#193"/>
<path d="M246.6 138.7 249.7 136.7 250.8 136.5 247.7 138.2Z" fill="#062"/>
<path d="M243.5 140.6 246.6 138.7 247.7 138.2 244.6 141.3Z" fill="#073"/>
<path d="M240.4 142.4 243.5 140.6 244.6 141.3 241.5 142.6Z" fill="#1b4"/>
<path d="M239.3 143.3 240.4 142.4 241.5 142.6 240.4 143.5Z" fill="#193"/>
<path d="M238.2 143.8 239.3 143.3 240.4 143.5 239.3 144.5Z" fill="#1b4"/>
<path d="M236.1 145.5 238.2 143.8 239.3 144.5 237.2 146.2Z" fill="#1d5"/>
<path d="M235 147.3 236.1 145.5 237.2 146.2 236.1 146.8Z" fill="#083"/>
<path d="M231.8 149.8 235 147.3 236.1 146.8 232.9 149.7Z" fill="#052"/>
<path d="M230.7 150.7 231.8 149.8 232.9 149.7 231.8 150.6Z" fill="#062"/>
<path d="M229.7 151 230.7 150.7 231.8 150.6 230.8 151.8Z" fill="#0a4"/>
<path d="M228.6 151.9 229.7 151 230.8 151.8 229.7 152.7Z" fill="#0d5"/>
<path d="M226.4 153.5 228.6 151.9 229.7 152.7 228.6 153.1 227.6 154Z" fill="#0b4"/>
<path d="M225.4 154.1 226.4 153.5 227.6 154 226.5 155.4Z" fill="#0d5"/>
<path d="M222.2 156.7 225.4 154.1 226.5 155.4 224.3 157.1 223.3 157.2Z" fill="#0c5"/>
<path d="M220 158.6 222.2 156.7 223.3 157.2 221.1 159Z" fill="#0b4"/>
<path d="M217.9 160.2 220 158.6 221.1 159 219 160.6Z" fill="#0a4"/>
<path d="M216.8 160.9 217.9 160.2 219 160.6 217.9 161.7Z" fill="#0b5"/>
<path d="M212.5 163.8 216.8 160.9 217.9 161.7 213.6 164.6Z" fill="#0c5"/>
<path d="M211.4 164.5 212.5 163.8 213.6 164.6 212.6 165.2Z" fill="#0b5"/>
<path d="M210.4 165.3 211.4 164.5 212.6 165.2 211.5 166Z" fill="#0b4"/>
<path d="M207.2 167.7 210.4 165.3 211.5 166 210.4 167 208.3 168.4Z" fill="#0b5"/>
<path d="M196.4 175.1 207.2 167.7 208.3 168.4 197.5 175.8Z" fill="#0b4"/>
<path d="M169.8 193 196.4 175.1 197.5 175.8 170.9 193.9Z" fill="#0b5"/>
<path d="M281.7 115.1 284.8 113.3 285.9 113.4 282.8 114.2Z" fill="#062"/>
<path d="M278.6 116.1 281.7 115.1 282.8 114.2 279.7 116.8Z" fill="#172"/>
<path d="M275.5 118.8 278.6 116.1 279.7 116.8 276.6 119.3Z" fill="#1e5"/>
<path d="M269.3 123.8 272.4 121 275.5 118.8 276.6 119.3 273.5 120.1 270.4 123.7Z" fill="#062"/>
<path d="M266.2 124.2 269.3 123.8 270.4 123.7 267.3 125.8Z" fill="#1d5"/>
<path d="M263.1 127.4 266.2 124.2 267.3 125.8 264.2 126.9Z" fill="#1d4"/>
<path d="M260 130.1 263.1 127.4 264.2 126.9 261.1 129.7Z" fill="#062"/>
<path d="M256.9 131.5 260 130.1 261.1 129.7 258.1 132Z" fill="#072"/>
<path d="M253.9 134.2 256.9 131.5 258.1 132 255 133.4Z" fill="#062"/>
<path d="M250.8 136.5 253.9 134.2 255 133.4 251.9 137.2Z" fill="#073"/>
<path d="M247.7 138.2 250.8 136.5 251.9 137.2 248.8 139.3Z" fill="#1d5"/>
<path d="M244.6 141.3 247.7 138.2 248.8 139.3 245.7 140.6Z" fill="#183"/>
<path d="M241.5 142.6 244.6 141.3 245.7 140.6 242.6 144.2Z" fill="#1b4"/>
<path d="M239.3 144.5 241.5 142.6 242.6 144.2 241.5 145 240.5 144.9Z" fill="#1d5"/>
<path d="M237.2 146.2 239.3 144.5 240.5 144.9 238.3 146.6Z" fill="#1b4"/>
<path d="M235.1 147.7 237.2 146.2 238.3 146.6 237.2 148.4 236.2 149.3Z" fill="#1d5"/>
<path d="M234 148.9 235.1 147.7 236.2 149.3 235.1 149Z" fill="#1c5"/>
<path d="M231.8 150.6 234 148.9 235.1 149 232.9 150.8Z" fill="#083"/>
<path d="M229.7 152.7 230.8 151.8 231.8 150.6 232.9 150.8 231.9 152.4 230.8 153.2Z" fill="#0b4"/>
<path d="M228.6 153.1 229.7 152.7 230.8 153.2 229.7 153.8Z" fill="#0a4"/>
<path d="M227.6 154 228.6 153.1 229.7 153.8 228.7 154.7Z" fill="#0c5"/>
<path d="M226.5 155.4 227.6 154 228.7 154.7 227.6 155.3Z" fill="#093"/>
<path d="M224.3 157.1 226.5 155.4 227.6 155.3 225.4 157Z" fill="#052"/>
<path d="M223.3 157.2 224.3 157.1 225.4 157 224.4 158.4Z" fill="#0a4"/>
<path d="M221.1 159 223.3 157.2 224.4 158.4 223.3 159.2 222.2 159.6Z" fill="#0c5"/>
<path d="M220.1 159.8 221.1 159 222.2 159.6 221.2 160.4Z" fill="#0a4"/>
<path d="M219 160.6 220.1 159.8 221.2 160.4 220.1 161.2Z" fill="#0b4"/>
<path d="M217.9 161.7 219 160.6 220.1 161.2 219 162.3Z" fill="#0b5"/>
<path d="M213.6 164.6 217.9 161.7 219 162.3 214.7 165.3Z" fill="#0a4"/>
<path d="M212.6 165.2 213.6 164.6 214.7 165.3 213.7 166.2Z" fill="#0b5"/>
<path d="M210.4 167 212.6 165.2 213.7 166.2 211.5 167.7Z" fill="#0c5"/>
<path d="M209.3 167.7 210.4 167 211.5 167.7 210.4 168.4Z" fill="#0b4"/>
<path d="M208.3 168.4 209.3 167.7 210.4 168.4 209.4 169.3Z" fill="#0b5"/>
<path d="M170.9 193.9 208.3 168.4 209.4 169.3 172 195Z" fill="#0c5"/>
<path d="M282.8 114.2 285.9 113.4 287 112.3 283.9 114.4Z" fill="#062"/>
<path d="M279.7 116.8 282.8 114.2 283.9 114.4 280.8 116.6Z" fill="#183"/>
<path d="M276.6 119.3 279.7 116.8 280.8 116.6 277.7 119.7Z" fill="#1a3"/>
<path d="M273.5 120.1 276.6 119.3 277.7 119.7 274.6 121.8Z" fill="#1e5"/>
<path d="M270.4 123.7 273.5 120.1 274.6 121.8 271.5 122.1Z" fill="#183"/>
<path d="M267.3 125.8 270.4 123.7 271.5 122.1 268.4 125.7Z" fill="#062"/>
<path d="M264.2 126.9 267.3 125.8 268.4 125.7 265.3 127.8Z" fill="#1b4"/>
<path d="M261.1 129.7 264.2 126.9 265.3 127.8 262.3 130.1Z" fill="#1e5"/>
<path d="M248.8 139.3 251.9 137.2 255 133.4 258.1 132 261.1 129.7 262.3 130.1 259.2 131.2 256.1 133.7 253 135.7 249.9 138.4Z" fill="#062"/>
<path d="M242.6 144.2 245.7 140.6 248.8 139.3 249.9 138.4 246.8 141.9 243.7 143.4Z" fill="#193"/>
<path d="M238.3 146.6 240.5 144.9 241.5 145 242.6 144.2 243.7 143.4 242.6 144.3 241.6 144.7 239.4 146.5Z" fill="#062"/>
<path d="M237.2 148.4 238.3 146.6 239.4 146.5 238.3 148.4Z" fill="#073"/>
<path d="M235.1 149 236.2 149.3 237.2 148.4 238.3 148.4 237.3 149.3 236.2 149.4Z" fill="#062"/>
<path d="M231.9 152.4 232.9 150.8 235.1 149 236.2 149.4 234.1 151.2 233 152.8Z" fill="#0b4"/>
<path d="M230.8 153.2 231.9 152.4 233 152.8 231.9 153.6Z" fill="#0a4"/>
<path d="M228.7 154.7 229.7 153.8 230.8 153.2 231.9 153.6 230.8 153.9 229.8 154.8Z" fill="#073"/>
<path d="M227.6 155.3 228.7 154.7 229.8 154.8 228.7 156.2Z" fill="#0b4"/>
<path d="M225.4 157 227.6 155.3 228.7 156.2 226.6 157.9Z" fill="#0c5"/>
<path d="M224.4 158.4 225.4 157 226.6 157.9 225.5 158.3Z" fill="#094"/>
<path d="M223.3 159.2 224.4 158.4 225.5 158.3 224.4 159.1Z" fill="#052"/>
<path d="M222.2 159.6 223.3 159.2 224.4 159.1 223.3 160.5Z" fill="#0a4"/>
<path d="M220.1 161.2 222.2 159.6 223.3 160.5 221.2 162.2Z" fill="#0c5"/>
<path d="M219 162.3 220.1 161.2 221.2 162.2 220.1 162.5Z" fill="#0a4"/>
<path d="M216.9 163.7 219 162.3 220.1 162.5 218 164.1Z" fill="#073"/>
<path d="M215.8 164.5 216.9 163.7 218 164.1 216.9 164.9Z" fill="#083"/>
<path d="M214.7 165.3 215.8 164.5 216.9 164.9 215.8 165.7Z" fill="#084"/>
<path d="M213.7 166.2 214.7 165.3 215.8 165.7 214.8 166.5Z" fill="#083"/>
<path d="M212.6 167 213.7 166.2 214.8 166.5 213.7 167.3Z" fill="#073"/>
<path d="M211.5 167.7 212.6 167 213.7 167.3 212.6 168.2Z" fill="#084"/>
<path d="M209.4 169.3 211.5 167.7 212.6 168.2 210.5 169.8Z" fill="#0a4"/>
<path d="M207.2 170.8 209.4 169.3 210.5 169.8 208.3 171.3Z" fill="#094"/>
<path d="M172 195 207.2 170.8 208.3 171.3 173.1 195.7Z" fill="#0a4"/>
<path d="M249.9 138.4 253 135.7 256.1 133.7 259.2 131.2 262.3 130.1 268.4 125.7 271.5 122.1 274.6 121.8 277.7 119.7 280.8 116.6 287 112.3 288.1 110.9 285 113.4 278.8 117.7 275.7 118.3 272.6 121.2 269.5 123.7 266.5 125.6 263.4 127 260.3 131.1 257.2 133.6 251 137.2Z" fill="#162"/>
<path d="M233 152.8 234.1 151.2 236.2 149.4 237.3 149.3 238.3 148.4 239.4 146.5 241.6 144.7 242.6 144.3 243.7 143.4 246.8 141.9 249.9 138.4 251 137.2 247.9 140.2 244.8 141.4 243.7 142.3 242.7 143.9 235.2 150.2 234.1 150.8Z" fill="#062"/>
<path d="M173.1 195.7 209.4 170.6 220.1 162.5 221.2 162.2 223.3 160.5 224.4 159.1 225.5 158.3 226.6 157.9 228.7 156.2 229.8 154.8 230.8 153.9 231.9 153.6 233 152.8 234.1 150.8 233 151.7 231.9 153.3 230.9 154.2 229.8 154.7 225.5 158.1 224.4 159.5 222.3 161.2 221.2 161.6 219.1 163.2 215.9 165.8 213.7 167.2 208.4 171.2 174.2 195Z" fill="#052"/>
<path d="M285 113.4 288.1 110.9 289.2 111.7 286.1 113.8Z" fill="#2e5"/>
<path d="M281.9 115.5 285 113.4 286.1 113.8 283 115.4Z" fill="#1a3"/>
<path d="M278.8 117.7 281.9 115.5 283 115.4 279.9 116.1Z" fill="#162"/>
<path d="M275.7 118.3 278.8 117.7 279.9 116.1 276.8 119.9Z" fill="#183"/>
<path d="M272.6 121.2 275.7 118.3 276.8 119.9 273.8 120.6Z" fill="#2d4"/>
<path d="M269.5 123.7 272.6 121.2 273.8 120.6 270.7 123.7Z" fill="#162"/>
<path d="M266.5 125.6 269.5 123.7 270.7 123.7 267.6 125.8Z" fill="#193"/>
<path d="M260.3 131.1 263.4 127 266.5 125.6 267.6 125.8 261.4 131Z" fill="#2e5"/>
<path d="M254.1 135.3 257.2 133.6 260.3 131.1 261.4 131 258.3 131.8 255.2 136Z" fill="#162"/>
<path d="M251 137.2 254.1 135.3 255.2 136 252.1 136.7Z" fill="#172"/>
<path d="M247.9 140.2 251 137.2 252.1 136.7 249 139.6Z" fill="#162"/>
<path d="M244.8 141.4 247.9 140.2 249 139.6 245.9 142.9Z" fill="#1c4"/>
<path d="M242.7 143.9 243.7 142.3 244.8 141.4 245.9 142.9 244.8 143.8 243.8 144.1Z" fill="#1e5"/>
<path d="M240.5 145.7 242.7 143.9 243.8 144.1 241.6 146Z" fill="#193"/>
<path d="M239.5 146.7 240.5 145.7 241.6 146 240.6 146.6Z" fill="#173"/>
<path d="M238.4 147.6 239.5 146.7 240.6 146.6 239.5 147.6Z" fill="#162"/>
<path d="M237.3 148.3 238.4 147.6 239.5 147.6 238.4 148.9Z" fill="#1a4"/>
<path d="M235.2 150.2 237.3 148.3 238.4 148.9 236.3 150.8Z" fill="#1c4"/>
<path d="M234.1 150.8 235.2 150.2 236.3 150.8 235.2 151.2Z" fill="#1b4"/>
<path d="M233 151.7 234.1 150.8 235.2 151.2 234.1 152.2Z" fill="#1c4"/>
<path d="M231.9 153.3 233 151.7 234.1 152.2 233.1 153.1Z" fill="#183"/>
<path d="M230.9 154.2 231.9 153.3 233.1 153.1 232 154.1Z" fill="#062"/>
<path d="M229.8 154.7 230.9 154.2 232 154.1 230.9 155Z" fill="#072"/>
<path d="M227.7 156.5 229.8 154.7 230.9 155 228.8 156.9Z" fill="#0a4"/>
<path d="M226.6 157.3 227.7 156.5 228.8 156.9 227.7 158.1Z" fill="#1c5"/>
<path d="M225.5 158.1 226.6 157.3 227.7 158.1 226.6 159Z" fill="#1d5"/>
<path d="M224.4 159.5 225.5 158.1 226.6 159 225.5 159.7Z" fill="#0b4"/>
<path d="M222.3 161.2 224.4 159.5 225.5 159.7 223.4 161.5Z" fill="#083"/>
<path d="M221.2 161.6 222.3 161.2 223.4 161.5 222.3 162.6Z" fill="#0b4"/>
<path d="M220.2 162.4 221.2 161.6 222.3 162.6 221.3 163.4Z" fill="#0d5"/>
<path d="M174.2 195 208.4 171.2 213.7 167.2 215.9 165.8 219.1 163.2 220.2 162.4 221.3 163.4 220.2 163.9 217 166.6 205.7 174.8 175.3 195.9Z" fill="#0c5"/>
<path d="M283 115.4 286.1 113.8 289.2 111.7 290.3 111 287.2 112.7 284.1 115.2Z" fill="#162"/>
<path d="M276.8 119.9 279.9 116.1 283 115.4 284.1 115.2 278 119.3Z" fill="#2d4"/>
<path d="M273.8 120.6 276.8 119.9 278 119.3 274.9 121.5Z" fill="#2a3"/>
<path d="M270.7 123.7 273.8 120.6 274.9 121.5 271.8 123Z" fill="#293"/>
<path d="M267.6 125.8 270.7 123.7 271.8 123 268.7 126.2Z" fill="#172"/>
<path d="M264.5 128.3 267.6 125.8 268.7 126.2 265.6 128.6Z" fill="#2c4"/>
<path d="M258.3 131.8 261.4 131 264.5 128.3 265.6 128.6 262.5 130.1 259.4 132.3Z" fill="#162"/>
<path d="M255.2 136 258.3 131.8 259.4 132.3 256.3 135.3Z" fill="#182"/>
<path d="M249 139.6 252.1 136.7 255.2 136 256.3 135.3 253.2 138.8 250.1 140.2Z" fill="#2e5"/>
<path d="M238.4 148.9 239.5 147.6 243.8 144.1 244.8 143.8 249 139.6 250.1 140.2 247 143.6 246 144.5 244.9 145.7 242.7 147.5 241.7 147.4 240.6 148.3 239.5 150.3Z" fill="#1e5"/>
<path d="M228.8 156.9 235.2 151.2 236.3 150.8 238.4 148.9 239.5 150.3 237.4 152.2 236.3 152.6 235.2 153.5 234.2 154.9 233.1 155.8 232 155.8 229.9 157.7Z" fill="#1d5"/>
<path d="M224.5 160.6 227.7 158.1 228.8 156.9 229.9 157.7 228.8 159.3 225.6 161.9Z" fill="#0d5"/>
<path d="M175.3 195.9 205.7 174.8 217 166.6 220.2 163.9 222.3 162.6 224.5 160.6 225.6 161.9 222.4 164.4 221.3 164.9 220.2 165.7 206.8 175.9 176.4 197.2Z" fill="#0c5"/>
<path d="M274.9 121.5 284.1 115.2 287.2 112.7 290.3 111 291.4 109.3 288.3 113.2 285.3 113.6 282.2 116.8 279.1 119.3 276 120.2Z" fill="#162"/>
<path d="M271.8 123 274.9 121.5 276 120.2 272.9 124.5Z" fill="#2a3"/>
<path d="M268.7 126.2 271.8 123 272.9 124.5 269.8 126.5Z" fill="#2f5"/>
<path d="M262.5 130.1 265.6 128.6 268.7 126.2 269.8 126.5 266.7 127.1 263.6 130.2Z" fill="#162"/>
<path d="M259.4 132.3 262.5 130.1 263.6 130.2 260.5 132.9Z" fill="#2c4"/>
<path d="M256.3 135.3 259.4 132.3 260.5 132.9 257.4 135.7Z" fill="#2d4"/>
<path d="M247 143.6 250.1 140.2 253.2 138.8 256.3 135.3 257.4 135.7 254.3 137.1 251.2 139 248.1 143.6Z" fill="#162"/>
<path d="M246 144.5 247 143.6 248.1 143.6 247.1 144.5Z" fill="#173"/>
<path d="M244.9 145.7 246 144.5 247.1 144.5 246 144.2Z" fill="#062"/>
<path d="M243.8 146.6 244.9 145.7 246 144.2 244.9 145.2Z" fill="#162"/>
<path d="M241.7 147.4 242.7 147.5 243.8 146.6 244.9 145.2 243.8 146.1 242.8 147.9Z" fill="#062"/>
<path d="M240.6 148.3 241.7 147.4 242.8 147.9 241.7 148.8Z" fill="#1c4"/>
<path d="M235.2 153.5 236.3 152.6 237.4 152.2 239.5 150.3 240.6 148.3 241.7 148.8 240.6 148.5 238.5 150.4 237.4 152.2 236.3 153.2Z" fill="#062"/>
<path d="M232 155.8 233.1 155.8 234.2 154.9 235.2 153.5 236.3 153.2 234.2 155.4 233.1 155.6Z" fill="#052"/>
<path d="M230.9 156.8 232 155.8 233.1 155.6 232.1 156.5Z" fill="#062"/>
<path d="M176.4 197.2 206.8 175.9 220.2 165.7 221.3 164.9 222.4 164.4 228.8 159.3 229.9 157.7 230.9 156.8 232.1 156.5 231 157.4 229.9 159 228.8 159.8 227.8 160 226.7 160.9 224.5 163 223.5 163.9 222.4 164.1 218.1 167.8 217 169 216 169.8 214.9 170.1 212.7 171.8 211.7 173 207.9 175.4 200.3 181.2 177.5 196.9Z" fill="#052"/>
<path d="M288.3 113.2 291.4 109.3 292.5 110.5 289.5 110.1Z" fill="#162"/>
<path d="M285.3 113.6 288.3 113.2 289.5 110.1 286.4 116.6Z" fill="#293"/>
<path d="M282.2 116.8 285.3 113.6 286.4 116.6 283.3 113.9Z" fill="#182"/>
<path d="M254.3 137.1 257.4 135.7 263.6 130.2 266.7 127.1 269.8 126.5 272.9 124.5 276 120.2 279.1 119.3 282.2 116.8 283.3 113.9 280.2 116.7 277.1 118.2 274 121.5 270.9 127.9 267.8 125.4 264.7 128.7 261.6 130.5 258.5 133.7 255.4 137.9Z" fill="#162"/>
<path d="M251.2 139 254.3 137.1 255.4 137.9 252.3 138.7Z" fill="#1a3"/>
<path d="M243.8 146.1 246 144.2 247.1 144.5 248.1 143.6 251.2 139 252.3 138.7 249.2 142.7 248.2 143.6 247.1 143.1 245 145.1Z" fill="#162"/>
<path d="M242.8 147.9 243.8 146.1 245 145.1 243.9 149.5Z" fill="#1c4"/>
<path d="M241.7 148.8 242.8 147.9 243.9 149.5 242.8 150.4Z" fill="#1e5"/>
<path d="M240.6 148.5 241.7 148.8 242.8 150.4 241.7 149.2Z" fill="#1d5"/>
<path d="M238.5 150.4 240.6 148.5 241.7 149.2 239.6 151.2Z" fill="#1e5"/>
<path d="M237.4 152.2 238.5 150.4 239.6 151.2 238.5 152.3Z" fill="#1c4"/>
<path d="M236.3 153.2 237.4 152.2 238.5 152.3 237.4 153.2Z" fill="#072"/>
<path d="M235.3 154.4 236.3 153.2 237.4 153.2 236.4 154.4Z" fill="#073"/>
<path d="M234.2 155.4 235.3 154.4 236.4 154.4 235.3 155.4Z" fill="#072"/>
<path d="M231 157.4 233.1 155.6 234.2 155.4 235.3 155.4 234.2 154.9 232.1 156.9Z" fill="#062"/>
<path d="M229.9 159 231 157.4 232.1 156.9 231 159.4Z" fill="#073"/>
<path d="M228.8 159.8 229.9 159 231 159.4 229.9 160.3Z" fill="#0b4"/>
<path d="M227.8 160 228.8 159.8 229.9 160.3 228.9 160.8Z" fill="#0a4"/>
<path d="M226.7 160.9 227.8 160 228.9 160.8 227.8 161.7Z" fill="#1c5"/>
<path d="M225.6 161.8 226.7 160.9 227.8 161.7 226.7 162.6Z" fill="#0c5"/>
<path d="M224.5 163 225.6 161.8 226.7 162.6 225.7 164.1Z" fill="#0d5"/>
<path d="M223.5 163.9 224.5 163 225.7 164.1 224.6 164.9Z" fill="#0c5"/>
<path d="M222.4 164.1 223.5 163.9 224.6 164.9 223.5 164.7Z" fill="#0b4"/>
<path d="M220.3 165.8 222.4 164.1 223.5 164.7 221.4 166.5Z" fill="#0c4"/>
<path d="M219.2 167 220.3 165.8 221.4 166.5 220.3 168.3Z" fill="#0d5"/>
<path d="M218.1 167.8 219.2 167 220.3 168.3 219.2 169.1Z" fill="#0c5"/>
<path d="M217 169 218.1 167.8 219.2 169.1 218.1 168.9Z" fill="#0a4"/>
<path d="M216 169.8 217 169 218.1 168.9 217.1 169.8Z" fill="#052"/>
<path d="M214.9 170.1 216 169.8 217.1 169.8 216 171.4Z" fill="#0b5"/>
<path d="M207.9 175.4 211.7 173 212.7 171.8 214.9 170.1 216 171.4 209 176.5Z" fill="#0c5"/>
<path d="M204.1 178.3 207.9 175.4 209 176.5 205.2 178.9Z" fill="#0b5"/>
<path d="M200.3 181.2 204.1 178.3 205.2 178.9 201.4 181.6Z" fill="#094"/>
<path d="M196.5 183.8 200.3 181.2 201.4 181.6 197.6 184.9Z" fill="#0b4"/>
<path d="M192.7 186.4 196.5 183.8 197.6 184.9 193.8 187.3Z" fill="#0c5"/>
<path d="M188.9 189.1 192.7 186.4 193.8 187.3 190 189.8Z" fill="#0b4"/>
<path d="M185.1 191.7 188.9 189.1 190 189.8 186.2 192.9Z" fill="#0c5"/>
<path d="M177.5 196.9 185.1 191.7 186.2 192.9 182.4 195 178.6 197.9Z" fill="#0b5"/>
<path d="M289.5 110.1 292.5 110.5 293.7 113.7 290.6 114.4Z" fill="#2f5"/>
<path d="M286.4 116.6 289.5 110.1 290.6 114.4 287.5 110.4Z" fill="#162"/>
<path d="M283.3 113.9 286.4 116.6 287.5 110.4 284.4 120.5Z" fill="#2c4"/>
<path d="M274 121.5 277.1 118.2 280.2 116.7 283.3 113.9 284.4 120.5 281.3 120.3 278.2 120.8 275.1 122.5Z" fill="#3f4"/>
<path d="M267.8 125.4 270.9 127.9 274 121.5 275.1 122.5 272 122 268.9 128.3Z" fill="#162"/>
<path d="M261.6 130.5 264.7 128.7 267.8 125.4 268.9 128.3 265.8 128.3 262.7 135.5Z" fill="#3f4"/>
<path d="M258.5 133.7 261.6 130.5 262.7 135.5 259.6 137.7Z" fill="#2f5"/>
<path d="M249.2 142.7 252.3 138.7 255.4 137.9 258.5 133.7 259.6 137.7 256.5 139.7 253.4 141.1 250.4 144.9Z" fill="#2e5"/>
<path d="M248.2 143.6 249.2 142.7 250.4 144.9 249.3 145.9Z" fill="#1e5"/>
<path d="M247.1 143.1 248.2 143.6 249.3 145.9 248.2 142.2Z" fill="#1b4"/>
<path d="M242.8 150.4 243.9 149.5 245 145.1 247.1 143.1 248.2 142.2 246.1 144.3 245 145.8 243.9 146.8Z" fill="#162"/>
<path d="M241.7 149.2 242.8 150.4 243.9 146.8 242.8 152.6Z" fill="#173"/>
<path d="M239.6 151.2 241.7 149.2 242.8 152.6 240.7 154.4Z" fill="#1d5"/>
<path d="M238.5 152.3 239.6 151.2 240.7 154.4 239.6 150.7Z" fill="#1c4"/>
<path d="M237.4 153.2 238.5 152.3 239.6 150.7 238.6 151.8Z" fill="#162"/>
<path d="M234.2 154.9 235.3 155.4 237.4 153.2 238.6 151.8 235.3 154.9Z" fill="#062"/>
<path d="M233.2 155.9 234.2 154.9 235.3 154.9 234.3 155.9Z" fill="#172"/>
<path d="M232.1 156.9 233.2 155.9 234.3 155.9 233.2 157Z" fill="#173"/>
<path d="M231 159.4 232.1 156.9 233.2 157 232.1 160Z" fill="#1b4"/>
<path d="M229.9 160.3 231 159.4 232.1 160 231 160.9Z" fill="#0b4"/>
<path d="M228.9 160.8 229.9 160.3 231 160.9 230 163.3Z" fill="#0d5"/>
<path d="M217.1 169.8 218.1 168.9 219.2 169.1 220.3 168.3 221.4 166.5 223.5 164.7 224.6 164.9 225.7 164.1 226.7 162.6 228.9 160.8 230 163.3 225.7 166.8 224.6 166.6 222.5 168.3 221.4 169.8 220.3 170.6 219.2 169.8 218.2 170.7Z" fill="#0c5"/>
<path d="M216 171.4 217.1 169.8 218.2 170.7 217.1 171.5Z" fill="#0a4"/>
<path d="M214.9 172.2 216 171.4 217.1 171.5 216 172.3Z" fill="#052"/>
<path d="M213.9 173 214.9 172.2 216 172.3 215 173.2Z" fill="#062"/>
<path d="M212.8 173.8 213.9 173 215 173.2 213.9 173.5Z" fill="#052"/>
<path d="M209 176.5 212.8 173.8 213.9 173.5 210.1 177.4Z" fill="#073"/>
<path d="M197.6 184.9 201.4 181.6 205.2 178.9 209 176.5 210.1 177.4 206.3 180.2 202.5 183.3 198.7 185.2Z" fill="#0c5"/>
<path d="M190 189.8 197.6 184.9 198.7 185.2 194.9 188.2 191.1 190.4Z" fill="#0a4"/>
<path d="M186.2 192.9 190 189.8 191.1 190.4 187.3 194Z" fill="#0b5"/>
<path d="M178.6 197.9 182.4 195 186.2 192.9 187.3 194 183.5 196.8 179.7 198.4Z" fill="#0c5"/>
<path d="M290.6 114.4 293.7 113.7 294.8 113.8 291.7 117.2Z" fill="#1e5"/>
<path d="M287.5 110.4 290.6 114.4 291.7 117.2 288.6 110.2Z" fill="#3f4"/>
<path d="M278.2 120.8 281.3 120.3 284.4 120.5 287.5 110.4 288.6 110.2 285.5 118.6 282.4 114.8 279.3 123.3Z" fill="#162"/>
<path d="M272 122 275.1 122.5 278.2 120.8 279.3 123.3 276.2 124.8 273.1 130.8Z" fill="#3f5"/>
<path d="M265.8 128.3 268.9 128.3 272 122 273.1 130.8 270 124.2 266.9 134.1Z" fill="#3f4"/>
<path d="M262.7 135.5 265.8 128.3 266.9 134.1 263.8 133Z" fill="#2f5"/>
<path d="M248.2 142.2 249.3 145.9 250.4 144.9 253.4 141.1 256.5 139.7 262.7 135.5 263.8 133 260.7 132.7 257.7 140.7 254.6 138.5 251.5 139.7 250.4 140.8 249.3 143.1Z" fill="#162"/>
<path d="M246.1 144.3 248.2 142.2 249.3 143.1 247.2 145.2Z" fill="#3f5"/>
<path d="M245 145.8 246.1 144.3 247.2 145.2 246.1 149.6Z" fill="#2f5"/>
<path d="M243.9 146.8 245 145.8 246.1 149.6 245 150.5Z" fill="#2e5"/>
<path d="M241.8 153.5 242.8 152.6 243.9 146.8 245 150.5 244 147.1 242.9 148.2Z" fill="#162"/>
<path d="M240.7 154.4 241.8 153.5 242.9 148.2 241.8 149.3Z" fill="#062"/>
<path d="M239.6 150.7 240.7 154.4 241.8 149.3 240.7 151.3Z" fill="#162"/>
<path d="M238.6 151.8 239.6 150.7 240.7 151.3 239.7 152.3Z" fill="#2d4"/>
<path d="M236.4 153.8 238.6 151.8 239.7 152.3 237.5 154.2Z" fill="#1c4"/>
<path d="M234.3 155.9 236.4 153.8 237.5 154.2 236.4 157.6 235.4 158.6Z" fill="#1e5"/>
<path d="M232.1 160 233.2 157 234.3 155.9 235.4 158.6 234.3 159.5 233.2 160.1Z" fill="#1d5"/>
<path d="M231 160.9 232.1 160 233.2 160.1 232.2 161.1Z" fill="#073"/>
<path d="M219.2 169.8 220.3 170.6 221.4 169.8 222.5 168.3 224.6 166.6 225.7 166.8 230 163.3 231 160.9 232.2 161.1 231.1 160 228.9 161.9 227.9 164.3 226.8 165.2 225.7 164.6 221.4 168.6 220.4 170Z" fill="#052"/>
<path d="M217.1 171.5 219.2 169.8 220.4 170 218.2 171.7Z" fill="#073"/>
<path d="M215 173.2 217.1 171.5 218.2 171.7 216.1 173.5Z" fill="#083"/>
<path d="M213.9 173.5 215 173.2 216.1 173.5 215 173.6Z" fill="#062"/>
<path d="M210.1 177.4 213.9 173.5 215 173.6 211.2 177.1Z" fill="#052"/>
<path d="M198.7 185.2 202.5 183.3 206.3 180.2 210.1 177.4 211.2 177.1 207.4 181.4 203.6 183.3 199.8 186.5Z" fill="#094"/>
<path d="M194.9 188.2 198.7 185.2 199.8 186.5 196 188.7Z" fill="#0b5"/>
<path d="M191.1 190.4 194.9 188.2 196 188.7 192.2 191.3Z" fill="#0a4"/>
<path d="M187.3 194 191.1 190.4 192.2 191.3 188.4 193.8Z" fill="#073"/>
<path d="M183.5 196.8 187.3 194 188.4 193.8 184.6 196.6Z" fill="#052"/>
<path d="M179.7 198.4 183.5 196.8 184.6 196.6 180.8 199.5Z" fill="#073"/>
<path d="M291.7 117.2 294.8 113.8 295.9 113.4 292.8 116.3Z" fill="#162"/>
<path d="M288.6 110.2 291.7 117.2 292.8 116.3 289.7 119.5Z" fill="#2e5"/>
<path d="M285.5 118.6 288.6 110.2 289.7 119.5 286.6 111.1Z" fill="#3f4"/>
<path d="M282.4 114.8 285.5 118.6 286.6 111.1 283.5 121.4Z" fill="#162"/>
<path d="M279.3 123.3 282.4 114.8 283.5 121.4 280.4 119.5Z" fill="#3f4"/>
<path d="M273.1 130.8 276.2 124.8 279.3 123.3 280.4 119.5 277.3 123.2 274.2 129.2Z" fill="#162"/>
<path d="M266.9 134.1 270 124.2 273.1 130.8 274.2 129.2 271.1 131.3 268 133.9Z" fill="#2f5"/>
<path d="M263.8 133 266.9 134.1 268 133.9 264.9 131.9Z" fill="#162"/>
<path d="M260.7 132.7 263.8 133 264.9 131.9 261.9 138.4Z" fill="#3f5"/>
<path d="M257.7 140.7 260.7 132.7 261.9 138.4 258.8 137.3Z" fill="#2f5"/>
<path d="M254.6 138.5 257.7 140.7 258.8 137.3 255.7 138.1Z" fill="#162"/>
<path d="M251.5 139.7 254.6 138.5 255.7 138.1 252.6 141.2Z" fill="#3d4"/>
<path d="M250.4 140.8 251.5 139.7 252.6 141.2 251.5 142.2Z" fill="#3f4"/>
<path d="M249.3 143.1 250.4 140.8 251.5 142.2 250.4 141.9Z" fill="#293"/>
<path d="M245 150.5 246.1 149.6 247.2 145.2 249.3 143.1 250.4 141.9 248.3 144 247.2 147.1 246.1 148.1Z" fill="#162"/>
<path d="M244 147.1 245 150.5 246.1 148.1 245.1 151.7Z" fill="#1e5"/>
<path d="M242.9 148.2 244 147.1 245.1 151.7 244 152.7Z" fill="#2e5"/>
<path d="M238.6 153.1 240.7 151.3 241.8 149.3 242.9 148.2 244 152.7 242.9 153.7 241.8 155.2 240.8 156.2 239.7 158.4Z" fill="#1e5"/>
<path d="M236.4 157.6 237.5 154.2 238.6 153.1 239.7 158.4 238.6 159.3 237.6 158.9Z" fill="#1d5"/>
<path d="M234.3 159.5 236.4 157.6 237.6 158.9 235.4 160.7Z" fill="#0d5"/>
<path d="M231.1 160 232.2 161.1 233.2 160.1 234.3 159.5 235.4 160.7 234.3 157.2 233.3 158.2 232.2 161Z" fill="#062"/>
<path d="M230 160.9 231.1 160 232.2 161 231.1 162Z" fill="#1e5"/>
<path d="M228.9 161.9 230 160.9 231.1 162 230 162.9Z" fill="#1d5"/>
<path d="M227.9 164.3 228.9 161.9 230 162.9 229 163.2Z" fill="#062"/>
<path d="M226.8 165.2 227.9 164.3 229 163.2 227.9 164.1Z" fill="#052"/>
<path d="M223.6 166.4 225.7 164.6 226.8 165.2 227.9 164.1 226.8 163.7 224.7 165.6Z" fill="#062"/>
<path d="M222.5 167.7 223.6 166.4 224.7 165.6 223.6 168.7Z" fill="#083"/>
<path d="M221.4 168.6 222.5 167.7 223.6 168.7 222.5 169.6Z" fill="#0d5"/>
<path d="M218.2 171.7 220.4 170 221.4 168.6 222.5 169.6 221.5 172 220.4 172.8 219.3 172.3Z" fill="#0c5"/>
<path d="M216.1 173.5 218.2 171.7 219.3 172.3 217.2 174Z" fill="#0a4"/>
<path d="M211.2 177.1 215 173.6 216.1 173.5 217.2 174 212.3 177.3Z" fill="#0b4"/>
<path d="M203.6 183.3 207.4 181.4 211.2 177.1 212.3 177.3 208.5 179.2 204.7 184.3Z" fill="#052"/>
<path d="M199.8 186.5 203.6 183.3 204.7 184.3 200.9 186.2Z" fill="#083"/>
<path d="M196 188.7 199.8 186.5 200.9 186.2 197.1 188.3Z" fill="#052"/>
<path d="M192.2 191.3 196 188.7 197.1 188.3 193.3 192.5Z" fill="#083"/>
<path d="M188.4 193.8 192.2 191.3 193.3 192.5 189.5 195Z" fill="#0c5"/>
<path d="M184.6 196.6 188.4 193.8 189.5 195 185.7 197.3Z" fill="#0b5"/>
<path d="M180.8 199.5 184.6 196.6 185.7 197.3 181.9 199.3Z" fill="#052"/>
<path d="M289.7 119.5 292.8 116.3 295.9 113.4 297 106.6 293.9 112.6 290.8 114.4Z" fill="#162"/>
<path d="M286.6 111.1 289.7 119.5 290.8 114.4 287.7 118.2Z" fill="#3e4"/>
<path d="M283.5 121.4 286.6 111.1 287.7 118.2 284.6 124.1Z" fill="#3f4"/>
<path d="M280.4 119.5 283.5 121.4 284.6 124.1 281.5 115.8Z" fill="#162"/>
<path d="M277.3 123.2 280.4 119.5 281.5 115.8 278.4 122.8Z" fill="#262"/>
<path d="M274.2 129.2 277.3 123.2 278.4 122.8 275.3 132.3Z" fill="#2f5"/>
<path d="M271.1 131.3 274.2 129.2 275.3 132.3 272.2 129.1Z" fill="#1a4"/>
<path d="M268 133.9 271.1 131.3 272.2 129.1 269.2 133.7Z" fill="#162"/>
<path d="M264.9 131.9 268 133.9 269.2 133.7 266.1 138.7Z" fill="#2e5"/>
<path d="M258.8 137.3 261.9 138.4 264.9 131.9 266.1 138.7 263 139.8 259.9 144.1Z" fill="#1e5"/>
<path d="M255.7 138.1 258.8 137.3 259.9 144.1 256.8 143.9Z" fill="#2e5"/>
<path d="M252.6 141.2 255.7 138.1 256.8 143.9 253.7 145.9Z" fill="#2f5"/>
<path d="M251.5 142.2 252.6 141.2 253.7 145.9 252.6 146.9Z" fill="#2e5"/>
<path d="M248.3 144 250.4 141.9 251.5 142.2 252.6 146.9 251.5 146.5 249.4 148.5Z" fill="#2f5"/>
<path d="M247.2 147.1 248.3 144 249.4 148.5 248.3 151.2Z" fill="#2e5"/>
<path d="M245.1 151.7 246.1 148.1 247.2 147.1 248.3 151.2 247.2 152.1 246.2 152Z" fill="#1e5"/>
<path d="M242.9 153.7 245.1 151.7 246.2 152 244 154Z" fill="#1a4"/>
<path d="M239.7 158.4 240.8 156.2 241.8 155.2 242.9 153.7 244 154 243 151.6 241.9 152.6 240.8 156.3Z" fill="#062"/>
<path d="M235.4 160.7 237.6 158.9 238.6 159.3 239.7 158.4 240.8 156.3 239.7 157.3 238.7 158.8 236.5 160.7Z" fill="#052"/>
<path d="M234.3 157.2 235.4 160.7 236.5 160.7 235.4 158Z" fill="#183"/>
<path d="M233.3 158.2 234.3 157.2 235.4 158 234.4 159Z" fill="#2e5"/>
<path d="M232.2 161 233.3 158.2 234.4 159 233.3 163.9Z" fill="#1e5"/>
<path d="M229 163.2 230 162.9 232.2 161 233.3 163.9 231.1 165.7 230.1 167.8Z" fill="#0d5"/>
<path d="M227.9 164.1 229 163.2 230.1 167.8 229 168.6Z" fill="#0c5"/>
<path d="M224.7 165.6 226.8 163.7 227.9 164.1 229 168.6 227.9 168.8 225.8 170.4Z" fill="#0d5"/>
<path d="M222.5 169.6 223.6 168.7 224.7 165.6 225.8 170.4 224.7 171.6 223.6 172.4Z" fill="#0c5"/>
<path d="M221.5 172 222.5 169.6 223.6 172.4 222.6 171Z" fill="#0b5"/>
<path d="M217.2 174 219.3 172.3 220.4 172.8 221.5 172 222.6 171 221.5 171.9 220.4 172.2 218.3 174Z" fill="#052"/>
<path d="M204.7 184.3 208.5 179.2 212.3 177.3 217.2 174 218.3 174 217.2 177.3 213.4 179.1 205.8 183.8Z" fill="#0c5"/>
<path d="M200.9 186.2 204.7 184.3 205.8 183.8 202 186.7Z" fill="#052"/>
<path d="M197.1 188.3 200.9 186.2 202 186.7 198.2 189.4Z" fill="#0b4"/>
<path d="M193.3 192.5 197.1 188.3 198.2 189.4 194.4 193.2Z" fill="#0c5"/>
<path d="M189.5 195 193.3 192.5 194.4 193.2 190.6 195.5Z" fill="#094"/>
<path d="M185.7 197.3 189.5 195 190.6 195.5 186.8 198.3Z" fill="#0a4"/>
<path d="M181.9 199.3 185.7 197.3 186.8 198.3 183 202Z" fill="#0c5"/>
</g>
<defs><linearGradient id="cg" x1="0" y1="0" x2="0" y2="1"><stop offset="0" stop-color="#0c4"/><stop offset="0.45" stop-color="#0a6"/><stop offset="0.8" stop-color="#089"/><stop offset="1" stop-color="#06a"/></linearGradient><linearGradient id="cd" x1="0" y1="0" x2="0" y2="1"><stop offset="0" stop-color="#084"/><stop offset="0.3" stop-color="#053"/><stop offset="1" stop-color="#045"/></linearGradient><linearGradient id="cl" x1="0" y1="0" x2="0" y2="1"><stop offset="0" stop-color="#2d5"/><stop offset="0.55" stop-color="#0b6"/><stop offset="0.85" stop-color="#09a"/><stop offset="1" stop-color="#07b"/></linearGradient></defs>
<path d="M182.3 199.2H184.1V203.5L183.3 205.3L182.3 203.5Z" fill="url(#cg)"/>
<path d="M182.9 198.5H184.6V202.6L183.5 204.3L182.9 202.6Z" fill="url(#cg)"/>
<path d="M183.8 198.6H185V202.4L184.3 204.1L183.8 202.4Z" fill="url(#cg)"/>
<path d="M184.5 197.6H186V200.9L185 202.3L184.5 200.9Z" fill="url(#cd)"/>
<path d="M185.3 197.7H187V200.5L186 201.7L185.3 200.5Z" fill="url(#cg)"/>
<path d="M186.2 197.2H187.7V201L187.2 202.6L186.2 201Z" fill="url(#cg)"/>
<path d="M187.1 196.7H188.1V199.7L187.5 201L187.1 199.7Z" fill="url(#cg)"/>
<path d="M187.3 196H189V199.9L188.1 201.6L187.3 199.9Z" fill="url(#cl)"/>
<path d="M188.4 195.9H189.4V199.6L189 201.2L188.4 199.6Z" fill="url(#cg)"/>
<path d="M188.9 195H190V199.2L189.2 201L188.9 199.2Z" fill="url(#cd)"/>
<path d="M189.5 193.7H191.3V197L190.3 198.5L189.5 197Z" fill="url(#cl)"/>
<path d="M190.3 194.1H192V198L191.4 199.7L190.3 198Z" fill="url(#cd)"/>
<path d="M191.2 193H192.9V195.7L192 196.9L191.2 195.7Z" fill="url(#cg)"/>
<path d="M192.3 192.4H193.4V195.5L192.6 196.9L192.3 195.5Z" fill="url(#cg)"/>
<path d="M193.1 192.1H194.5V194.7L193.7 195.8L193.1 194.7Z" fill="url(#cl)"/>
<path d="M194.1 190.9H195.1V195.3L194.8 197.2L194.1 195.3Z" fill="url(#cd)"/>
<path d="M194.4 190.8H196.2V194.9L195.4 196.7L194.4 194.9Z" fill="url(#cg)"/>
<path d="M195.3 190.3H196.5V193.5L195.9 194.9L195.3 193.5Z" fill="url(#cg)"/>
<path d="M196 189.2H197.6V194.2L196.8 196.3L196 194.2Z" fill="url(#cl)"/>
<path d="M196.6 188.7H198.4V191.8L197.6 193.1L196.6 191.8Z" fill="url(#cg)"/>
<path d="M197.4 188.4H199.1V191.3L198.1 192.6L197.4 191.3Z" fill="url(#cg)"/>
<path d="M198.4 187.1H199.7V192L199.2 194.1L198.4 192Z" fill="url(#cl)"/>
<path d="M198.9 186.5H200.7V191.8L199.9 194.1L198.9 191.8Z" fill="url(#cg)"/>
<path d="M199.7 186.7H201V191.1L200.6 193L199.7 191.1Z" fill="url(#cg)"/>
<path d="M200.4 185.5H202.1V189.9L201.1 191.8L200.4 189.9Z" fill="url(#cg)"/>
<path d="M201.4 184.3H202.8V190.3L202.1 192.9L201.4 190.3Z" fill="url(#cd)"/>
<path d="M202.2 184.3H203.8V191.1L203.2 194L202.2 191.1Z" fill="url(#cd)"/>
<path d="M203.1 183.4H204.6V189.3L204 191.9L203.1 189.3Z" fill="url(#cg)"/>
<path d="M204 183.5H205.5V187.5L204.5 189.2L204 187.5Z" fill="url(#cg)"/>
<path d="M205 182.4H206V186.9L205.3 188.9L205 186.9Z" fill="url(#cl)"/>
<path d="M205.5 182.6H206.8V187.2L206.2 189.2L205.5 187.2Z" fill="url(#cg)"/>
<path d="M206.2 182.1H207.4V189.8L206.7 193.1L206.2 189.8Z" fill="url(#cd)"/>
<path d="M207.1 181.4H208.2V187L207.7 189.4L207.1 187Z" fill="url(#cl)"/>
<path d="M207.6 179.6H209.3V189.1L208.5 193.2L207.6 189.1Z" fill="url(#cl)"/>
<path d="M208.2 179.5H209.9V187.1L209.1 190.4L208.2 187.1Z" fill="url(#cl)"/>
<path d="M209.2 179.5H210.7V184.6L209.7 186.8L209.2 184.6Z" fill="url(#cg)"/>
<path d="M210.3 178.3H211.5V185.2L211.2 188.2L210.3 185.2Z" fill="url(#cl)"/>
<path d="M210.9 177.4H212.7V187.6L211.8 191.9L210.9 187.6Z" fill="url(#cg)"/>
<path d="M211.8 177H213.2V187.7L212.3 192.3L211.8 187.7Z" fill="url(#cg)"/>
<path d="M212.7 176H213.7V183.3L213.2 186.5L212.7 183.3Z" fill="url(#cl)"/>
<path d="M213.6 176.1H214.7V185.7L214.4 189.8L213.6 185.7Z" fill="url(#cl)"/>
<path d="M214.1 174.9H215.7V183.2L214.7 186.8L214.1 183.2Z" fill="url(#cg)"/>
<path d="M214.9 174.8H216.3V183.2L215.6 186.8L214.9 183.2Z" fill="url(#cl)"/>
<path d="M215.8 174.6H217.1V183.1L216.7 186.7L215.8 183.1Z" fill="url(#cg)"/>
<path d="M216.5 172.9H217.9V179.5L217.3 182.4L216.5 179.5Z" fill="url(#cg)"/>
<path d="M217.1 172.9H218.8V183.8L217.8 188.5L217.1 183.8Z" fill="url(#cl)"/>
<path d="M218.2 171.6H219.5V178.5L218.7 181.4L218.2 178.5Z" fill="url(#cg)"/>
<path d="M219.1 171.4H220.5V178.3L219.7 181.3L219.1 178.3Z" fill="url(#cd)"/>
<path d="M219.7 171.4H221.4V181.8L220.7 186.2L219.7 181.8Z" fill="url(#cg)"/>
<path d="M220.3 169.6H221.9V180.5L220.8 185.2L220.3 180.5Z" fill="url(#cg)"/>
<path d="M221.2 169.2H222.3V179.7L221.6 184.3L221.2 179.7Z" fill="url(#cg)"/>
<path d="M221.6 169.5H223.1V179.5L222.1 183.7L221.6 179.5Z" fill="url(#cd)"/>
<path d="M222.2 169.5H223.8V176.4L223.3 179.3L222.2 176.4Z" fill="url(#cd)"/>
<path d="M222.9 168.1H224.6V176.9L223.7 180.7L222.9 176.9Z" fill="url(#cd)"/>
<path d="M223.7 167.4H225.5V175.7L224.6 179.2L223.7 175.7Z" fill="url(#cg)"/>
<path d="M224.5 167.5H226V178L225 182.5L224.5 178Z" fill="url(#cl)"/>
<path d="M225.2 167.1H226.7V179.2L225.7 184.4L225.2 179.2Z" fill="url(#cg)"/>
<path d="M225.7 166H227.4V174.7L226.5 178.4L225.7 174.7Z" fill="url(#cl)"/>
<path d="M226.8 165.1H228V173.8L227.7 177.5L226.8 173.8Z" fill="url(#cg)"/>
<path d="M227.2 164.3H228.9V173.7L227.8 177.8L227.2 173.7Z" fill="url(#cg)"/>
<path d="M228.1 164.7H229.4V174.4L228.7 178.5L228.1 174.4Z" fill="url(#cd)"/>
<path d="M228.8 163.3H230.5V176.9L229.6 182.7L228.8 176.9Z" fill="url(#cg)"/>
<path d="M229.9 163.3H230.9V177.6L230.2 183.7L229.9 177.6Z" fill="url(#cd)"/>
<path d="M230.6 162.1H232V174.7L231.5 180.2L230.6 174.7Z" fill="url(#cg)"/>
<path d="M231.5 162.5H232.6V174.5L232 179.7L231.5 174.5Z" fill="url(#cg)"/>
<path d="M232.4 161.6H233.5V171.6L232.8 175.9L232.4 171.6Z" fill="url(#cl)"/>
<path d="M232.8 160H234.5V170.2L233.8 174.6L232.8 170.2Z" fill="url(#cg)"/>
<path d="M233.8 160.6H235V177.8L234.5 185.1L233.8 177.8Z" fill="url(#cg)"/>
<path d="M234.5 160.3H235.6V170.6L235 175L234.5 170.6Z" fill="url(#cg)"/>
<path d="M234.9 159.1H236.5V170.7L235.9 175.6L234.9 170.7Z" fill="url(#cd)"/>
<path d="M235.7 157.9H237V173.1L236.7 179.7L235.7 173.1Z" fill="url(#cd)"/>
<path d="M236.2 158.2H237.7V174L237.2 180.7L236.2 174Z" fill="url(#cg)"/>
<path d="M236.9 158.2H238.3V167.9L237.9 172.1L236.9 167.9Z" fill="url(#cd)"/>
<path d="M237.7 157.2H238.9V167.1L238.2 171.3L237.7 167.1Z" fill="url(#cl)"/>
<path d="M238.1 155.9H239.6V166.3L238.8 170.8L238.1 166.3Z" fill="url(#cg)"/>
<path d="M238.6 156.8H240.3V168L239.5 172.8L238.6 168Z" fill="url(#cg)"/>
<path d="M239.3 155.6H240.8V165.5L240 169.7L239.3 165.5Z" fill="url(#cg)"/>
<path d="M240.1 155.3H241.7V172.4L240.7 179.7L240.1 172.4Z" fill="url(#cd)"/>
<path d="M241 154.1H242.2V164.5L241.4 169L241 164.5Z" fill="url(#cd)"/>
<path d="M241.6 154.1H242.8V164.2L242 168.5L241.6 164.2Z" fill="url(#cg)"/>
<path d="M242.3 153.9H243.3V164.5L242.8 169.1L242.3 164.5Z" fill="url(#cl)"/>
<path d="M242.8 152.3H244.5V166.5L243.7 172.6L242.8 166.5Z" fill="url(#cg)"/>
<path d="M243.7 151.5H245.3V166.8L244.4 173.4L243.7 166.8Z" fill="url(#cg)"/>
<path d="M244.6 152.3H245.8V162.4L245.3 166.7L244.6 162.4Z" fill="url(#cl)"/>
<path d="M245.3 151.2H246.3V167.2L245.6 174.1L245.3 167.2Z" fill="url(#cl)"/>
<path d="M246 150.4H247.4V168.6L246.6 176.4L246 168.6Z" fill="url(#cl)"/>
<path d="M246.7 149.5H247.8V164.3L247.3 170.6L246.7 164.3Z" fill="url(#cd)"/>
<path d="M247.5 148.7H248.6V162.4L248 168.3L247.5 162.4Z" fill="url(#cg)"/>
<path d="M248 148.8H249.7V162L248.8 167.7L248 162Z" fill="url(#cg)"/>
<path d="M249.1 147.7H250.1V158.8L249.9 163.6L249.1 158.8Z" fill="url(#cd)"/>
<path d="M249.8 147H251V161.2L250.3 167.3L249.8 161.2Z" fill="url(#cl)"/>
<path d="M250.5 146.7H251.8V159.6L251 165.2L250.5 159.6Z" fill="url(#cg)"/>
<path d="M251.5 146.1H252.6V164L252.3 171.7L251.5 164Z" fill="url(#cg)"/>
<path d="M251.8 146.3H253.5V157.4L252.4 162.2L251.8 157.4Z" fill="url(#cg)"/>
<path d="M252.5 144.6H254.1V161.2L253.2 168.3L252.5 161.2Z" fill="url(#cd)"/>
<path d="M253.4 145.2H254.7V160.1L253.8 166.5L253.4 160.1Z" fill="url(#cl)"/>
<path d="M253.9 143.8H255.7V158.3L254.9 164.5L253.9 158.3Z" fill="url(#cg)"/>
<path d="M254.9 143.1H256.2V159.7L255.6 166.7L254.9 159.7Z" fill="url(#cg)"/>
<path d="M255.7 143.7H257V155.8L256.4 161L255.7 155.8Z" fill="url(#cg)"/>
<path d="M256.4 141.6H258V155L256.9 160.7L256.4 155Z" fill="url(#cg)"/>
<path d="M257.2 140.7H258.8V161.1L258.1 169.9L257.2 161.1Z" fill="url(#cg)"/>
<path d="M257.7 140.6H259.5V155.9L258.7 162.5L257.7 155.9Z" fill="url(#cg)"/>
<path d="M258.3 140.8H260V154.5L259.4 160.4L258.3 154.5Z" fill="url(#cg)"/>
<path d="M259.1 139.6H260.7V151.5L259.8 156.7L259.1 151.5Z" fill="url(#cg)"/>
<path d="M259.7 139.6H261.4V152.7L260.3 158.3L259.7 152.7Z" fill="url(#cg)"/>
<path d="M260.5 139.3H262.2V151.5L261.6 156.8L260.5 151.5Z" fill="url(#cg)"/>
<path d="M261.5 137.6H262.7V152.4L262 158.7L261.5 152.4Z" fill="url(#cg)"/>
<path d="M262.3 138.5H263.8V150.1L263.1 155.1L262.3 150.1Z" fill="url(#cd)"/>
<path d="M262.9 136.4H264.4V152.9L263.4 160L262.9 152.9Z" fill="url(#cg)"/>
<path d="M263.8 135.9H265.3V156.4L264.8 165.2L263.8 156.4Z" fill="url(#cl)"/>
<path d="M264.8 136.1H265.9V154.6L265.2 162.5L264.8 154.6Z" fill="url(#cd)"/>
<path d="M265.2 135.1H266.8V151.5L266.2 158.5L265.2 151.5Z" fill="url(#cg)"/>
<path d="M265.9 133.4H267.7V154L266.6 162.8L265.9 154Z" fill="url(#cd)"/>
<path d="M266.6 134H268.2V146.6L267.5 151.9L266.6 146.6Z" fill="url(#cd)"/>
<path d="M267.4 134H268.8V149.3L268 155.8L267.4 149.3Z" fill="url(#cg)"/>
<path d="M268 132.7H269.7V153.2L269 161.9L268 153.2Z" fill="url(#cl)"/>
<path d="M268.6 131.9H270.3V147.2L269.4 153.8L268.6 147.2Z" fill="url(#cl)"/>
<path d="M269.6 130.9H270.8V148.8L270.1 156.5L269.6 148.8Z" fill="url(#cg)"/>
<path d="M270.2 131.5H271.7V142.9L270.7 147.7L270.2 142.9Z" fill="url(#cl)"/>
<path d="M270.9 129.6H272.2V145.4L271.8 152.2L270.9 145.4Z" fill="url(#cd)"/>
<path d="M271.6 130.1H272.9V148.7L271.9 156.7L271.6 148.7Z" fill="url(#cl)"/>
<path d="M272.4 130.2H273.6V143.9L273.3 149.8L272.4 143.9Z" fill="url(#cg)"/>
<path d="M272.9 128.1H274.5V140.5L273.7 145.9L272.9 140.5Z" fill="url(#cd)"/>
<path d="M273.6 128H275.3V146.6L274.5 154.5L273.6 146.6Z" fill="url(#cg)"/>
<path d="M274.1 127.5H275.8V139.4L275.2 144.5L274.1 139.4Z" fill="url(#cg)"/>
<path d="M275.1 125.9H276.2V147.9L275.8 157.3L275.1 147.9Z" fill="url(#cg)"/>
<path d="M276 127H277.2V147.6L276.6 156.5L276 147.6Z" fill="url(#cl)"/>
<path d="M276.9 126.3H278V138.2L277.4 143.3L276.9 138.2Z" fill="url(#cg)"/>
<path d="M277.5 124.9H279.2V137.9L278.4 143.4L277.5 137.9Z" fill="url(#cd)"/>
<path d="M278.4 124.9H279.6V144.8L278.9 153.4L278.4 144.8Z" fill="url(#cl)"/>
<path d="M279.1 124.2H280.5V138.3L280.1 144.3L279.1 138.3Z" fill="url(#cg)"/>
<path d="M279.8 123.4H281.1V135.7L280.4 140.9L279.8 135.7Z" fill="url(#cg)"/>
<path d="M280.6 123.1H282.1V136L281.5 141.5L280.6 136Z" fill="url(#cd)"/>
<path d="M281.4 122.1H282.8V139.8L282.1 147.4L281.4 139.8Z" fill="url(#cg)"/>
<path d="M282.3 122.5H283.6V133.7L282.9 138.5L282.3 133.7Z" fill="url(#cd)"/>
<path d="M283 119.5H284.3V135.6L283.7 142.4L283 135.6Z" fill="url(#cg)"/>
<path d="M284 119.9H285.1V140.7L284.8 149.6L284 140.7Z" fill="url(#cd)"/>
<path d="M284.4 119.8H286.2V137.7L285.2 145.5L284.4 137.7Z" fill="url(#cg)"/>
<path d="M285.4 119.1H286.9V131.4L286 136.7L285.4 131.4Z" fill="url(#cg)"/>
<path d="M285.9 119.5H287.6V130.9L286.6 135.8L285.9 130.9Z" fill="url(#cl)"/>
<path d="M286.9 117.3H288.4V135.8L287.5 143.7L286.9 135.8Z" fill="url(#cg)"/>
<path d="M287.4 116.8H289.1V130.6L288.1 136.5L287.4 130.6Z" fill="url(#cd)"/>
<path d="M288.3 117.9H289.3V135.3L289 142.7L288.3 135.3Z" fill="url(#cg)"/>
<path d="M288.9 116.9H290.5V128.2L289.8 133L288.9 128.2Z" fill="url(#cg)"/>
<path d="M289.6 117.3H291.1V136.4L290.1 144.5L289.6 136.4Z" fill="url(#cd)"/>
<path d="M290.6 113.9H291.6V131.4L291.2 138.9L290.6 131.4Z" fill="url(#cg)"/>
<path d="M291.2 115.5H292.2V132.5L291.9 139.8L291.2 132.5Z" fill="url(#cg)"/>
<path d="M292 115.1H293.2V128.7L292.9 134.6L292 128.7Z" fill="url(#cl)"/>
<path d="M292.4 114.3H293.9V127L293.3 132.5L292.4 127Z" fill="url(#cd)"/>
<path d="M293.1 112.8H294.5V127.3L294 133.6L293.1 127.3Z" fill="url(#cd)"/>
<path d="M293.7 111.4H295.2V126.4L294.6 132.9L293.7 126.4Z" fill="url(#cg)"/>
<path d="M294.7 113.1H295.9V129.7L295.2 136.8L294.7 129.7Z" fill="url(#cg)"/>
<path d="M295.4 109.9H296.5V126.2L296.1 133.1L295.4 126.2Z" fill="url(#cl)"/>
<path d="M296 110.1H297.1V125.9L296.9 132.7L296 125.9Z" fill="url(#cg)"/>
<path d="M183.6 200 L185.4 200 L184.5 209.6Z" fill="#097"/>
<path d="M280.7 112.5L282.3 112.5L281.5 107Z" fill="#ce4"/>
<path d="M282.4 112.5L284 112.5L283.2 108.5Z" fill="#ad4"/>
<path d="M295.4 113L297 113L296.2 109.8Z" fill="#7d5"/>
<path d="M297.2 114L298.8 114L298 111Z" fill="#3c6"/>
<path d="M275.2 112L276.8 112L276 109.5Z" fill="#4d5"/>
<path d="M288.2 112L289.8 112L289 109.8Z" fill="#4d5"/>
<path d="M114.2 161L131.7 169.8M116.8 159.7L134.3 168.3M119.4 158.4L136.9 166.9M122 157.1L139.5 165.5M124.5 155.7L142.1 164M127.1 154.4L144.6 162.6M129.7 153.1L147.2 161.1M132.3 151.8L149.8 159.7M134.8 150.5L152.4 158.2M137.4 149.1L154.9 156.8M140 147.8L157.5 155.4M142.6 146.5L160.1 153.9M145.1 145.2L162.7 152.5M147.7 143.8L165.3 151M150.3 142.5L167.8 149.6M152.8 141.2L170.4 148.2M155.4 139.9L173 146.7M158 138.5L175.6 145.3M160.6 137.2L178.1 143.8M163.1 135.9L180.7 142.4M165.7 134.6L183.3 141M168.3 133.3L185.9 139.5M170.9 131.9L188.5 138.1" stroke="#003a1a" stroke-width="0.35" opacity="0.55" fill="none" shape-rendering="auto"/>
<g stroke="#222" stroke-width="0.8" fill="none">
<path d="M39.6 78.5 L52.3 166.2 L184.4 232 L292 157.5"/>
<path d="M52 167 l-1.4 0.2 M51 159.6 l-1.4 0.2 M49.9 152.2 l-1.4 0.2 M48.9 144.9 l-1.4 0.2 M47.9 137.5 l-2.6 0.3 M46.8 130.1 l-1.4 0.2 M45.8 122.8 l-1.4 0.2 M44.8 115.4 l-1.4 0.2 M43.7 108 l-1.4 0.2 M42.7 100.6 l-2.6 0.3 M41.7 93.2 l-1.4 0.2 M40.6 85.9 l-1.4 0.2 M39.6 78.5 l-1.4 0.2" stroke-width="0.6"/>
<path d="M53.4 166.7l-1 3.2M58.9 169.5l-0.5 1.6M64.7 172.4l-0.5 1.6M70.6 175.3l-0.5 1.6M76.8 178.4l-0.5 1.6M83.2 181.6l-1 3.2M89.9 184.9l-0.5 1.6M96.8 188.4l-0.5 1.6M104 192l-0.5 1.6M111.6 195.7l-0.5 1.6M119.4 199.6l-1 3.2M127.6 203.7l-0.5 1.6M136.2 208l-0.5 1.6M145.1 212.4l-0.5 1.6M154.5 217.1l-0.5 1.6M164.3 222l-1 3.2M174.6 227.1l-0.5 1.6" stroke-width="0.5"/>
<path d="M185.6 231.2l-0.5 -1.1M187.5 229.9l-0.5 -1.1M189.3 228.6l-1.6 -3.2M191.2 227.3l-0.5 -1.1M193 226l-0.5 -1.1M194.9 224.8l-0.5 -1.1M196.7 223.5l-0.5 -1.1M198.6 222.2l-1 -2M200.4 220.9l-0.5 -1.1M202.2 219.6l-0.5 -1.1M204.1 218.4l-0.5 -1.1M206 217.1l-0.5 -1.1M207.8 215.8l-1.6 -3.2M209.7 214.5l-0.5 -1.1M211.5 213.2l-0.5 -1.1M213.4 212l-0.5 -1.1M215.2 210.7l-0.5 -1.1M217.1 209.4l-1 -2M218.9 208.1l-0.5 -1.1M220.8 206.8l-0.5 -1.1M222.6 205.6l-0.5 -1.1M224.5 204.3l-0.5 -1.1M226.3 203l-1.6 -3.2M228.2 201.7l-0.5 -1.1M230 200.4l-0.5 -1.1M231.9 199.1l-0.5 -1.1M233.7 197.9l-0.5 -1.1M235.6 196.6l-1 -2M237.4 195.3l-0.5 -1.1M239.2 194l-0.5 -1.1M241.1 192.7l-0.5 -1.1M243 191.5l-0.5 -1.1M244.8 190.2l-1.6 -3.2M246.7 188.9l-0.5 -1.1M248.5 187.6l-0.5 -1.1M250.4 186.3l-0.5 -1.1M252.2 185.1l-0.5 -1.1M254.1 183.8l-1 -2M255.9 182.5l-0.5 -1.1M257.8 181.2l-0.5 -1.1M259.6 179.9l-0.5 -1.1M261.5 178.7l-0.5 -1.1M263.3 177.4l-1.6 -3.2M265.2 176.1l-0.5 -1.1M267 174.8l-0.5 -1.1M268.9 173.5l-0.5 -1.1M270.7 172.2l-0.5 -1.1M272.6 171l-1 -2M274.4 169.7l-0.5 -1.1M276.2 168.4l-0.5 -1.1M278.1 167.1l-0.5 -1.1M280 165.8l-0.5 -1.1M281.8 164.6l-1.6 -3.2M283.7 163.3l-0.5 -1.1M285.5 162l-0.5 -1.1M287.4 160.7l-0.5 -1.1M289.2 159.4l-0.5 -1.1M291.1 158.2l-1 -2" stroke-width="0.45"/>
</g>
<text x="47.4" y="74.2" font-size="12.6" text-anchor="start" font-weight="bold" fill="#000" >(a)</text>
<text x="36.9" y="104.3" font-size="9.6" text-anchor="end" font-weight="normal" fill="#000" >0.05</text>
<text x="36.9" y="139.8" font-size="9.6" text-anchor="end" font-weight="normal" fill="#000" >0.00</text>
<text transform="translate(13.6 136.2) rotate(-90)" font-size="11.2" text-anchor="middle" fill="#111">Absorbance</text>
<text x="46" y="178.7" font-size="9.8" text-anchor="middle" font-weight="normal" fill="#000" stroke="#000" stroke-width="0.2">4000</text>
<text x="75.8" y="194.4" font-size="9.8" text-anchor="middle" font-weight="normal" fill="#000" stroke="#000" stroke-width="0.2">3000</text>
<text x="112.3" y="212.9" font-size="9.8" text-anchor="middle" font-weight="normal" fill="#000" stroke="#000" stroke-width="0.2">2000</text>
<text x="151.4" y="230.9" font-size="9.8" text-anchor="middle" font-weight="normal" fill="#000" stroke="#000" stroke-width="0.2">1000</text>
<text x="213.6" y="229.4" font-size="9.8" text-anchor="middle" font-weight="normal" fill="#000" stroke="#000" stroke-width="0.2">10.0</text>
<text x="235.7" y="217.3" font-size="9.8" text-anchor="middle" font-weight="normal" fill="#000" stroke="#000" stroke-width="0.2">20.0</text>
<text x="254.6" y="202.1" font-size="9.8" text-anchor="middle" font-weight="normal" fill="#000" stroke="#000" stroke-width="0.2">30.0</text>
<text x="272.1" y="189.9" font-size="9.8" text-anchor="middle" font-weight="normal" fill="#000" stroke="#000" stroke-width="0.2">40.0</text>
<text x="288.8" y="176.7" font-size="9.8" text-anchor="middle" font-weight="normal" fill="#000" stroke="#000" stroke-width="0.2">50.0</text>
<text transform="translate(83.2 221.6) rotate(27.3)" font-size="11.5" text-anchor="middle" fill="#000">Wavenumber/cm<tspan font-size="8" dy="-2.2" font-style="italic">&#8722;1</tspan></text>
<text transform="translate(262.7 221.6) rotate(-35.5)" font-size="11.8" text-anchor="middle" fill="#000">Time/min</text>
<g id="panels">
<path d="M337.3 32.5 L337.8 32.5 L338.2 32.5 L338.6 32.1 L339 32.5 L339.4 33.1 L339.7 37.6 L340.1 38.6 L340.5 37.4 L340.8 30.7 L341.2 40.3 L341.5 37.7 L341.9 34.7 L342.3 32.4 L342.6 34.3 L343 42.4 L343.3 29.5 L343.7 48.6 L344.1 34.8 L344.4 32.6 L344.8 42.9 L345.1 35.1 L345.5 27.3 L345.9 24.6 L346.2 36.8 L346.6 46.7 L346.9 37.8 L347.3 34 L347.7 32.9 L348 29.5 L348.4 44.6 L348.7 46.4 L349.1 35.5 L349.5 34 L349.8 35.5 L350.2 34.7 L350.5 37.3 L350.9 35.7 L351.3 45.1 L351.6 37.3 L352 33.7 L352.3 29.4 L352.7 41.9 L353.1 38.6 L353.4 44.1 L353.8 39.4 L354.1 31.1 L354.5 40.7 L354.9 36 L355.2 35.8 L355.6 39.9 L355.9 31.3 L356.3 32.9 L356.7 38 L357 39.5 L357.4 33.2 L357.7 38.7 L358.1 30 L358.5 34.5 L358.8 34.2 L359.2 32.5 L359.5 34.5 L359.9 34.5 L360.3 29.9 L360.6 38 L361 35.3 L361.3 35.5 L361.7 29.3 L362.1 35.2 L362.4 35.7 L362.8 37.2 L363.1 32.7 L363.5 35.1 L363.9 30.5 L364.2 33.7 L364.6 33 L364.9 33.8 L365.3 31.4 L365.7 32.6 L366 34.2 L366.4 32.5 L366.7 32.5 L367.1 32.7 L367.5 32.5 L367.8 32.5 L368.3 32.5 L368.7 32.5 L369.2 32.5 L369.6 32.5 L370.1 32.5 L370.5 32.5 L371 32.5 L371.4 32.5 L371.9 32.5 L372.3 32.5 L372.8 32.5 L373.2 32.5 L373.7 32.5 L374.1 32.5 L374.6 32.5 L375 32.5 L375.5 32.5 L375.9 32.5 L376.4 32.5 L376.8 32.5 L377.3 32.5 L377.7 32.5 L378.2 32.5 L378.6 32.5 L379.1 32.5 L379.5 32.5 L380 32.5 L380.4 32.5 L380.9 32.5 L381.3 32.5 L381.8 32.5 L382.2 32.5 L382.7 32.5 L383.1 32.5 L383.6 32.5 L384 32.5 L384.5 32.5 L384.9 32.5 L385.4 32.5 L385.8 32.5 L386.3 32.5 L386.7 32.5 L387.2 32.5 L387.6 32.5 L388.1 32.5 L388.5 32.5 L389 32.5 L389.4 32.5 L389.9 32.5 L390.3 32.5 L390.8 32.5 L391.2 32.5 L391.7 32.5 L392.1 32.5 L392.6 32.5 L393 32.5 L393.5 32.5 L393.9 32.5 L394.4 32.5 L394.8 32.5 L395.3 32.5 L395.7 32.5 L396.2 32.5 L396.6 32.5 L397.1 32.5 L397.5 32.5 L398 32.5 L398.4 32.5 L398.9 32.5 L399.3 32.5 L399.8 32.5 L400.2 32.5 L400.7 32.5 L401.1 32.5 L401.6 32.5 L402 32.5 L402.5 32.5 L402.9 32.5 L403.4 32.5 L403.8 32.5 L404.3 32.5 L404.7 32.5 L405.2 32.5 L405.6 32.5 L406.1 32.5 L406.5 32.5 L407 32.5 L407.4 32.5 L407.9 32.5 L408.3 32.5 L408.8 32.5 L409.2 32.5 L409.7 32.5 L410.1 32.5 L410.6 32.5 L411 32.5 L411.5 32.5 L411.9 32.5 L412.4 32.5 L412.8 32.5 L413.3 32.5 L413.7 32.5 L414.2 32.5 L414.6 32.5 L415.1 32.5 L415.5 32.5 L416 32.5 L416.4 32.5 L416.9 32.5 L417.3 32.5 L417.8 32.5 L418.2 32.5 L418.7 32.5 L419.1 32.5 L419.6 32.5 L420 32.5 L420.5 32.5 L420.9 32.5 L421.4 32.5 L421.8 32.6 L422.3 32.7 L422.7 33 L423.2 33.5 L423.6 33.9 L424.1 34.1 L424.5 33.8 L425 33.3 L425.4 32.9 L425.9 32.6 L426.3 32.5 L426.8 32.5 L427.2 32.5 L427.7 32.5 L428.1 32.5 L428.6 32.5 L429 32.5 L429.5 32.5 L429.9 32.5 L430.4 32.5 L430.8 32.5 L431.3 32.5 L431.7 32.5 L432.2 32.5 L432.6 32.5 L433.1 32.5 L433.5 32.5 L434 32.5 L434.4 32.5 L434.9 32.5 L435.3 32.5 L435.8 32.5 L436.2 32.5 L436.7 32.5 L437.1 32.5 L437.6 32.5 L438 32.5 L438.5 32.5 L438.9 32.5 L439.4 32.5 L439.8 32.5 L440.3 32.5 L440.7 32.7 L441.1 32.8 L441.4 32.6 L441.8 32.3 L442.1 32.8 L442.5 32.8 L442.9 32.8 L443.2 33.3 L443.6 31.9 L443.9 33.3 L444.3 33.8 L444.7 32.8 L445 33.2 L445.4 32.8 L445.7 33.6 L446.1 33.6 L446.5 33.2 L446.8 32.9 L447.2 33.2 L447.5 34.4 L447.9 33.2 L448.3 33 L448.6 34.9 L449 32.3 L449.3 33.1 L449.7 32.5 L450.1 32.9 L450.4 34.7 L450.8 34.1 L451.1 37.7 L451.5 34.2 L451.9 31.2 L452.2 36 L452.6 34.9 L452.9 36.1 L453.3 32.2 L453.7 34 L454 40.3 L454.4 43.3 L454.7 42.5 L455.1 47.6 L455.5 28.8 L455.8 38.3 L456.2 32.4 L456.5 36.4 L456.9 33.6 L457.3 26.4 L457.6 47.7 L458 44.1 L458.3 36.2 L458.7 29.5 L459.1 36.8 L459.4 42.6 L459.8 39.7 L460.1 34.9 L460.5 35.5 L460.9 34.3 L461.2 34.3 L461.6 34.5 L462 31 L462.3 34.7 L462.7 34.5 L463 33.2 L463.4 34.6 L463.8 33 L464.1 37.5 L464.5 37.1 L464.8 40.2 L465.2 36 L465.6 42.6 L465.9 33.6 L466.3 37.5 L466.6 47.2 L467 29 L467.4 37.2 L467.7 42.4 L468.1 34.5 L468.4 40.2 L468.8 32.9 L469.2 34.2 L469.5 37.7 L469.9 33.8 L470.2 38.8 L470.6 34.1 L471 34.9 L471.3 35.9 L471.7 34 L472 31.9 L472.4 32.5 L472.8 35.6 L473.1 33 L473.5 33.6 L473.8 32.6 L474.2 35.6 L474.6 33 L474.9 35.1 L475.3 34.9 L475.6 30.9 L476 32.7 L476.4 32.9 L476.7 31.9 L477.1 32.5 L477.4 32.4 L477.8 31.2 L478.2 31.7 L478.5 31.6 L478.9 31.3 L479.2 31.7 L479.6 31.5 L480 31.6 L480.3 31.4 L480.7 31.4 L481.1 31.4 L481.6 31.3 L482 31.3 L482.5 31.3 L482.9 31.2 L483.4 31.2 L483.8 31.2 L484.3 31.2 L484.7 31.1 L485.2 31.1 L485.6 31.1 L486.1 31 L486.5 31 L487 31 L487.4 30.9 L487.9 30.9 L488.3 30.9 L488.8 30.9 L489.2 30.8 L489.7 30.8 L490.1 30.8 L490.6 30.8 L491 30.7 L491.5 30.7 L491.9 30.7 L492.4 30.7 L492.8 30.7 L493.3 30.6 L493.7 30.6 L494.2 30.6 L494.6 30.6 L495.1 30.6 L495.5 30.6 L496 30.6 L496.4 30.5 L496.9 30.5 L497.3 30.5 L497.8 30.5 L498.2 30.5 L498.7 30.5 L499.1 30.5 L499.6 30.5 L500 30.5 L500.5 30.5 L500.9 30.5 L501.4 30.5 L501.8 30.5 L502.3 30.5 L502.7 30.5 L503.2 30.5 L503.6 30.5 L504.1 30.6 L504.5 30.6 L505 30.6 L505.4 30.6 L505.9 30.6 L506.3 30.6 L506.8 30.6 L507.2 30.7 L507.7 30.7 L508 30.7 L508.4 30.7 L508.8 30.9 L509.1 30.7 L509.5 30.8 L509.8 31 L510.2 31.6 L510.6 30.5 L510.9 31.6 L511.3 31.4 L511.6 31.3 L512 30.6 L512.4 30.4 L512.7 29.2 L513.1 29.4 L513.4 29 L513.8 32.2 L514.2 29.7 L514.5 29.1 L514.9 28.5 L515.2 33.3 L515.6 33.7 L516 32.4 L516.3 29.5 L516.7 29.1 L517 29.4 L517.4 30.7 L517.8 27.8 L518.1 30.4 L518.5 28.4 L518.8 35.6 L519.2 35.8 L519.6 30.9 L519.9 27 L520.3 35.7 L520.6 27.2 L521 27.4 L521.4 22.1 L521.7 27 L522.1 28 L522.4 28.1 L522.8 22.9 L523.2 27.3 L523.5 18.5 L523.9 22.3 L524.2 18.6" fill="none" stroke="#1a1a1a" stroke-width="0.6" stroke-linejoin="round"/>
<path d="M337.3 76.8 L337.8 76.8 L338.2 76.8 L338.6 76.3 L339 78.5 L339.4 80.5 L339.7 78.5 L340.1 78.8 L340.5 78 L340.8 76.1 L341.2 88.9 L341.5 76.7 L341.9 81.9 L342.3 81.3 L342.6 77.4 L343 80 L343.3 82.1 L343.7 80.5 L344.1 81.1 L344.4 78 L344.8 85.7 L345.1 67.1 L345.5 80.1 L345.9 80.5 L346.2 79.5 L346.6 92.9 L346.9 79.5 L347.3 80.4 L347.7 91.4 L348 83.9 L348.4 90.9 L348.7 90.8 L349.1 79.2 L349.5 71.9 L349.8 80.6 L350.2 79.9 L350.5 83.8 L350.9 89.3 L351.3 73 L351.6 82.6 L352 88 L352.3 79.7 L352.7 86.2 L353.1 78.6 L353.4 88.9 L353.8 89.3 L354.1 76.6 L354.5 75.2 L354.9 78.4 L355.2 82.5 L355.6 77.4 L355.9 77.1 L356.3 80 L356.7 85.8 L357 79.6 L357.4 77.4 L357.7 78.2 L358.1 80.1 L358.5 78 L358.8 72.8 L359.2 73.7 L359.5 76.7 L359.9 78.8 L360.3 83.6 L360.6 78.7 L361 80.7 L361.3 76.5 L361.7 77.4 L362.1 74.6 L362.4 79 L362.8 77.2 L363.1 77.1 L363.5 79.7 L363.9 79.1 L364.2 77.8 L364.6 77.4 L364.9 77.6 L365.3 77.3 L365.7 78.5 L366 76.5 L366.4 76.9 L366.7 77.7 L367.1 77.2 L367.5 76.8 L367.8 76.8 L368.3 76.8 L368.7 76.8 L369.2 76.8 L369.6 76.8 L370.1 76.8 L370.5 76.8 L371 76.8 L371.4 76.8 L371.9 76.8 L372.3 76.8 L372.8 76.8 L373.2 76.8 L373.7 76.8 L374.1 76.8 L374.6 76.8 L375 76.8 L375.5 76.8 L375.9 76.8 L376.4 76.8 L376.8 76.8 L377.3 76.8 L377.7 76.8 L378.2 76.8 L378.6 76.8 L379.1 76.8 L379.5 76.8 L380 76.8 L380.4 76.8 L380.9 76.8 L381.3 76.8 L381.8 76.8 L382.2 76.8 L382.7 76.8 L383.1 76.8 L383.6 76.8 L384 76.8 L384.5 76.8 L384.9 76.8 L385.4 76.8 L385.8 76.8 L386.3 76.8 L386.7 76.8 L387.2 76.8 L387.6 76.8 L388.1 76.8 L388.5 76.8 L389 76.8 L389.4 76.8 L389.9 76.8 L390.3 76.8 L390.8 76.8 L391.2 76.8 L391.7 76.8 L392.1 76.8 L392.6 76.8 L393 76.8 L393.5 76.8 L393.9 76.8 L394.4 76.8 L394.8 76.8 L395.3 76.8 L395.7 76.8 L396.2 76.8 L396.6 76.8 L397.1 76.8 L397.5 76.8 L398 76.8 L398.4 76.8 L398.9 76.8 L399.3 76.8 L399.8 76.8 L400.2 76.8 L400.7 76.8 L401.1 76.8 L401.6 76.8 L402 76.8 L402.5 76.8 L402.9 76.8 L403.4 76.8 L403.8 76.8 L404.3 76.8 L404.7 76.8 L405.2 76.8 L405.6 76.8 L406.1 76.8 L406.5 76.8 L407 76.8 L407.4 76.8 L407.9 76.8 L408.3 76.8 L408.8 76.8 L409.2 76.8 L409.7 76.8 L410.1 76.8 L410.6 76.8 L411 76.8 L411.5 76.8 L411.9 76.8 L412.4 76.8 L412.8 76.8 L413.3 76.8 L413.7 76.8 L414.2 76.8 L414.6 76.8 L415.1 76.8 L415.5 76.8 L416 76.8 L416.4 76.8 L416.9 76.8 L417.3 76.8 L417.8 76.8 L418.2 76.8 L418.7 76.8 L419.1 76.8 L419.6 76.8 L420 76.8 L420.5 76.8 L420.9 76.7 L421.4 76.1 L421.8 73.1 L422.3 66 L422.7 60 L423.2 62.8 L423.6 69.8 L424.1 71 L424.5 63.2 L425 51.6 L425.4 48.2 L425.9 57.1 L426.3 68.6 L426.8 74.7 L427.2 76.5 L427.7 76.8 L428.1 76.8 L428.6 76.8 L429 76.8 L429.5 76.8 L429.9 76.8 L430.4 76.8 L430.8 76.8 L431.3 76.8 L431.7 76.8 L432.2 76.8 L432.6 76.8 L433.1 76.8 L433.5 76.8 L434 76.8 L434.4 76.8 L434.9 76.8 L435.3 76.8 L435.8 76.8 L436.2 76.8 L436.7 76.8 L437.1 76.8 L437.6 76.8 L438 76.8 L438.5 76.8 L438.9 76.8 L439.4 76.8 L439.8 76.8 L440.3 76.8 L440.7 76.9 L441.1 77.1 L441.4 76.7 L441.8 76.6 L442.1 77.1 L442.5 77 L442.9 77.6 L443.2 77 L443.6 77.4 L443.9 77.6 L444.3 77.6 L444.7 77.9 L445 77.3 L445.4 76.4 L445.7 77.1 L446.1 76.1 L446.5 78.6 L446.8 78.1 L447.2 77.4 L447.5 77.9 L447.9 78.1 L448.3 76.8 L448.6 77.6 L449 77.9 L449.3 77.7 L449.7 77.5 L450.1 79 L450.4 78 L450.8 78.4 L451.1 79.2 L451.5 80.8 L451.9 79 L452.2 78.7 L452.6 78.4 L452.9 77.4 L453.3 78.1 L453.7 79.6 L454 72.6 L454.4 86.4 L454.7 78 L455.1 86.6 L455.5 79.4 L455.8 88 L456.2 85.6 L456.5 82.2 L456.9 81.8 L457.3 78.8 L457.6 91.2 L458 79 L458.3 86.5 L458.7 79.3 L459.1 86.8 L459.4 78.3 L459.8 83.4 L460.1 75.7 L460.5 84.9 L460.9 78.6 L461.2 84.2 L461.6 76.5 L462 80.2 L462.3 77.7 L462.7 78 L463 79.8 L463.4 76.1 L463.8 77.4 L464.1 74.6 L464.5 77.6 L464.8 80.6 L465.2 76.7 L465.6 79.9 L465.9 80.9 L466.3 72.6 L466.6 80.6 L467 87.6 L467.4 73.4 L467.7 72.3 L468.1 83.9 L468.4 77 L468.8 86.9 L469.2 82.5 L469.5 79.3 L469.9 74.1 L470.2 77.8 L470.6 77.4 L471 76.7 L471.3 79.3 L471.7 77.9 L472 78.3 L472.4 80 L472.8 79.6 L473.1 77.4 L473.5 80.1 L473.8 77.3 L474.2 77.3 L474.6 78.1 L474.9 77.8 L475.3 77.8 L475.6 78.2 L476 77.6 L476.4 77.1 L476.7 77.9 L477.1 77.2 L477.4 77.7 L477.8 76.9 L478.2 76.7 L478.5 76.2 L478.9 76.3 L479.2 76.4 L479.6 76.1 L480 76 L480.3 75.8 L480.7 75.5 L481.1 75.3 L481.6 75.1 L482 74.8 L482.5 74.6 L482.9 74.5 L483.4 74.4 L483.8 74.3 L484.3 74.3 L484.7 74.4 L485.2 74.5 L485.6 74.7 L486.1 74.9 L486.5 75.1 L487 75.4 L487.4 75.6 L487.9 75.8 L488.3 76 L488.8 76.2 L489.2 76.3 L489.7 76.5 L490.1 76.6 L490.6 76.6 L491 76.7 L491.5 76.7 L491.9 76.8 L492.4 76.8 L492.8 76.8 L493.3 76.8 L493.7 76.8 L494.2 76.8 L494.6 76.8 L495.1 76.8 L495.5 76.8 L496 76.8 L496.4 76.8 L496.9 76.8 L497.3 76.8 L497.8 76.8 L498.2 76.8 L498.7 76.8 L499.1 76.8 L499.6 76.8 L500 76.8 L500.5 76.8 L500.9 76.8 L501.4 76.8 L501.8 76.8 L502.3 76.8 L502.7 76.8 L503.2 76.8 L503.6 76.8 L504.1 76.8 L504.5 76.8 L505 76.8 L505.4 76.8 L505.9 76.8 L506.3 76.8 L506.8 76.8 L507.2 76.8 L507.7 76.8 L508 76.8 L508.4 76.9 L508.8 76.8 L509.1 76.8 L509.5 77.5 L509.8 79.8 L510.2 84.1 L510.6 89.2 L510.9 92.4 L511.3 91.4 L511.6 87.7 L512 85.7 L512.4 86.4 L512.7 84.9 L513.1 80.4 L513.4 76.7 L513.8 77.7 L514.2 76.3 L514.5 76.9 L514.9 76.3 L515.2 77.2 L515.6 75.4 L516 75.3 L516.3 75.1 L516.7 74.5 L517 77.2 L517.4 75.8 L517.8 74.5 L518.1 74.5 L518.5 77.1 L518.8 74.5 L519.2 72.8 L519.6 75.6 L519.9 74.5 L520.3 76.2 L520.6 70.7 L521 72.6 L521.4 74.5 L521.7 74.4 L522.1 74.6 L522.4 68.2 L522.8 69.6 L523.2 67.9 L523.5 68 L523.9 73.8 L524.2 70.3" fill="none" stroke="#1a1a1a" stroke-width="0.6" stroke-linejoin="round"/>
<path d="M337.3 127.2 L337.8 127.2 L338.2 127.2 L338.6 127.3 L339 127.7 L339.4 132.5 L339.7 127.4 L340.1 129.3 L340.5 135.2 L340.8 134.9 L341.2 140.5 L341.5 128.2 L341.9 139.9 L342.3 128.3 L342.6 115.6 L343 131.5 L343.3 138.2 L343.7 120.4 L344.1 127.5 L344.4 147.1 L344.8 117.4 L345.1 125.6 L345.5 121 L345.9 119.4 L346.2 134.5 L346.6 117.1 L346.9 128.3 L347.3 147.7 L347.7 124.3 L348 125 L348.4 127.9 L348.7 141.8 L349.1 132.9 L349.5 142.1 L349.8 121.4 L350.2 137.4 L350.5 132.6 L350.9 139.4 L351.3 132.6 L351.6 134.9 L352 132.4 L352.3 127 L352.7 128.8 L353.1 130 L353.4 127.5 L353.8 127.8 L354.1 125.1 L354.5 127.5 L354.9 135.7 L355.2 128.4 L355.6 133.9 L355.9 130.5 L356.3 136 L356.7 126.7 L357 127 L357.4 128.7 L357.7 127.6 L358.1 123.9 L358.5 124.3 L358.8 123.3 L359.2 134 L359.5 127.1 L359.9 128.7 L360.3 122.5 L360.6 126.6 L361 131.5 L361.3 131.3 L361.7 126.4 L362.1 126.4 L362.4 127.9 L362.8 126.3 L363.1 126.9 L363.5 126.4 L363.9 127.7 L364.2 127.3 L364.6 130 L364.9 127.2 L365.3 126.2 L365.7 126.9 L366 127.3 L366.4 126.1 L366.7 126.1 L367.1 126 L367.5 126 L367.8 126 L368.3 125.9 L368.7 125.9 L369.2 125.9 L369.6 125.9 L370.1 125.8 L370.5 125.8 L371 125.8 L371.4 125.8 L371.9 125.7 L372.3 125.7 L372.8 125.7 L373.2 125.7 L373.7 125.7 L374.1 125.7 L374.6 125.6 L375 125.6 L375.5 125.6 L375.9 125.6 L376.4 125.6 L376.8 125.6 L377.3 125.6 L377.7 125.6 L378.2 125.6 L378.6 125.6 L379.1 125.6 L379.5 125.6 L380 125.6 L380.4 125.6 L380.9 125.6 L381.3 125.6 L381.8 125.6 L382.2 125.5 L382.7 125.5 L383.1 125.5 L383.6 125.5 L384 125.4 L384.5 125.3 L384.9 125.2 L385.4 125 L385.8 124.9 L386.3 124.7 L386.7 124.5 L387.2 124.2 L387.6 124 L388.1 123.7 L388.5 123.4 L389 123.1 L389.4 122.8 L389.9 122.4 L390.3 122.1 L390.8 121.8 L391.2 121.5 L391.7 121.3 L392.1 121 L392.6 120.8 L393 120.7 L393.5 120.6 L393.9 120.6 L394.4 120.6 L394.8 120.6 L395.3 120.7 L395.7 120.8 L396.2 121 L396.6 121.1 L397.1 121.3 L397.5 121.5 L398 121.8 L398.4 122 L398.9 122.2 L399.3 122.4 L399.8 122.5 L400.2 122.7 L400.7 122.8 L401.1 122.9 L401.6 123 L402 123.1 L402.5 123.2 L402.9 123.3 L403.4 123.3 L403.8 123.4 L404.3 123.4 L404.7 123.4 L405.2 123.5 L405.6 123.5 L406.1 123.5 L406.5 123.5 L407 123.6 L407.4 123.6 L407.9 123.6 L408.3 123.6 L408.8 123.6 L409.2 123.7 L409.7 123.7 L410.1 123.7 L410.6 123.7 L411 123.7 L411.5 123.7 L411.9 123.7 L412.4 123.7 L412.8 123.7 L413.3 123.7 L413.7 123.7 L414.2 123.7 L414.6 123.7 L415.1 123.6 L415.5 123.6 L416 123.6 L416.4 123.6 L416.9 123.6 L417.3 123.6 L417.8 123.5 L418.2 123.5 L418.7 123.5 L419.1 123.5 L419.6 123.5 L420 123.4 L420.5 123.4 L420.9 123.2 L421.4 122.5 L421.8 121.5 L422.3 121.3 L422.7 122.1 L423.2 123 L423.6 123.3 L424.1 123.3 L424.5 123.1 L425 122.7 L425.4 121.8 L425.9 120.4 L426.3 118.5 L426.8 116.8 L427.2 115.9 L427.7 116.3 L428.1 117.8 L428.6 119.7 L429 121.3 L429.5 122.4 L429.9 122.9 L430.4 123.2 L430.8 123.2 L431.3 123.2 L431.7 123.2 L432.2 123.1 L432.6 123.1 L433.1 123 L433.5 122.9 L434 122.9 L434.4 122.8 L434.9 122.8 L435.3 122.7 L435.8 122.7 L436.2 122.7 L436.7 122.7 L437.1 122.7 L437.6 122.7 L438 122.7 L438.5 122.7 L438.9 122.7 L439.4 122.7 L439.8 122.7 L440.3 122.7 L440.7 122.9 L441.1 122.8 L441.4 123 L441.8 123.5 L442.1 123 L442.5 123.7 L442.9 123.7 L443.2 123 L443.6 123.1 L443.9 123.3 L444.3 124.8 L444.7 123.1 L445 123 L445.4 123.3 L445.7 122.5 L446.1 121.7 L446.5 122.9 L446.8 123.1 L447.2 123.8 L447.5 123.5 L447.9 121.3 L448.3 124.4 L448.6 123.4 L449 124 L449.3 125 L449.7 123 L450.1 125.9 L450.4 126.4 L450.8 127.8 L451.1 123.6 L451.5 124.5 L451.9 132.1 L452.2 128.2 L452.6 132.4 L452.9 126.8 L453.3 118.1 L453.7 135.6 L454 125.6 L454.4 126.4 L454.7 128.4 L455.1 142.4 L455.5 138.4 L455.8 115.4 L456.2 142.5 L456.5 139.6 L456.9 124.9 L457.3 140.2 L457.6 128.2 L458 124.8 L458.3 116.1 L458.7 141.3 L459.1 127.6 L459.4 138.5 L459.8 125.5 L460.1 125.1 L460.5 128.7 L460.9 127.5 L461.2 120.9 L461.6 125.2 L462 123.1 L462.3 123.4 L462.7 123.5 L463 128.2 L463.4 122.6 L463.8 122 L464.1 127 L464.5 125.3 L464.8 123.3 L465.2 123.5 L465.6 136.6 L465.9 126 L466.3 128 L466.6 127.4 L467 127.6 L467.4 118.9 L467.7 123.8 L468.1 135.5 L468.4 137.3 L468.8 127.3 L469.2 134 L469.5 116 L469.9 124.9 L470.2 122.6 L470.6 122.4 L471 125.2 L471.3 119.8 L471.7 121.9 L472 124.8 L472.4 121.7 L472.8 122.6 L473.1 122.1 L473.5 121.4 L473.8 121.4 L474.2 120.4 L474.6 122 L474.9 120.2 L475.3 118.5 L475.6 121.8 L476 122.5 L476.4 118.6 L476.7 120 L477.1 120 L477.4 120.6 L477.8 119.2 L478.2 119.1 L478.5 119.3 L478.9 119.2 L479.2 119.1 L479.6 119.1 L480 118.8 L480.3 118.7 L480.7 118.3 L481.1 117.9 L481.6 117.4 L482 116.9 L482.5 116.3 L482.9 115.7 L483.4 114.4 L483.8 111.5 L484.3 109.3 L484.7 110.9 L485.2 113.7 L485.6 115 L486.1 115.4 L486.5 115.6 L487 115.3 L487.4 115.1 L487.9 115.7 L488.3 116.9 L488.8 118.1 L489.2 118.6 L489.7 118.9 L490.1 119.1 L490.6 119.2 L491 119.2 L491.5 119.3 L491.9 119.3 L492.4 119.3 L492.8 119.3 L493.3 119.3 L493.7 119.3 L494.2 119.3 L494.6 119.2 L495.1 119.2 L495.5 119 L496 118.9 L496.4 118.7 L496.9 118.6 L497.3 118.6 L497.8 118.8 L498.2 118.9 L498.7 119.1 L499.1 119.2 L499.6 119.3 L500 119.3 L500.5 119.3 L500.9 119.2 L501.4 119.2 L501.8 119.1 L502.3 119 L502.7 118.9 L503.2 118.8 L503.6 118.7 L504.1 118.7 L504.5 118.7 L505 118.8 L505.4 118.9 L505.9 119.1 L506.3 119.2 L506.8 119.2 L507.2 119.3 L507.7 119.4 L508.1 119.5 L508.6 119.6 L509 119.7 L509.5 119.8 L509.9 119.8 L510.4 119.8 L510.8 119.7 L511.3 119.6 L511.7 119.5 L512.2 119.5 L512.6 119.4 L513.1 119.3 L513.5 119.3 L514 119.3 L514.4 119.3 L514.9 119.3 L515.2 119.5 L515.6 118.9 L516 119.3 L516.3 118.9 L516.7 120.4 L517 118.3 L517.4 121.4 L517.8 118.1 L518.1 117.5 L518.5 120.7 L518.8 119.3 L519.2 115.8 L519.6 120.6 L519.9 114.8 L520.3 122.7 L520.6 121.8 L521 123.2 L521.4 121.2 L521.7 117.1 L522.1 117.7 L522.4 117.4 L522.8 126.6 L523.2 111.1 L523.5 127.4 L523.9 108.9 L524.2 112.6" fill="none" stroke="#1a1a1a" stroke-width="0.6" stroke-linejoin="round"/>
<path d="M337.3 176.9 L337.8 176.9 L338.2 176.9 L338.6 177.4 L339 177.1 L339.4 177.1 L339.7 177.6 L340.1 178.2 L340.5 177.6 L340.8 173.2 L341.2 178.7 L341.5 177.3 L341.9 175.1 L342.3 177.2 L342.6 180.6 L343 183.2 L343.3 174.4 L343.7 177.3 L344.1 183.4 L344.4 173.4 L344.8 183.9 L345.1 188.7 L345.5 177.1 L345.9 177.1 L346.2 176.3 L346.6 179.5 L346.9 171.9 L347.3 177.1 L347.7 183.4 L348 183.4 L348.4 179.1 L348.7 178.8 L349.1 177.1 L349.5 178 L349.8 179.6 L350.2 174.3 L350.5 177.9 L350.9 184.3 L351.3 178.9 L351.6 179.1 L352 178.4 L352.3 173.4 L352.7 176.8 L353.1 175.4 L353.4 178.2 L353.8 181.5 L354.1 174.8 L354.5 175.1 L354.9 176.9 L355.2 178.2 L355.6 174.5 L355.9 176.5 L356.3 176.7 L356.7 178.3 L357 176.5 L357.4 177.4 L357.7 177.2 L358.1 177.8 L358.5 177 L358.8 176.6 L359.2 176.8 L359.5 176.4 L359.9 176.7 L360.3 178.5 L360.6 173.9 L361 174.8 L361.3 176.5 L361.7 177.9 L362.1 177.1 L362.4 176.2 L362.8 176.3 L363.1 177.2 L363.5 176.6 L363.9 176.3 L364.2 176 L364.6 176.1 L364.9 176.3 L365.3 176 L365.7 176.7 L366 176.7 L366.4 175.7 L366.7 176.1 L367.1 175.9 L367.5 175.7 L367.8 175.7 L368.3 175.6 L368.7 175.6 L369.2 175.6 L369.6 175.6 L370.1 175.5 L370.5 175.5 L371 175.5 L371.4 175.5 L371.9 175.4 L372.3 175.4 L372.8 175.4 L373.2 175.4 L373.7 175.4 L374.1 175.4 L374.6 175.3 L375 175.3 L375.5 175.3 L375.9 175.3 L376.4 175.3 L376.8 175.3 L377.3 175.3 L377.7 175.3 L378.2 175.3 L378.6 175.3 L379.1 175.3 L379.5 175.3 L380 175.3 L380.4 175.3 L380.9 175.3 L381.3 175.3 L381.8 175.3 L382.2 175.3 L382.7 175.3 L383.1 175.3 L383.6 175.3 L384 175.3 L384.5 175.3 L384.9 175.3 L385.4 175.3 L385.8 175.3 L386.3 175.2 L386.7 174.9 L387.2 174.4 L387.6 173.7 L388.1 172.6 L388.5 171.3 L389 169.8 L389.4 168.5 L389.9 167.5 L390.3 167.1 L390.8 167.3 L391.2 167.7 L391.7 168.2 L392.1 168.5 L392.6 168.5 L393 168.3 L393.5 168.1 L393.9 167.9 L394.4 168 L394.8 168.3 L395.3 168.8 L395.7 169.3 L396.2 169.8 L396.6 170.1 L397.1 170.3 L397.5 170.4 L398 170.4 L398.4 170.4 L398.9 170.5 L399.3 170.7 L399.8 171 L400.2 171.3 L400.7 171.7 L401.1 172 L401.6 172.3 L402 172.6 L402.5 172.8 L402.9 173 L403.4 173.1 L403.8 173.1 L404.3 173.2 L404.7 173.2 L405.2 173.2 L405.6 173.2 L406.1 173.2 L406.5 173.2 L407 173.2 L407.4 173.2 L407.9 173.2 L408.3 173.2 L408.8 173.2 L409.2 173.2 L409.7 173.2 L410.1 173.2 L410.6 173.2 L411 173.2 L411.5 173.2 L411.9 173.2 L412.4 173.2 L412.8 173.2 L413.3 173.2 L413.7 173.2 L414.2 173.2 L414.6 173.2 L415.1 173.2 L415.5 173.2 L416 173.2 L416.4 173.2 L416.9 173.2 L417.3 173.2 L417.8 173.2 L418.2 173.2 L418.7 173.2 L419.1 173.2 L419.6 173 L420 172.7 L420.5 172 L420.9 170.9 L421.4 170 L421.8 169.6 L422.3 170 L422.7 170.8 L423.2 171.7 L423.6 171.7 L424.1 171 L424.5 169.8 L425 168.2 L425.4 166.3 L425.9 163.3 L426.3 157.4 L426.8 148.7 L427.2 142.8 L427.7 145.5 L428.1 154.1 L428.6 161.4 L429 165.2 L429.5 166.8 L429.9 167.8 L430.4 168.5 L430.8 169 L431.3 169.4 L431.7 169.7 L432.2 169.9 L432.6 170 L433.1 170.2 L433.5 170.3 L434 170.5 L434.4 170.6 L434.9 170.8 L435.3 170.9 L435.8 171.1 L436.2 171.3 L436.7 171.4 L437.1 171.6 L437.6 171.8 L438 172 L438.5 172.1 L438.9 172.3 L439.4 172.5 L439.8 172.6 L440.3 172.8 L440.7 173 L441.1 173.3 L441.4 173.3 L441.8 173.4 L442.1 173.5 L442.5 173.6 L442.9 173.9 L443.2 173.8 L443.6 174.1 L443.9 174.3 L444.3 174.3 L444.7 174.6 L445 174.8 L445.4 174.4 L445.7 175.4 L446.1 174.4 L446.5 174.6 L446.8 174.7 L447.2 174.7 L447.5 174.5 L447.9 174.6 L448.3 174.6 L448.6 174.7 L449 175.3 L449.3 175.7 L449.7 175.8 L450.1 176 L450.4 174.9 L450.8 174.5 L451.1 175 L451.5 175.4 L451.9 175.1 L452.2 174.4 L452.6 178.8 L452.9 174.7 L453.3 176.2 L453.7 175.6 L454 176.1 L454.4 177.3 L454.7 182.1 L455.1 175.9 L455.5 176.1 L455.8 176.7 L456.2 175.6 L456.5 171.7 L456.9 177.7 L457.3 184 L457.6 172.1 L458 181.5 L458.3 176.7 L458.7 175.6 L459.1 171.3 L459.4 176.1 L459.8 174.4 L460.1 176.2 L460.5 174.2 L460.9 171 L461.2 178.7 L461.6 174.7 L462 174.9 L462.3 174.3 L462.7 174.3 L463 174.1 L463.4 176.3 L463.8 172.5 L464.1 175.3 L464.5 177.3 L464.8 174.2 L465.2 172.1 L465.6 174.1 L465.9 177.2 L466.3 169.6 L466.6 170.8 L467 172.7 L467.4 172.5 L467.7 180.1 L468.1 174.7 L468.4 168 L468.8 170.2 L469.2 173.7 L469.5 172.2 L469.9 175 L470.2 173.1 L470.6 172.3 L471 171.1 L471.3 170.9 L471.7 170.8 L472 172.5 L472.4 172.4 L472.8 171.4 L473.1 170.9 L473.5 170.8 L473.8 172 L474.2 170.5 L474.6 170.2 L474.9 170.5 L475.3 170.6 L475.6 170.3 L476 170.7 L476.4 169.7 L476.7 169.8 L477.1 170.1 L477.4 169.6 L477.8 169.4 L478.2 169.4 L478.5 169.3 L478.9 169 L479.2 169 L479.6 168.3 L480 166.9 L480.3 164.8 L480.7 163.7 L481.1 164.8 L481.6 167.1 L482 168.3 L482.5 168.4 L482.9 167.5 L483.4 165.2 L483.8 162.2 L484.3 161.8 L484.7 164.4 L485.2 167.1 L485.6 167.9 L486.1 166.8 L486.5 163.6 L487 159.9 L487.4 159 L487.9 162 L488.3 165.9 L488.8 168.2 L489.2 169 L489.7 169.2 L490.1 169.3 L490.6 169.3 L491 169.4 L491.5 169.4 L491.9 169.4 L492.4 169.4 L492.8 169.5 L493.3 169.5 L493.7 169.5 L494.2 169.5 L494.6 169.5 L495.1 169.4 L495.5 169.2 L496 168.7 L496.4 168.3 L496.9 168 L497.3 168.1 L497.8 168.6 L498.2 169.1 L498.7 169.5 L499.1 169.7 L499.6 169.8 L500 169.9 L500.5 169.9 L500.9 169.8 L501.4 169.6 L501.8 169.3 L502.3 169.1 L502.7 169.1 L503.2 169.4 L503.6 169.8 L504.1 170.2 L504.5 170.5 L505 170.7 L505.4 170.8 L505.9 170.9 L506.3 171 L506.8 171 L507.2 171.1 L507.7 171.2 L508 171.2 L508.4 171.3 L508.8 171.4 L509.1 171.4 L509.5 171.3 L509.8 171 L510.2 170.9 L510.6 171.1 L510.9 170.6 L511.3 170.9 L511.6 171 L512 171.7 L512.4 171.8 L512.7 171 L513.1 170.5 L513.4 171 L513.8 171.3 L514.2 171.7 L514.5 172.3 L514.9 172.6 L515.2 170.1 L515.6 172.6 L516 172.6 L516.3 172.8 L516.7 171.8 L517 170.6 L517.4 173 L517.8 172.8 L518.1 172.3 L518.5 173.5 L518.8 170.7 L519.2 169.4 L519.6 171.8 L519.9 173.1 L520.3 169.6 L520.6 172.7 L521 173.7 L521.4 169.2 L521.7 171.4 L522.1 171.7 L522.4 169.9 L522.8 167.8 L523.2 167.7 L523.5 171.2 L523.9 171.2 L524.2 168.1" fill="none" stroke="#1a1a1a" stroke-width="0.6" stroke-linejoin="round"/>
<path d="M337.3 211.9 L337.8 211.9 L338.2 211.9 L338.6 211.8 L339.1 211.8 L339.5 211.8 L340 211.7 L340.4 211.7 L340.9 211.6 L341.3 211.6 L341.8 211.5 L342.2 211.4 L342.7 211.4 L343.1 211.3 L343.6 211.3 L344 211.3 L344.5 211.3 L344.9 211.3 L345.4 211.4 L345.8 211.5 L346.3 211.6 L346.7 211.7 L347.2 211.9 L347.6 212 L348.1 212.1 L348.5 212.2 L349 212.3 L349.4 212.2 L349.9 211.9 L350.3 211.6 L350.8 211.1 L351.2 210.6 L351.7 210.2 L352.1 210.2 L352.6 210.4 L353 210.8 L353.5 211.2 L353.9 211.6 L354.4 211.9 L354.8 211.9 L355.3 211.8 L355.7 211.6 L356.2 211.3 L356.6 211 L357.1 210.7 L357.5 210.4 L358 210.1 L358.4 210 L358.9 210.1 L359.3 210.2 L359.8 210.4 L360.2 210.7 L360.7 211 L361.1 211.3 L361.6 211.5 L362 211.6 L362.5 211.8 L362.9 211.8 L363.4 211.9 L363.8 211.9 L364.3 211.9 L364.7 211.9 L365.2 211.9 L365.6 211.9 L366.1 211.9 L366.5 211.9 L367 211.9 L367.4 211.9 L367.9 211.9 L368.3 211.9 L368.8 211.9 L369.2 211.9 L369.7 211.9 L370.1 211.9 L370.6 211.9 L371 211.9 L371.5 211.9 L371.9 211.9 L372.4 211.9 L372.8 211.9 L373.3 211.9 L373.7 211.9 L374.2 211.9 L374.6 211.9 L375.1 211.9 L375.5 211.9 L376 211.9 L376.4 211.9 L376.9 211.9 L377.3 211.9 L377.8 211.9 L378.2 211.9 L378.7 211.9 L379.1 211.9 L379.6 211.9 L380 211.9 L380.5 211.9 L380.9 211.9 L381.4 211.9 L381.8 211.9 L382.3 211.9 L382.7 211.9 L383.2 211.9 L383.6 211.9 L384.1 211.9 L384.5 211.9 L385 211.9 L385.4 211.9 L385.9 211.9 L386.3 211.9 L386.8 211.9 L387.2 211.9 L387.7 211.9 L388.1 211.9 L388.6 211.9 L389 211.9 L389.5 211.9 L389.9 211.9 L390.4 211.9 L390.8 211.9 L391.3 211.9 L391.7 211.9 L392.2 211.9 L392.6 211.9 L393.1 211.9 L393.5 211.9 L394 211.9 L394.4 211.9 L394.9 211.9 L395.3 211.9 L395.8 211.9 L396.2 211.9 L396.7 211.9 L397.1 211.9 L397.6 211.9 L398 211.9 L398.5 211.9 L398.9 211.9 L399.4 211.9 L399.8 211.9 L400.3 211.9 L400.7 211.9 L401.2 211.9 L401.6 211.9 L402.1 211.9 L402.5 211.9 L403 211.9 L403.4 211.9 L403.9 211.9 L404.3 211.9 L404.8 211.9 L405.2 211.9 L405.7 211.9 L406.1 211.9 L406.6 211.9 L407 211.9 L407.5 211.9 L407.9 211.9 L408.4 211.9 L408.8 211.9 L409.3 211.9 L409.7 211.9 L410.2 211.9 L410.6 211.9 L411.1 211.9 L411.5 211.9 L412 211.9 L412.4 211.9 L412.9 211.9 L413.3 211.9 L413.8 211.9 L414.2 211.9 L414.7 211.9 L415.1 211.9 L415.6 211.9 L416 211.9 L416.5 211.9 L416.9 211.9 L417.4 211.9 L417.8 211.9 L418.3 211.9 L418.7 211.9 L419.2 211.9 L419.6 211.9 L420.1 211.8 L420.5 211.8 L421 211.5 L421.4 210.3 L421.9 206.5 L422.3 201.5 L422.8 201.1 L423.2 205.6 L423.7 209.2 L424.1 208.7 L424.6 203.1 L425 195.5 L425.5 194.8 L425.9 201.9 L426.4 208.1 L426.8 210.2 L427.3 210.5 L427.7 210.5 L428.2 210.5 L428.6 210.4 L429.1 210.3 L429.5 210.1 L430 209.6 L430.4 209.1 L430.9 208.5 L431.3 208.2 L431.8 208.2 L432.2 208.6 L432.7 209 L433.1 209.3 L433.6 209.3 L434 208.9 L434.5 208.4 L434.9 208 L435.4 207.8 L435.8 208 L436.3 208.5 L436.7 209 L437.2 209.3 L437.6 209.5 L438.1 209.6 L438.5 209.6 L439 209.5 L439.4 209.5 L439.9 209.4 L440.3 209.4 L440.8 209.3 L441.2 209.3 L441.7 209.3 L442.1 209.2 L442.6 209.2 L443 209.2 L443.5 209.1 L443.9 209.1 L444.4 209.1 L444.8 209.1 L445.3 209.1 L445.7 209.1 L446.2 209.1 L446.6 209.1 L447.1 209.3 L447.5 209.2 L448 209.3 L448.4 209.3 L448.9 209.4 L449.3 209.5 L449.8 209.6 L450.2 209.4 L450.7 209.5 L451.1 209.7 L451.6 209.7 L452 210.1 L452.5 209.8 L452.9 209.9 L453.4 209.9 L453.8 210.7 L454.3 210.2 L454.7 210.2 L455.2 210.3 L455.6 210.4 L456.1 210.5 L456.5 210.7 L457 210.8 L457.4 210.8 L457.9 210.7 L458.3 210.4 L458.8 210.5 L459.2 210.6 L459.7 211.2 L460.1 211 L460.6 210.7 L461 210.6 L461.5 210.3 L461.9 210.7 L462.4 210.7 L462.8 210.8 L463.3 210.7 L463.7 210.6 L464.2 210.7 L464.6 210.8 L465.1 210.9 L465.5 210.8 L466 210.7 L466.4 210.9 L466.9 211.2 L467.3 211.1 L467.8 210.7 L468.2 211 L468.7 210.6 L469.1 210.7 L469.6 211.1 L470 211 L470.5 210.7 L470.9 210.8 L471.4 210.9 L471.8 210.7 L472.3 210.5 L472.7 210.6 L473.2 210.6 L473.6 210.7 L474.1 210.7 L474.5 210.8 L475 210.7 L475.4 210.7 L475.9 210.6 L476.3 210.7 L476.8 210.6 L477.2 210.7 L477.7 210.7 L478.1 210.6 L478.6 210.6 L479 210.6 L479.5 210.6 L479.9 210.6 L480.4 210.6 L480.8 210.6 L481.3 210.6 L481.7 210.6 L482.2 210.6 L482.6 210.6 L483.1 210.6 L483.5 210.6 L484 210.6 L484.4 210.6 L484.9 210.6 L485.3 210.6 L485.8 210.6 L486.2 210.6 L486.7 210.6 L487.1 210.6 L487.6 210.6 L488 210.6 L488.5 210.6 L488.9 210.6 L489.4 210.6 L489.8 210.6 L490.3 210.6 L490.7 210.6 L491.2 210.6 L491.6 210.6 L492.1 210.6 L492.5 210.6 L493 210.6 L493.4 210.6 L493.9 210.6 L494.3 210.6 L494.8 210.6 L495.2 210.6 L495.7 210.6 L496.1 210.6 L496.6 210.6 L497 210.6 L497.5 210.6 L497.9 210.6 L498.4 210.6 L498.8 210.6 L499.3 210.6 L499.7 210.6 L500.2 210.6 L500.6 210.6 L501.1 210.6 L501.5 210.6 L502 210.6 L502.4 210.6 L502.9 210.6 L503.3 210.6 L503.8 210.6 L504.2 210.6 L504.7 210.6 L505.1 210.6 L505.6 210.6 L506 210.6 L506.5 210.6 L506.9 210.6 L507.4 210.6 L507.8 210.6 L508.3 210.6 L508.7 210.6 L509.2 210.7 L509.6 211.4 L510.1 213.3 L510.5 216.4 L511 218.1 L511.4 216.8 L511.9 214.5 L512.3 212.9 L512.8 211.3 L513.2 209.6 L513.7 208.8 L514.1 208.5 L514.6 208.4 L515 208.3 L515.5 208.3 L515.9 208.2 L516.4 208.1 L516.8 208 L517.3 207.9 L517.7 207.8 L518.2 207.6 L518.6 207.4 L519.1 207.2 L519.5 207 L520 206.7 L520.4 206.4 L520.9 206.1 L521.3 205.8 L521.8 205.4 L522.2 205 L522.7 204.6 L523.1 204.1 L523.6 203.6 L524 203.1 L524.5 202.6" fill="none" stroke="#1a1a1a" stroke-width="0.6" stroke-linejoin="round"/>
<path d="M337.3 246.3 L337.8 246.3 L338.2 246.3 L338.6 246.3 L339.1 246.3 L339.5 246.3 L340 246.3 L340.4 246.3 L340.9 246.3 L341.3 246.3 L341.8 246.3 L342.2 246.3 L342.7 246.3 L343.1 246.3 L343.6 246.3 L344 246.3 L344.5 246.3 L344.9 246.3 L345.4 246.3 L345.8 246.3 L346.3 246.3 L346.7 246.3 L347.2 246.3 L347.6 246.3 L348.1 246.3 L348.5 246.3 L349 246.3 L349.4 246.3 L349.9 246.3 L350.3 246.3 L350.8 246.3 L351.2 246.3 L351.7 246.3 L352.1 246.3 L352.6 246.3 L353 246.3 L353.5 246.3 L353.9 246.3 L354.4 246.3 L354.8 246.3 L355.3 246.3 L355.7 246.3 L356.2 246.3 L356.6 246.3 L357.1 246.3 L357.5 246.3 L358 246.3 L358.4 246.3 L358.9 246.3 L359.3 246.3 L359.8 246.3 L360.2 246.3 L360.7 246.3 L361.1 246.3 L361.6 246.3 L362 246.3 L362.5 246.3 L362.9 246.3 L363.4 246.3 L363.8 246.3 L364.3 246.3 L364.7 246.3 L365.2 246.3 L365.6 246.3 L366.1 246.3 L366.5 246.3 L367 246.3 L367.4 246.3 L367.9 246.3 L368.3 246.3 L368.8 246.3 L369.2 246.3 L369.7 246.3 L370.1 246.3 L370.6 246.3 L371 246.3 L371.5 246.3 L371.9 246.3 L372.4 246.3 L372.8 246.3 L373.3 246.3 L373.7 246.3 L374.2 246.3 L374.6 246.3 L375.1 246.3 L375.5 246.3 L376 246.3 L376.4 246.3 L376.9 246.3 L377.3 246.3 L377.8 246.3 L378.2 246.3 L378.7 246.3 L379.1 246.3 L379.6 246.3 L380 246.3 L380.5 246.3 L380.9 246.3 L381.4 246.3 L381.8 246.3 L382.3 246.3 L382.7 246.3 L383.2 246.3 L383.6 246.3 L384.1 246.3 L384.5 246.3 L385 246.3 L385.4 246.3 L385.9 246.3 L386.3 246.3 L386.8 246.3 L387.2 246.2 L387.7 246 L388.1 245.6 L388.6 244.9 L389 244.3 L389.5 244.1 L389.9 244.3 L390.4 244.8 L390.8 245.2 L391.3 245.3 L391.7 245.2 L392.2 245.3 L392.6 245.5 L393.1 245.9 L393.5 246.1 L394 246.2 L394.4 246.3 L394.9 246.3 L395.3 246.3 L395.8 246.3 L396.2 246.3 L396.7 246.3 L397.1 246.3 L397.6 246.3 L398 246.3 L398.5 246.3 L398.9 246.3 L399.4 246.3 L399.8 246.3 L400.3 246.3 L400.7 246.3 L401.2 246.3 L401.6 246.3 L402.1 246.3 L402.5 246.3 L403 246.3 L403.4 246.3 L403.9 246.3 L404.3 246.3 L404.8 246.3 L405.2 246.3 L405.7 246.3 L406.1 246.3 L406.6 246.3 L407 246.3 L407.5 246.3 L407.9 246.3 L408.4 246.3 L408.8 246.3 L409.3 246.3 L409.7 246.3 L410.2 246.3 L410.6 246.3 L411.1 246.3 L411.5 246.3 L412 246.3 L412.4 246.3 L412.9 246.3 L413.3 246.3 L413.8 246.3 L414.2 246.3 L414.7 246.3 L415.1 246.3 L415.6 246.3 L416 246.3 L416.5 246.3 L416.9 246.3 L417.4 246.3 L417.8 246.3 L418.3 246.3 L418.7 246.2 L419.2 246 L419.6 245.8 L420.1 245.5 L420.5 245.2 L421 245.1 L421.4 245.2 L421.9 245.5 L422.3 245.8 L422.8 246 L423.2 246.2 L423.7 246.2 L424.1 246.2 L424.6 245.4 L425 242.4 L425.5 235.3 L425.9 227.1 L426.4 224.1 L426.8 224.9 L427.3 224.8 L427.7 226.8 L428.2 234 L428.6 241.4 L429.1 245.1 L429.5 246.1 L430 246.3 L430.4 246.3 L430.9 246.3 L431.3 246.3 L431.8 246.3 L432.2 246.3 L432.7 246.3 L433.1 246.3 L433.6 246.3 L434 246.3 L434.5 246.3 L434.9 246.3 L435.4 246.3 L435.8 246.3 L436.3 246.3 L436.7 246.3 L437.2 246.3 L437.6 246.3 L438.1 246.3 L438.5 246.3 L439 246.3 L439.4 246.3 L439.9 246.3 L440.3 246.3 L440.8 246.3 L441.2 246.3 L441.7 246.3 L442.1 246.3 L442.6 246.3 L443 246.3 L443.5 246.3 L443.9 246.3 L444.4 246.3 L444.8 246.3 L445.3 246.3 L445.7 246.3 L446.2 246.3 L446.6 246.3 L447.1 246.3 L447.5 246.3 L448 246.3 L448.4 246.3 L448.9 246.3 L449.3 246.3 L449.8 246.3 L450.2 246.3 L450.7 246.3 L451.1 246.3 L451.6 246.3 L452 246.3 L452.5 246.3 L452.9 246.3 L453.4 246.3 L453.8 246.3 L454.3 246.3 L454.7 246.3 L455.2 246.3 L455.6 246.3 L456.1 246.3 L456.5 246.3 L457 246.3 L457.4 246.3 L457.9 246.3 L458.3 246.3 L458.8 246.3 L459.2 246.3 L459.7 246.3 L460.1 246.3 L460.6 246.3 L461 246.3 L461.5 246.2 L461.9 246.1 L462.4 245.9 L462.8 245.6 L463.3 245.3 L463.7 245.3 L464.2 245.6 L464.6 245.9 L465.1 246.1 L465.5 246.2 L466 246.2 L466.4 245.9 L466.9 245.5 L467.3 245.1 L467.8 245.2 L468.2 245.6 L468.7 246 L469.1 246.2 L469.6 246.3 L470 246.3 L470.5 246.3 L470.9 246.3 L471.4 246.3 L471.8 246.3 L472.3 246.3 L472.7 246.3 L473.2 246.3 L473.6 246.3 L474.1 246.3 L474.5 246.3 L475 246.3 L475.4 246.3 L475.9 246.3 L476.3 246.2 L476.8 246 L477.2 245.8 L477.7 245.5 L478.1 245.5 L478.6 245.7 L479 245.9 L479.5 246.1 L479.9 246.2 L480.4 246.3 L480.8 246.3 L481.3 246.3 L481.7 246.3 L482.2 246.3 L482.6 246.3 L483.1 246.3 L483.5 246.3 L484 246.3 L484.4 246.3 L484.9 246.3 L485.3 246.3 L485.8 246.3 L486.2 246.3 L486.7 246.3 L487.1 246.3 L487.6 246.3 L488 246.3 L488.5 246.3 L488.9 246.3 L489.4 246.3 L489.8 246.3 L490.3 246.3 L490.7 246.3 L491.2 246.3 L491.6 246.3 L492.1 246.3 L492.5 246.3 L493 246.3 L493.4 246.3 L493.9 246.3 L494.3 246.3 L494.8 246.3 L495.2 246.3 L495.7 246.3 L496.1 246.3 L496.6 246.3 L497 246.3 L497.5 246.3 L497.9 246.3 L498.4 246.3 L498.8 246.3 L499.3 246.3 L499.7 246.3 L500.2 246.3 L500.6 246.3 L501.1 246.3 L501.5 246.3 L502 246.3 L502.4 246.3 L502.9 246.3 L503.3 246.3 L503.8 246.3 L504.2 246.3 L504.7 246.3 L505.1 246.3 L505.6 246.3 L506 246.3 L506.5 246.3 L506.9 246.3 L507.4 246.3 L507.8 246.3 L508.3 246.3 L508.7 246.3 L509.2 246.3 L509.6 246.3 L510.1 246.3 L510.5 246.3 L511 246.3 L511.4 246.3 L511.9 246.3 L512.3 246.3 L512.8 246.3 L513.2 246.3 L513.7 246.3 L514.1 246.3 L514.6 246.3 L515 246.3 L515.5 246.3 L515.9 246.3 L516.4 246.3 L516.8 246.3 L517.3 246.3 L517.7 246.3 L518.2 246.3 L518.6 246.3 L519.1 246.3 L519.5 246.3 L520 246.3 L520.4 246.3 L520.9 246.3 L521.3 246.3 L521.8 246.3 L522.2 246.3 L522.7 246.3 L523.1 246.3 L523.6 246.3 L524 246.3 L524.5 246.3" fill="none" stroke="#1a1a1a" stroke-width="0.6" stroke-linejoin="round"/>
<path d="M424.2 246.2 L424.5 245.7 L424.8 244.5 L425.1 241.8 L425.4 237.2 L425.7 231.4 L426 226.5 L426.3 224.2 L426.6 224.4 L426.9 225 L427.2 224.9 L427.5 225.1 L427.8 227.4 L428.1 232.1 L428.4 237.6 L428.7 242 L429 244.6 L429.3 245.8" fill="none" stroke="#1a1a1a" stroke-width="1.2" stroke-linejoin="round"/>
<path d="M337.3 276.5 L337.8 276.5 L338.2 276.5 L338.6 276.5 L339.1 276.5 L339.5 276.5 L340 276.5 L340.4 276.5 L340.9 276.4 L341.3 276.4 L341.8 276.4 L342.2 276.4 L342.7 276.4 L343.1 276.3 L343.6 276.3 L344 276.3 L344.5 276.2 L344.9 276.2 L345.4 276.2 L345.8 276.1 L346.3 276.1 L346.7 276.1 L347.2 276 L347.6 276 L348.1 276 L348.5 275.9 L349 275.9 L349.4 275.9 L349.9 275.9 L350.3 275.9 L350.8 275.9 L351.2 275.9 L351.7 275.9 L352.1 276 L352.6 276 L353 276 L353.5 276.1 L353.9 276.1 L354.4 276.1 L354.8 276.2 L355.3 276.2 L355.7 276.3 L356.2 276.3 L356.6 276.3 L357.1 276.4 L357.5 276.4 L358 276.4 L358.4 276.4 L358.9 276.4 L359.3 276.4 L359.8 276.5 L360.2 276.5 L360.7 276.5 L361.1 276.5 L361.6 276.5 L362 276.5 L362.5 276.5 L362.9 276.5 L363.4 276.5 L363.8 276.5 L364.3 276.5 L364.7 276.5 L365.2 276.5 L365.6 276.5 L366.1 276.5 L366.5 276.5 L367 276.5 L367.4 276.5 L367.9 276.5 L368.3 276.5 L368.8 276.5 L369.2 276.5 L369.7 276.5 L370.1 276.5 L370.6 276.5 L371 276.5 L371.5 276.5 L371.9 276.5 L372.4 276.5 L372.8 276.5 L373.3 276.5 L373.7 276.5 L374.2 276.5 L374.6 276.5 L375.1 276.5 L375.5 276.5 L376 276.5 L376.4 276.5 L376.9 276.5 L377.3 276.5 L377.8 276.5 L378.2 276.5 L378.7 276.5 L379.1 276.5 L379.6 276.5 L380 276.5 L380.5 276.5 L380.9 276.5 L381.4 276.5 L381.8 276.5 L382.3 276.5 L382.7 276.5 L383.2 276.5 L383.6 276.5 L384.1 276.5 L384.5 276.5 L385 276.5 L385.4 276.5 L385.9 276.5 L386.3 276.5 L386.8 276.5 L387.2 276.5 L387.7 276.5 L388.1 276.5 L388.6 276.5 L389 276.5 L389.5 276.5 L389.9 276.5 L390.4 276.5 L390.8 276.5 L391.3 276.5 L391.7 276.5 L392.2 276.5 L392.6 276.5 L393.1 276.5 L393.5 276.5 L394 276.5 L394.4 276.5 L394.9 276.5 L395.3 276.5 L395.8 276.5 L396.2 276.5 L396.7 276.5 L397.1 276.5 L397.6 276.5 L398 276.5 L398.5 276.5 L398.9 276.5 L399.4 276.5 L399.8 276.5 L400.3 276.5 L400.7 276.5 L401.2 276.5 L401.6 276.5 L402.1 276.5 L402.5 276.5 L403 276.5 L403.4 276.5 L403.9 276.5 L404.3 276.5 L404.8 276.5 L405.2 276.5 L405.7 276.5 L406.1 276.5 L406.6 276.5 L407 276.5 L407.5 276.5 L407.9 276.5 L408.4 276.5 L408.8 276.5 L409.3 276.5 L409.7 276.5 L410.2 276.5 L410.6 276.5 L411.1 276.5 L411.5 276.5 L412 276.5 L412.4 276.5 L412.9 276.5 L413.3 276.5 L413.8 276.5 L414.2 276.5 L414.7 276.5 L415.1 276.5 L415.6 276.5 L416 276.5 L416.5 276.5 L416.9 276.5 L417.4 276.5 L417.8 276.5 L418.3 276.5 L418.7 276.5 L419.2 276.5 L419.6 276.5 L420.1 276.4 L420.5 276 L421 273.8 L421.4 267.7 L421.9 258.6 L422.3 254 L422.8 257.6 L423.2 263.4 L423.7 265.2 L424.1 264.2 L424.6 263.6 L425 264.6 L425.5 266.6 L425.9 268.8 L426.4 271 L426.8 273 L427.3 274.6 L427.7 275.7 L428.2 276.2 L428.6 276.4 L429.1 276.5 L429.5 276.5 L430 276.5 L430.4 276.5 L430.9 276.5 L431.3 276.5 L431.8 276.5 L432.2 276.5 L432.7 276.5 L433.1 276.5 L433.6 276.5 L434 276.5 L434.5 276.5 L434.9 276.5 L435.4 276.5 L435.8 276.5 L436.3 276.5 L436.7 276.5 L437.2 276.5 L437.6 276.5 L438.1 276.5 L438.5 276.5 L439 276.5 L439.4 276.5 L439.9 276.5 L440.3 276.5 L440.8 276.5 L441.2 276.5 L441.7 276.5 L442.1 276.5 L442.6 276.5 L443 276.5 L443.5 276.5 L443.9 276.5 L444.4 276.5 L444.8 276.5 L445.3 276.5 L445.7 276.5 L446.2 276.5 L446.6 276.5 L447.1 276.5 L447.5 276.5 L448 276.5 L448.4 276.5 L448.9 276.5 L449.3 276.5 L449.8 276.5 L450.2 276.5 L450.7 276.5 L451.1 276.5 L451.6 276.5 L452 276.5 L452.5 276.5 L452.9 276.5 L453.4 276.5 L453.8 276.5 L454.3 276.5 L454.7 276.5 L455.2 276.5 L455.6 276.5 L456.1 276.5 L456.5 276.5 L457 276.5 L457.4 276.5 L457.9 276.5 L458.3 276.5 L458.8 276.5 L459.2 276.5 L459.7 276.5 L460.1 276.5 L460.6 276.5 L461 276.5 L461.5 276.5 L461.9 276.5 L462.4 276.5 L462.8 276.5 L463.3 276.5 L463.7 276.5 L464.2 276.5 L464.6 276.5 L465.1 276.5 L465.5 276.5 L466 276.5 L466.4 276.5 L466.9 276.5 L467.3 276.5 L467.8 276.5 L468.2 276.5 L468.7 276.5 L469.1 276.5 L469.6 276.5 L470 276.5 L470.5 276.5 L470.9 276.5 L471.4 276.5 L471.8 276.5 L472.3 276.5 L472.7 276.5 L473.2 276.5 L473.6 276.5 L474.1 276.5 L474.5 276.5 L475 276.5 L475.4 276.5 L475.9 276.5 L476.3 276.5 L476.8 276.5 L477.2 276.5 L477.7 276.5 L478.1 276.5 L478.6 276.5 L479 276.5 L479.5 276.5 L479.9 276.5 L480.4 276.5 L480.8 276.5 L481.3 276.5 L481.7 276.5 L482.2 276.5 L482.6 276.5 L483.1 276.5 L483.5 276.5 L484 276.5 L484.4 276.5 L484.9 276.5 L485.3 276.5 L485.8 276.5 L486.2 276.5 L486.7 276.5 L487.1 276.5 L487.6 276.5 L488 276.5 L488.5 276.5 L488.9 276.5 L489.4 276.5 L489.8 276.5 L490.3 276.5 L490.7 276.5 L491.2 276.5 L491.6 276.5 L492.1 276.5 L492.5 276.5 L493 276.5 L493.4 276.5 L493.9 276.5 L494.3 276.5 L494.8 276.5 L495.2 276.5 L495.7 276.5 L496.1 276.5 L496.6 276.5 L497 276.5 L497.5 276.5 L497.9 276.5 L498.4 276.5 L498.8 276.5 L499.3 276.5 L499.7 276.5 L500.2 276.5 L500.6 276.5 L501.1 276.5 L501.5 276.5 L502 276.5 L502.4 276.5 L502.9 276.5 L503.3 276.5 L503.8 276.5 L504.2 276.5 L504.7 276.5 L505.1 276.5 L505.6 276.5 L506 276.5 L506.5 276.5 L506.9 276.5 L507.4 276.5 L507.8 276.5 L508.3 276.4 L508.7 276.1 L509.2 275.5 L509.6 274.4 L510.1 273.1 L510.5 272.2 L511 272.1 L511.4 273 L511.9 274.3 L512.3 275.4 L512.8 276.1 L513.2 276.4 L513.7 276.5 L514.1 276.5 L514.6 276.5 L515 276.5 L515.5 276.5 L515.9 276.5 L516.4 276.5 L516.8 276.5 L517.3 276.5 L517.7 276.5 L518.2 276.5 L518.6 276.5 L519.1 276.5 L519.5 276.5 L520 276.5 L520.4 276.5 L520.9 276.5 L521.3 276.5 L521.8 276.5 L522.2 276.5 L522.7 276.5 L523.1 276.5 L523.6 276.5 L524 276.5 L524.5 276.5" fill="none" stroke="#1a1a1a" stroke-width="0.6" stroke-linejoin="round"/>
<path d="M337.3 303.7 L337.8 303.7 L338.2 303.7 L338.6 303.7 L339.1 303.7 L339.5 303.7 L340 303.7 L340.4 303.7 L340.9 303.7 L341.3 303.7 L341.8 303.7 L342.2 303.7 L342.7 303.7 L343.1 303.7 L343.6 303.7 L344 303.7 L344.5 303.7 L344.9 303.7 L345.4 303.7 L345.8 303.7 L346.3 303.7 L346.7 303.7 L347.2 303.7 L347.6 303.7 L348.1 303.7 L348.5 303.7 L349 303.7 L349.4 303.7 L349.9 303.7 L350.3 303.7 L350.8 303.7 L351.2 303.7 L351.7 303.7 L352.1 303.7 L352.6 303.7 L353 303.7 L353.5 303.7 L353.9 303.7 L354.4 303.7 L354.8 303.7 L355.3 303.7 L355.7 303.7 L356.2 303.7 L356.6 303.7 L357.1 303.7 L357.5 303.7 L358 303.7 L358.4 303.7 L358.9 303.7 L359.3 303.7 L359.8 303.7 L360.2 303.7 L360.7 303.7 L361.1 303.7 L361.6 303.7 L362 303.7 L362.5 303.7 L362.9 303.7 L363.4 303.7 L363.8 303.7 L364.3 303.7 L364.7 303.7 L365.2 303.7 L365.6 303.7 L366.1 303.7 L366.5 303.7 L367 303.7 L367.4 303.7 L367.9 303.7 L368.3 303.7 L368.8 303.7 L369.2 303.7 L369.7 303.7 L370.1 303.7 L370.6 303.7 L371 303.7 L371.5 303.7 L371.9 303.7 L372.4 303.7 L372.8 303.7 L373.3 303.7 L373.7 303.7 L374.2 303.7 L374.6 303.7 L375.1 303.7 L375.5 303.7 L376 303.7 L376.4 303.7 L376.9 303.7 L377.3 303.7 L377.8 303.7 L378.2 303.7 L378.7 303.7 L379.1 303.7 L379.6 303.7 L380 303.7 L380.5 303.7 L380.9 303.7 L381.4 303.7 L381.8 303.7 L382.3 303.7 L382.7 303.7 L383.2 303.7 L383.6 303.7 L384.1 303.7 L384.5 303.7 L385 303.7 L385.4 303.7 L385.9 303.7 L386.3 303.7 L386.8 303.7 L387.2 303.7 L387.7 303.7 L388.1 303.7 L388.6 303.7 L389 303.7 L389.5 303.7 L389.9 303.7 L390.4 303.7 L390.8 303.7 L391.3 303.7 L391.7 303.7 L392.2 303.7 L392.6 303.7 L393.1 303.7 L393.5 303.7 L394 303.7 L394.4 303.7 L394.9 303.7 L395.3 303.7 L395.8 303.7 L396.2 303.7 L396.7 303.7 L397.1 303.7 L397.6 303.7 L398 303.7 L398.5 303.7 L398.9 303.7 L399.4 303.7 L399.8 303.7 L400.3 303.7 L400.7 303.7 L401.2 303.7 L401.6 303.7 L402.1 303.7 L402.5 303.7 L403 303.7 L403.4 303.7 L403.9 303.7 L404.3 303.7 L404.8 303.7 L405.2 303.7 L405.7 303.7 L406.1 303.7 L406.6 303.7 L407 303.7 L407.5 303.7 L407.9 303.7 L408.4 303.7 L408.8 303.7 L409.3 303.7 L409.7 303.7 L410.2 303.7 L410.6 303.7 L411.1 303.7 L411.5 303.7 L412 303.7 L412.4 303.7 L412.9 303.7 L413.3 303.7 L413.8 303.7 L414.2 303.7 L414.7 303.7 L415.1 303.7 L415.6 303.7 L416 303.7 L416.5 303.7 L416.9 303.7 L417.4 303.7 L417.8 303.7 L418.3 303.7 L418.7 303.7 L419.2 303.7 L419.6 303.7 L420.1 303.7 L420.5 303.7 L421 303.7 L421.4 303.7 L421.9 303.7 L422.3 303.7 L422.8 303.7 L423.2 303.7 L423.7 303.7 L424.1 303.7 L424.6 303.7 L425 303.7 L425.5 303.7 L425.9 303.7 L426.4 303.7 L426.8 303.7 L427.3 303.7 L427.7 303.6 L428.2 303.3 L428.6 302.7 L429.1 301.3 L429.5 298.8 L430 295 L430.4 290.4 L430.9 286 L431.3 283.1 L431.8 282.8 L432.2 285.1 L432.7 288.7 L433.1 292.2 L433.6 294.1 L434 294 L434.5 292.2 L434.9 289.5 L435.4 287.2 L435.8 285.9 L436.3 285.9 L436.7 287.2 L437.2 289.5 L437.6 292.3 L438.1 295.4 L438.5 298.3 L439 300.6 L439.4 302.2 L439.9 303.1 L440.3 303.5 L440.8 303.6 L441.2 303.7 L441.7 303.7 L442.1 303.7 L442.6 303.7 L443 303.7 L443.5 303.7 L443.9 303.7 L444.4 303.7 L444.8 303.7 L445.3 303.7 L445.7 303.7 L446.2 303.7 L446.6 303.7 L447.1 303.7 L447.5 303.7 L448 303.7 L448.4 303.7 L448.9 303.7 L449.3 303.7 L449.8 303.7 L450.2 303.7 L450.7 303.7 L451.1 303.7 L451.6 303.7 L452 303.7 L452.5 303.7 L452.9 303.7 L453.4 303.7 L453.8 303.7 L454.3 303.7 L454.7 303.7 L455.2 303.7 L455.6 303.7 L456.1 303.7 L456.5 303.7 L457 303.7 L457.4 303.7 L457.9 303.7 L458.3 303.7 L458.8 303.7 L459.2 303.7 L459.7 303.7 L460.1 303.7 L460.6 303.7 L461 303.7 L461.5 303.7 L461.9 303.7 L462.4 303.7 L462.8 303.7 L463.3 303.7 L463.7 303.7 L464.2 303.7 L464.6 303.7 L465.1 303.7 L465.5 303.7 L466 303.7 L466.4 303.7 L466.9 303.7 L467.3 303.7 L467.8 303.7 L468.2 303.7 L468.7 303.7 L469.1 303.7 L469.6 303.7 L470 303.7 L470.5 303.7 L470.9 303.7 L471.4 303.7 L471.8 303.7 L472.3 303.7 L472.7 303.7 L473.2 303.7 L473.6 303.7 L474.1 303.7 L474.5 303.7 L475 303.7 L475.4 303.7 L475.9 303.7 L476.3 303.7 L476.8 303.7 L477.2 303.7 L477.7 303.7 L478.1 303.7 L478.6 303.7 L479 303.7 L479.5 303.7 L479.9 303.7 L480.4 303.7 L480.8 303.7 L481.3 303.7 L481.7 303.7 L482.2 303.7 L482.6 303.7 L483.1 303.7 L483.5 303.7 L484 303.7 L484.4 303.7 L484.9 303.7 L485.3 303.7 L485.8 303.7 L486.2 303.7 L486.7 303.7 L487.1 303.7 L487.6 303.7 L488 303.7 L488.5 303.7 L488.9 303.7 L489.4 303.7 L489.8 303.7 L490.3 303.7 L490.7 303.7 L491.2 303.7 L491.6 303.7 L492.1 303.7 L492.5 303.7 L493 303.7 L493.4 303.7 L493.9 303.7 L494.3 303.7 L494.8 303.7 L495.2 303.7 L495.7 303.7 L496.1 303.7 L496.6 303.7 L497 303.7 L497.5 303.7 L497.9 303.7 L498.4 303.7 L498.8 303.7 L499.3 303.7 L499.7 303.7 L500.2 303.7 L500.6 303.7 L501.1 303.7 L501.5 303.7 L502 303.7 L502.4 303.7 L502.9 303.7 L503.3 303.7 L503.8 303.7 L504.2 303.7 L504.7 303.7 L505.1 303.7 L505.6 303.7 L506 303.7 L506.5 303.7 L506.9 303.7 L507.4 303.7 L507.8 303.7 L508.3 303.7 L508.7 303.7 L509.2 303.7 L509.6 303.7 L510.1 303.7 L510.5 303.7 L511 303.7 L511.4 303.7 L511.9 303.7 L512.3 303.7 L512.8 303.7 L513.2 303.7 L513.7 303.7 L514.1 303.7 L514.6 303.7 L515 303.7 L515.5 303.7 L515.9 303.7 L516.4 303.7 L516.8 303.7 L517.3 303.7 L517.7 303.7 L518.2 303.7 L518.6 303.7 L519.1 303.7 L519.5 303.7 L520 303.7 L520.4 303.7 L520.9 303.7 L521.3 303.7 L521.8 303.7 L522.2 303.7 L522.7 303.7 L523.1 303.7 L523.6 303.7 L524 303.7 L524.5 303.7" fill="none" stroke="#1a1a1a" stroke-width="0.6" stroke-linejoin="round"/>
<path d="M337.3 332.5 L337.6 332.5 L337.9 332.5 L338.2 332.5 L338.5 332.5 L338.8 332.5 L339.1 332.5 L339.4 332.5 L339.7 332.5 L340 332.5 L340.3 332.5 L340.6 332.5 L340.9 332.5 L341.2 332.5 L341.5 332.5 L341.8 332.5 L342.1 332.5 L342.4 332.5 L342.7 332.5 L343 332.5 L343.3 332.5 L343.6 332.5 L343.9 332.5 L344.2 332.5 L344.5 332.5 L344.8 332.5 L345.1 332.5 L345.4 332.5 L345.7 332.5 L346 332.5 L346.3 332.5 L346.6 332.5 L346.9 332.5 L347.2 332.5 L347.5 332.5 L347.8 332.5 L348.1 332.5 L348.4 332.5 L348.7 332.5 L349 332.5 L349.3 332.5 L349.6 332.5 L349.9 332.5 L350.2 332.5 L350.5 332.5 L350.8 332.5 L351.1 332.5 L351.4 332.5 L351.7 332.5 L352 332.5 L352.3 332.5 L352.6 332.5 L352.9 332.5 L353.2 332.5 L353.5 332.5 L353.8 332.5 L354.1 332.5 L354.4 332.5 L354.7 332.5 L355 332.5 L355.3 332.5 L355.6 332.5 L355.9 332.5 L356.2 332.5 L356.5 332.5 L356.8 332.5 L357.1 332.5 L357.4 332.5 L357.7 332.5 L358 332.5 L358.3 332.5 L358.6 332.5 L358.9 332.5 L359.2 332.5 L359.5 332.5 L359.8 332.5 L360.1 332.5 L360.4 332.5 L360.7 332.5 L361 332.5 L361.3 332.5 L361.6 332.5 L361.9 332.5 L362.2 332.5 L362.5 332.5 L362.8 332.5 L363.1 332.5 L363.4 332.5 L363.7 332.4 L364 332.4 L364.3 332.4 L364.6 332.4 L364.9 332.3 L365.2 332.3 L365.5 332.3 L365.8 332.2 L366.1 332.2 L366.4 332.1 L366.7 332.1 L367 332.1 L367.3 332 L367.6 332 L367.9 332 L368.2 332 L368.5 332 L368.8 332 L369.1 332.1 L369.4 332.1 L369.7 332.1 L370 332 L370.3 331.7 L370.6 331.3 L370.9 330.9 L371.2 331 L371.5 331.5 L371.8 332 L372.1 332.3 L372.4 332.4 L372.7 332.5 L373 332.5 L373.3 332.5 L373.6 332.5 L373.9 332.5 L374.2 332.5 L374.5 332.5 L374.8 332.5 L375.1 332.5 L375.4 332.5 L375.7 332.5 L376 332.5 L376.3 332.5 L376.6 332.5 L376.9 332.5 L377.2 332.5 L377.5 332.5 L377.8 332.5 L378.1 332.5 L378.4 332.5 L378.7 332.5 L379 332.5 L379.3 332.5 L379.6 332.5 L379.9 332.5 L380.2 332.5 L380.5 332.5 L380.8 332.5 L381.1 332.5 L381.4 332.5 L381.7 332.5 L382 332.5 L382.3 332.5 L382.6 332.5 L382.9 332.5 L383.2 332.5 L383.5 332.5 L383.8 332.5 L384.1 332.5 L384.4 332.5 L384.7 332.5 L385 332.5 L385.3 332.5 L385.6 332.5 L385.9 332.5 L386.2 332.5 L386.5 332.5 L386.8 332.5 L387.1 332.5 L387.4 332.5 L387.7 332.5 L388 332.5 L388.3 332.5 L388.6 332.5 L388.9 332.5 L389.2 332.5 L389.5 332.5 L389.8 332.5 L390.1 332.5 L390.4 332.5 L390.7 332.5 L391 332.5 L391.3 332.5 L391.6 332.5 L391.9 332.5 L392.2 332.5 L392.5 332.5 L392.8 332.5 L393.1 332.5 L393.4 332.5 L393.7 332.5 L394 332.5 L394.3 332.5 L394.6 332.5 L394.9 332.5 L395.2 332.5 L395.5 332.5 L395.8 332.5 L396.1 332.5 L396.4 332.5 L396.7 332.5 L397 332.5 L397.3 332.5 L397.6 332.5 L397.9 332.5 L398.2 332.5 L398.5 332.5 L398.8 332.5 L399.1 332.5 L399.4 332.5 L399.7 332.5 L400 332.5 L400.3 332.5 L400.6 332.5 L400.9 332.5 L401.2 332.5 L401.5 332.5 L401.8 332.5 L402.1 332.5 L402.4 332.5 L402.7 332.5 L403 332.5 L403.3 332.5 L403.6 332.5 L403.9 332.5 L404.2 332.5 L404.5 332.5 L404.8 332.5 L405.1 332.5 L405.4 332.5 L405.7 332.5 L406 332.5 L406.3 332.5 L406.6 332.5 L406.9 332.5 L407.2 332.5 L407.5 332.5 L407.8 332.5 L408.1 332.5 L408.4 332.5 L408.7 332.5 L409 332.5 L409.3 332.5 L409.6 332.5 L409.9 332.5 L410.2 332.5 L410.5 332.5 L410.8 332.5 L411.1 332.5 L411.4 332.5 L411.7 332.5 L412 332.5 L412.3 332.5 L412.6 332.5 L412.9 332.5 L413.2 332.5 L413.5 332.5 L413.8 332.5 L414.1 332.5 L414.4 332.5 L414.7 332.5 L415 332.5 L415.3 332.5 L415.6 332.5 L415.9 332.5 L416.2 332.5 L416.5 332.5 L416.8 332.5 L417.1 332.5 L417.4 332.5 L417.7 332.5 L418 332.5 L418.3 332.5 L418.6 332.5 L418.9 332.5 L419.2 332.5 L419.5 332.5 L419.8 332.5 L420.1 332.5 L420.4 332.5 L420.7 332.5 L421 332.5 L421.3 332.5 L421.6 332.5 L421.9 332.5 L422.2 332.5 L422.5 332.5 L422.8 332.5 L423.1 332.5 L423.4 332.5 L423.7 332.5 L424 332.5 L424.3 332.5 L424.6 332.5 L424.9 332.5 L425.2 332.5 L425.5 332.5 L425.8 332.5 L426.1 332.5 L426.4 332.5 L426.7 332.5 L427 332.5 L427.3 332.5 L427.6 332.5 L427.9 332.5 L428.2 332.5 L428.5 332.5 L428.8 332.5 L429.1 332.5 L429.4 332.5 L429.7 332.5 L430 332.5 L430.3 332.5 L430.6 332.5 L430.9 332.5 L431.2 332.5 L431.5 332.5 L431.8 332.5 L432.1 332.5 L432.4 332.5 L432.7 332.5 L433 332.5 L433.3 332.5 L433.6 332.5 L433.9 332.5 L434.2 332.5 L434.5 332.5 L434.8 332.5 L435.1 332.5 L435.4 332.5 L435.7 332.5 L436 332.5 L436.3 332.5 L436.6 332.5 L436.9 332.5 L437.2 332.5 L437.5 332.5 L437.8 332.5 L438.1 332.5 L438.4 332.5 L438.7 332.5 L439 332.5 L439.3 332.5 L439.6 332.5 L439.9 332.5 L440.2 332.5 L440.5 332.5 L440.8 332.5 L441.1 332.5 L441.4 332.5 L441.7 332.5 L442 332.5 L442.3 332.5 L442.6 332.5 L442.9 332.5 L443.2 332.5 L443.5 332.5 L443.8 332.5 L444.1 332.5 L444.4 332.5 L444.7 332.5 L445 332.5 L445.3 332.5 L445.6 332.5 L445.9 332.5 L446.2 332.5 L446.5 332.5 L446.8 332.5 L447.1 332.5 L447.4 332.4 L447.7 332.5 L448 332.4 L448.3 332.5 L448.6 332.4 L448.9 332.5 L449.2 332.3 L449.5 332.5 L449.8 332.2 L450.1 332.5 L450.4 332.2 L450.7 332.5 L451 332 L451.3 332.5 L451.6 331.9 L451.9 332.5 L452.2 331.8 L452.5 332.4 L452.8 331.6 L453.1 332.2 L453.4 331.6 L453.7 332.4 L454 331.1 L454.3 332.1 L454.6 331.1 L454.9 332.3 L455.2 331 L455.5 332.3 L455.8 330.7 L456.1 332 L456.4 331.1 L456.7 332.4 L457 330.8 L457.3 332.1 L457.6 330.3 L457.9 332.5 L458.2 331.1 L458.5 332.4 L458.8 330.8 L459.1 332.1 L459.4 330.4 L459.7 332.1 L460 329.6 L460.3 328.2 L460.6 325.2 L460.9 328.2 L461.2 329.7 L461.5 331.9 L461.8 330.4 L462.1 332.3 L462.4 330.8 L462.7 331.9 L463 330.8 L463.3 332.3 L463.6 330.8 L463.9 331.9 L464.2 330.4 L464.5 332.4 L464.8 330.7 L465.1 332.3 L465.4 331.3 L465.7 332.2 L466 331.5 L466.3 332.4 L466.6 331.5 L466.9 332.4 L467.2 331.8 L467.5 332.4 L467.8 332.1 L468.1 332.5 L468.4 332.2 L468.7 332.5 L469 332.4 L469.3 332.5 L469.6 332.4 L469.9 332.5 L470.2 332.5 L470.5 332.5 L470.8 332.5 L471.1 332.5 L471.4 332.5 L471.7 332.5 L472 332.5 L472.3 332.5 L472.6 332.5 L472.9 332.5 L473.2 332.5 L473.5 332.5 L473.8 332.5 L474.1 332.5 L474.4 332.5 L474.7 332.5 L475 332.5 L475.3 332.5 L475.6 332.4 L475.9 332.5 L476.2 332.4 L476.5 332.5 L476.8 332.4 L477.1 332.5 L477.4 332.4 L477.7 332.5 L478 332.4 L478.3 332.5 L478.6 332.4 L478.9 332.5 L479.2 332.3 L479.5 332.5 L479.8 332.3 L480.1 332.4 L480.4 332.3 L480.7 332.5 L481 332.2 L481.3 332.4 L481.6 332.2 L481.9 332.4 L482.2 332.1 L482.5 332.5 L482.8 332.1 L483.1 332.4 L483.4 331.7 L483.7 332.4 L484 331.7 L484.3 332.2 L484.6 331.4 L484.9 332.4 L485.2 330.9 L485.5 332.2 L485.8 331.1 L486.1 332.3 L486.4 330.6 L486.7 332.1 L487 330.3 L487.3 332.4 L487.6 330.1 L487.9 332.4 L488.2 329.4 L488.5 331.9 L488.8 328.7 L489.1 332.4 L489.4 328.2 L489.7 331.4 L490 327.6 L490.3 332 L490.6 326.5 L490.9 331.8 L491.2 325.9 L491.5 332.5 L491.8 327.6 L492.1 331.6 L492.4 327.3 L492.7 332.1 L493 324 L493.3 330.8 L493.6 326 L493.9 332.2 L494.2 324.3 L494.5 330.5 L494.8 321.8 L495.1 314.5 L495.4 304.5 L495.7 324.4 L496 325.8 L496.3 332.3 L496.6 322.4 L496.9 319.9 L497.2 305.7 L497.5 320.5 L497.8 323.9 L498.1 331.9 L498.4 327 L498.7 331.9 L499 328 L499.3 332.4 L499.6 328.6 L499.9 331.3 L500.2 327.9 L500.5 331.5 L500.8 328.7 L501.1 331.7 L501.4 329.5 L501.7 332 L502 329.9 L502.3 331.9 L502.6 330.4 L502.9 332.2 L503.2 330.7 L503.5 332.1 L503.8 331.1 L504.1 332.5 L504.4 331.3 L504.7 332.4 L505 331.8 L505.3 332.5 L505.6 331.8 L505.9 332.3 L506.2 331.9 L506.5 332.4 L506.8 332.1 L507.1 332.5 L507.4 332 L507.7 332.4 L508 332.2 L508.3 332.5 L508.6 332.2 L508.9 332.5 L509.2 332.3 L509.5 332.5 L509.8 332.4 L510.1 332.5 L510.4 332.4 L510.7 332.5 L511 332.4 L511.3 332.5 L511.6 332.4 L511.9 332.5 L512.2 332.4 L512.5 332.5 L512.8 332.4 L513.1 332.5 L513.4 332.5 L513.7 332.5 L514 332.4 L514.3 332.5 L514.6 332.5 L514.9 332.5 L515.2 332.5 L515.5 332.5 L515.8 332.5 L516.1 332.5 L516.4 332.5 L516.7 332.5 L517 332.5 L517.3 332.5 L517.6 332.5 L517.9 332.5 L518.2 332.5 L518.5 332.5 L518.8 332.5 L519.1 332.5 L519.4 332.5 L519.7 332.5 L520 332.5 L520.3 332.5 L520.6 332.5 L520.9 332.5 L521.2 332.5 L521.5 332.5 L521.8 332.5 L522.1 332.5 L522.4 332.5 L522.7 332.5 L523 332.5 L523.3 332.5 L523.6 332.5 L523.9 332.5 L524.2 332.5" fill="none" stroke="#1a1a1a" stroke-width="0.6" stroke-linejoin="round"/>
<path d="M337.3 362 L337.8 362 L338.2 362 L338.6 362 L339.1 362 L339.5 362 L340 362 L340.4 362 L340.9 362 L341.3 362 L341.8 362 L342.2 362 L342.7 362 L343.1 362 L343.6 362 L344 362 L344.5 362 L344.9 362 L345.4 362 L345.8 362 L346.3 362 L346.7 362 L347.2 362 L347.6 362 L348.1 362 L348.5 362 L349 362 L349.4 362 L349.9 362 L350.3 362 L350.8 362 L351.2 362 L351.7 362 L352.1 362 L352.6 362 L353 362 L353.5 362 L353.9 362 L354.4 362 L354.8 362 L355.3 362 L355.7 362 L356.2 362 L356.6 362 L357.1 362 L357.5 362 L358 362 L358.4 362 L358.9 362 L359.3 362 L359.8 362 L360.2 362 L360.7 362 L361.1 362 L361.6 362 L362 362 L362.5 362 L362.9 362 L363.4 362 L363.8 362 L364.3 362 L364.7 362 L365.2 362 L365.6 362 L366.1 362 L366.5 362 L367 362 L367.4 362 L367.9 362 L368.3 362 L368.8 362 L369.2 362 L369.7 362 L370.1 362 L370.6 362 L371 362 L371.5 362 L371.9 362 L372.4 362 L372.8 362 L373.3 362 L373.7 362 L374.2 362 L374.6 362 L375.1 362 L375.5 362 L376 362 L376.4 362 L376.9 362 L377.3 362 L377.8 362 L378.2 362 L378.7 362 L379.1 362 L379.6 362 L380 362 L380.5 362 L380.9 362 L381.4 362 L381.8 362 L382.3 362 L382.7 362 L383.2 362 L383.6 362 L384.1 361.9 L384.5 361.9 L385 361.8 L385.4 361.6 L385.9 361.2 L386.3 360.7 L386.8 359.9 L387.2 358.9 L387.7 357.6 L388.1 356.3 L388.6 354.8 L389 353.6 L389.5 352.6 L389.9 351.9 L390.4 351.6 L390.8 351.4 L391.3 351.2 L391.7 350.8 L392.2 350 L392.6 349.1 L393.1 348.1 L393.5 347.5 L394 347.5 L394.4 348.2 L394.9 349.4 L395.3 350.8 L395.8 352 L396.2 352.7 L396.7 352.8 L397.1 352.7 L397.6 352.4 L398 352.2 L398.5 352 L398.9 351.8 L399.4 351.8 L399.8 352.1 L400.3 353 L400.7 354.5 L401.2 356.4 L401.6 358.3 L402.1 359.8 L402.5 360.9 L403 361.5 L403.4 361.8 L403.9 361.9 L404.3 362 L404.8 362 L405.2 362 L405.7 362 L406.1 362 L406.6 362 L407 362 L407.5 362 L407.9 362 L408.4 362 L408.8 362 L409.3 362 L409.7 362 L410.2 362 L410.6 362 L411.1 362 L411.5 362 L412 362 L412.4 362 L412.9 362 L413.3 362 L413.8 362 L414.2 362 L414.7 362 L415.1 362 L415.6 362 L416 362 L416.5 362 L416.9 362 L417.4 362 L417.8 362 L418.3 362 L418.7 362 L419.2 362 L419.6 362 L420.1 362 L420.5 362 L421 362 L421.4 362 L421.9 362 L422.3 362 L422.8 362 L423.2 362 L423.7 362 L424.1 362 L424.6 362 L425 362 L425.5 362 L425.9 362 L426.4 362 L426.8 362 L427.3 362 L427.7 362 L428.2 362 L428.6 362 L429.1 362 L429.5 362 L430 362 L430.4 362 L430.9 362 L431.3 362 L431.8 362 L432.2 362 L432.7 362 L433.1 362 L433.6 362 L434 362 L434.5 362 L434.9 362 L435.4 362 L435.8 362 L436.3 362 L436.7 362 L437.2 362 L437.6 362 L438.1 362 L438.5 362 L439 362 L439.4 362 L439.9 362 L440.3 362 L440.8 362 L441.2 362 L441.7 362 L442.1 362 L442.6 362 L443 362 L443.5 362 L443.9 362 L444.4 362 L444.8 362 L445.3 362 L445.7 362 L446.2 362 L446.6 362 L447.1 362 L447.5 362 L448 362 L448.4 362 L448.9 362 L449.3 362 L449.8 362 L450.2 362 L450.7 362 L451.1 362 L451.6 362 L452 362 L452.5 362 L452.9 362 L453.4 362 L453.8 362 L454.3 362 L454.7 362 L455.2 362 L455.6 362 L456.1 362 L456.5 362 L457 362 L457.4 362 L457.9 362 L458.3 362 L458.8 362 L459.2 362 L459.7 362 L460.1 362 L460.6 362 L461 362 L461.5 362 L461.9 362 L462.4 362 L462.8 362 L463.3 362 L463.7 362 L464.2 362 L464.6 362 L465.1 362 L465.5 362 L466 361.9 L466.4 361.8 L466.9 361.6 L467.3 361.2 L467.8 360.7 L468.2 360.1 L468.7 359.4 L469.1 358.9 L469.6 358.5 L470 358.6 L470.5 358.9 L470.9 359.5 L471.4 360.2 L471.8 360.8 L472.3 361.3 L472.7 361.6 L473.2 361.8 L473.6 361.9 L474.1 362 L474.5 362 L475 362 L475.4 362 L475.9 362 L476.3 362 L476.8 362 L477.2 362 L477.7 362 L478.1 362 L478.6 362 L479 362 L479.5 362 L479.9 362 L480.4 362 L480.8 362 L481.3 362 L481.7 361.9 L482.2 361.4 L482.6 358.7 L483.1 351.8 L483.5 342.6 L484 339.3 L484.4 344.7 L484.9 350.9 L485.3 353.3 L485.8 354.5 L486.2 355.6 L486.7 354.7 L487.1 353.1 L487.6 353.7 L488 356.4 L488.5 358.8 L488.9 359.6 L489.4 359.3 L489.8 359 L490.3 359.1 L490.7 359.7 L491.2 360.4 L491.6 361.1 L492.1 361.6 L492.5 361.8 L493 361.9 L493.4 361.8 L493.9 361.7 L494.3 361.5 L494.8 361.1 L495.2 360.6 L495.7 360 L496.1 359.4 L496.6 358.8 L497 358.5 L497.5 358.4 L497.9 358.6 L498.4 359.1 L498.8 359.7 L499.3 360.3 L499.7 360.8 L500.2 361.3 L500.6 361.6 L501.1 361.8 L501.5 361.9 L502 362 L502.4 362 L502.9 362 L503.3 362 L503.8 362 L504.2 362 L504.7 362 L505.1 362 L505.6 362 L506 362 L506.5 362 L506.9 362 L507.4 362 L507.8 362 L508.3 362 L508.7 362 L509.2 362 L509.6 362 L510.1 362 L510.5 362 L511 362 L511.4 362 L511.9 362 L512.3 362 L512.8 362 L513.2 362 L513.7 362 L514.1 362 L514.6 362 L515 362 L515.5 362 L515.9 362 L516.4 362 L516.8 362 L517.3 362 L517.7 362 L518.2 362 L518.6 362 L519.1 362 L519.5 362 L520 362 L520.4 362 L520.9 362 L521.3 362 L521.8 362 L522.2 362 L522.7 362 L523.1 362 L523.6 362 L524 362 L524.5 362" fill="none" stroke="#1a1a1a" stroke-width="0.6" stroke-linejoin="round"/>
<path d="M337.3 390.8 L337.8 390.8 L338.2 390.8 L338.6 390.8 L339.1 390.8 L339.5 390.8 L340 390.8 L340.4 390.8 L340.9 390.8 L341.3 390.8 L341.8 390.8 L342.2 390.8 L342.7 390.8 L343.1 390.8 L343.6 390.8 L344 390.8 L344.5 390.8 L344.9 390.8 L345.4 390.8 L345.8 390.8 L346.3 390.8 L346.7 390.8 L347.2 390.8 L347.6 390.8 L348.1 390.8 L348.5 390.8 L349 390.8 L349.4 390.8 L349.9 390.8 L350.3 390.8 L350.8 390.8 L351.2 390.8 L351.7 390.8 L352.1 390.8 L352.6 390.8 L353 390.8 L353.5 390.8 L353.9 390.8 L354.4 390.8 L354.8 390.8 L355.3 390.8 L355.7 390.8 L356.2 390.8 L356.6 390.8 L357.1 390.8 L357.5 390.8 L358 390.8 L358.4 390.8 L358.9 390.8 L359.3 390.8 L359.8 390.8 L360.2 390.8 L360.7 390.8 L361.1 390.8 L361.6 390.8 L362 390.8 L362.5 390.8 L362.9 390.8 L363.4 390.8 L363.8 390.8 L364.3 390.8 L364.7 390.8 L365.2 390.8 L365.6 390.8 L366.1 390.8 L366.5 390.8 L367 390.8 L367.4 390.8 L367.9 390.8 L368.3 390.8 L368.8 390.8 L369.2 390.8 L369.7 390.8 L370.1 390.8 L370.6 390.8 L371 390.8 L371.5 390.8 L371.9 390.8 L372.4 390.8 L372.8 390.8 L373.3 390.8 L373.7 390.8 L374.2 390.8 L374.6 390.8 L375.1 390.8 L375.5 390.8 L376 390.8 L376.4 390.8 L376.9 390.8 L377.3 390.8 L377.8 390.8 L378.2 390.8 L378.7 390.8 L379.1 390.8 L379.6 390.8 L380 390.8 L380.5 390.8 L380.9 390.8 L381.4 390.8 L381.8 390.8 L382.3 390.8 L382.7 390.8 L383.2 390.8 L383.6 390.8 L384.1 390.8 L384.5 390.8 L385 390.8 L385.4 390.8 L385.9 390.8 L386.3 390.8 L386.8 390.8 L387.2 390.8 L387.7 390.7 L388.1 390.3 L388.6 389.5 L389 388.7 L389.5 388.4 L389.9 388.9 L390.4 389.5 L390.8 389.5 L391.3 388.7 L391.7 387.7 L392.2 387.2 L392.6 387.7 L393.1 388.7 L393.5 389.7 L394 389.9 L394.4 389.4 L394.9 388.5 L395.3 388.1 L395.8 388.5 L396.2 389.2 L396.7 389.7 L397.1 389.8 L397.6 389.8 L398 389.9 L398.5 390.2 L398.9 390.4 L399.4 390.6 L399.8 390.7 L400.3 390.8 L400.7 390.8 L401.2 390.8 L401.6 390.8 L402.1 390.8 L402.5 390.8 L403 390.8 L403.4 390.8 L403.9 390.8 L404.3 390.8 L404.8 390.8 L405.2 390.8 L405.7 390.8 L406.1 390.8 L406.6 390.8 L407 390.8 L407.5 390.8 L407.9 390.8 L408.4 390.8 L408.8 390.8 L409.3 390.8 L409.7 390.8 L410.2 390.8 L410.6 390.8 L411.1 390.8 L411.5 390.8 L412 390.8 L412.4 390.8 L412.9 390.8 L413.3 390.8 L413.8 390.8 L414.2 390.8 L414.7 390.8 L415.1 390.8 L415.6 390.8 L416 390.8 L416.5 390.8 L416.9 390.8 L417.4 390.8 L417.8 390.8 L418.3 390.8 L418.7 390.8 L419.2 390.8 L419.6 390.8 L420.1 390.8 L420.5 390.8 L421 390.8 L421.4 390.8 L421.9 390.8 L422.3 390.8 L422.8 390.8 L423.2 390.8 L423.7 390.8 L424.1 390.8 L424.6 390.8 L425 390.8 L425.5 390.8 L425.9 390.8 L426.4 390.8 L426.8 390.8 L427.3 390.8 L427.7 390.8 L428.2 390.8 L428.6 390.8 L429.1 390.8 L429.5 390.8 L430 390.8 L430.4 390.8 L430.9 390.8 L431.3 390.8 L431.8 390.8 L432.2 390.8 L432.7 390.8 L433.1 390.8 L433.6 390.8 L434 390.8 L434.5 390.8 L434.9 390.8 L435.4 390.8 L435.8 390.8 L436.3 390.8 L436.7 390.8 L437.2 390.8 L437.6 390.8 L438.1 390.8 L438.5 390.8 L439 390.8 L439.4 390.8 L439.9 390.8 L440.3 390.8 L440.8 390.8 L441.2 390.8 L441.7 390.8 L442.1 390.8 L442.6 390.8 L443 390.8 L443.5 390.8 L443.9 390.8 L444.4 390.8 L444.8 390.8 L445.3 390.8 L445.7 390.8 L446.2 390.8 L446.6 390.8 L447.1 390.8 L447.5 390.8 L448 390.8 L448.4 390.8 L448.9 390.8 L449.3 390.8 L449.8 390.8 L450.2 390.8 L450.7 390.8 L451.1 390.8 L451.6 390.8 L452 390.8 L452.5 390.8 L452.9 390.8 L453.4 390.8 L453.8 390.8 L454.3 390.8 L454.7 390.8 L455.2 390.8 L455.6 390.8 L456.1 390.8 L456.5 390.8 L457 390.8 L457.4 390.8 L457.9 390.8 L458.3 390.8 L458.8 390.8 L459.2 390.8 L459.7 390.8 L460.1 390.7 L460.6 390.4 L461 389.5 L461.5 388.4 L461.9 388.4 L462.4 389.4 L462.8 389.8 L463.3 389.4 L463.7 389.3 L464.2 389.9 L464.6 390.5 L465.1 390.8 L465.5 390.7 L466 389.1 L466.4 381.1 L466.9 376.8 L467.3 385.3 L467.8 388.8 L468.2 387 L468.7 387.7 L469.1 390 L469.6 390.7 L470 390.8 L470.5 390.8 L470.9 390.6 L471.4 390.2 L471.8 389.3 L472.3 388.4 L472.7 388.3 L473.2 389 L473.6 389.9 L474.1 390.5 L474.5 390.7 L475 390.6 L475.4 390.1 L475.9 389.4 L476.3 388.8 L476.8 389 L477.2 389.7 L477.7 390.3 L478.1 390.7 L478.6 390.8 L479 390.8 L479.5 390.4 L479.9 386.4 L480.4 374 L480.8 366.3 L481.3 376.4 L481.7 385.4 L482.2 386.6 L482.6 387.5 L483.1 389.3 L483.5 390.4 L484 390.6 L484.4 389.7 L484.9 387.8 L485.3 387.4 L485.8 389.1 L486.2 390.4 L486.7 390.5 L487.1 389.8 L487.6 388.3 L488 387.6 L488.5 388.6 L488.9 390 L489.4 390.6 L489.8 390.4 L490.3 389.2 L490.7 387.7 L491.2 387.6 L491.6 389 L492.1 390.3 L492.5 390.6 L493 390.4 L493.4 389.9 L493.9 389.6 L494.3 389.7 L494.8 390.2 L495.2 390.5 L495.7 390.7 L496.1 390.8 L496.6 390.8 L497 390.8 L497.5 390.8 L497.9 390.8 L498.4 390.8 L498.8 390.8 L499.3 390.8 L499.7 390.8 L500.2 390.8 L500.6 390.8 L501.1 390.8 L501.5 390.6 L502 390 L502.4 388.5 L502.9 386.7 L503.3 386.3 L503.8 387.8 L504.2 389.6 L504.7 390.4 L505.1 390.6 L505.6 390.5 L506 390.3 L506.5 390.1 L506.9 390 L507.4 390.1 L507.8 390.2 L508.3 390.4 L508.7 390.6 L509.2 390.7 L509.6 390.8 L510.1 390.8 L510.5 390.8 L511 390.8 L511.4 390.8 L511.9 390.8 L512.3 390.8 L512.8 390.8 L513.2 390.8 L513.7 390.8 L514.1 390.8 L514.6 390.8 L515 390.8 L515.5 390.8 L515.9 390.8 L516.4 390.8 L516.8 390.8 L517.3 390.8 L517.7 390.8 L518.2 390.8 L518.6 390.8 L519.1 390.8 L519.5 390.8 L520 390.8 L520.4 390.8 L520.9 390.8 L521.3 390.8 L521.8 390.8 L522.2 390.8 L522.7 390.8 L523.1 390.8 L523.6 390.8 L524 390.8 L524.5 390.8" fill="none" stroke="#1a1a1a" stroke-width="0.6" stroke-linejoin="round"/>
<rect x="336.8" y="6.5" width="188.2" height="386.7" fill="none" stroke="#1a1a1a" stroke-width="0.95"/>
<path d="M336.8 192.3 H525" stroke="#111" stroke-width="1.5"/>
<path d="M336.8 223.4 H525" stroke="#1a1a1a" stroke-width="0.95"/>
<path d="M349.9 393.2 v-2 M350.2 191.7 v-2 M363 393.2 v-3.2 M363.3 191.7 v-3.2 M376.1 393.2 v-2 M376.4 191.7 v-2 M389.1 393.2 v-3.2 M389.4 191.7 v-3.2 M402.1 393.2 v-2 M402.4 191.7 v-2 M415.2 393.2 v-3.2 M415.5 191.7 v-3.2 M428.2 393.2 v-2 M428.6 191.7 v-2 M441.3 393.2 v-3.2 M441.6 191.7 v-3.2 M454.3 393.2 v-2 M454.6 191.7 v-2 M467.4 393.2 v-3.2 M467.7 191.7 v-3.2 M480.4 393.2 v-2 M480.8 191.7 v-2 M493.5 393.2 v-3.2 M493.8 191.7 v-3.2 M506.6 393.2 v-2 M506.9 191.7 v-2 M519.6 393.2 v-3.2 M519.9 191.7 v-3.2 M355.8 223.4 v-3 M374.5 223.4 v-3 M393.3 223.4 v-3 M412 223.4 v-3 M430.7 223.4 v-3 M449.4 223.4 v-3 M468.1 223.4 v-3 M486.9 223.4 v-3 M505.6 223.4 v-3 M524.3 223.4 v-3" stroke="#1a1a1a" stroke-width="0.8" fill="none"/>
<polygon points="420.3,57.8 421,59.2 422.6,59.5 421.4,60.6 421.7,62.1 420.3,61.4 418.9,62.1 419.2,60.6 418,59.5 419.6,59.2" fill="#ffb31a"/>
<circle cx="422.9" cy="59.5" r="1.4" fill="#ff1a1a"/>
<circle cx="425.2" cy="45.4" r="1.4" fill="#ff1a1a"/>
<text x="428" y="141.6" font-size="6" text-anchor="middle" font-weight="normal" fill="#2a3cff" font-style="italic">&#952;</text>
<text x="432.4" y="169" font-size="6" text-anchor="middle" font-weight="normal" fill="#2a3cff" font-style="italic">&#952;</text>
<polygon points="420.8,165 421.5,166.4 423.1,166.7 421.9,167.8 422.2,169.3 420.8,168.6 419.4,169.3 419.7,167.8 418.5,166.7 420.1,166.4" fill="#ffb31a"/>
<circle cx="388.6" cy="161.4" r="1.0" fill="none" stroke="#19c6e6" stroke-width="0.6"/>
<circle cx="392.3" cy="161.4" r="1.0" fill="none" stroke="#19c6e6" stroke-width="0.6"/>
<path d="M387.6 165.4 H395.4" stroke="#16c79a" stroke-width="0.9"/>
<polygon points="395.9,166.1 398.5,166.1 397.2,168.2" fill="#16c79a"/>
<circle cx="399.7" cy="168.6" r="1.0" fill="none" stroke="#19c6e6" stroke-width="0.6"/>
<polygon points="479.3,162.7 481.9,162.7 480.6,164.8" fill="#16c79a"/>
<circle cx="484" cy="161.8" r="1.0" fill="none" stroke="#19c6e6" stroke-width="0.6"/>
<circle cx="485.6" cy="159" r="1.0" fill="none" stroke="#19c6e6" stroke-width="0.6"/>
<circle cx="487.2" cy="157.4" r="1.0" fill="none" stroke="#19c6e6" stroke-width="0.6"/>
<path d="M485.2 155.2 H489.4" stroke="#16c79a" stroke-width="0.9"/>
<polygon points="495.5,168.4 498.5,168.4 497,165.7" fill="none" stroke="#ff4fa0" stroke-width="0.6"/>
<polygon points="501.4,167 504,167 502.7,169.1" fill="#16c79a"/>
<polygon points="511.4,168.4 511.9,169.5 513.1,169.6 512.3,170.5 512.5,171.7 511.4,171.1 510.3,171.7 510.5,170.5 509.7,169.6 510.9,169.5" fill="#ffb31a"/>
<circle cx="422.4" cy="196" r="1.4" fill="#ff1a1a"/>
<circle cx="425.1" cy="192.6" r="1.4" fill="#ff1a1a"/>
<polygon points="420.3,202.1 421,203.5 422.6,203.8 421.4,204.9 421.7,206.4 420.3,205.7 418.9,206.4 419.2,204.9 418,203.8 419.6,203.5" fill="#ffb31a"/>
<polygon points="432.3,203.6 434.3,205.6 432.3,207.6 430.3,205.6" fill="#d433f0"/>
<polygon points="436.2,203.6 438.2,205.6 436.2,207.6 434.2,205.6" fill="#d433f0"/>
<text x="426.8" y="227.2" font-size="6" text-anchor="middle" font-weight="normal" fill="#2a3cff" font-style="italic">&#952;</text>
<text x="432.4" y="242.2" font-size="6" text-anchor="middle" font-weight="normal" fill="#2a3cff" font-style="italic">&#952;</text>
<polygon points="422.8,251 423.5,252.4 425.1,252.7 423.9,253.8 424.2,255.3 422.8,254.6 421.4,255.3 421.7,253.8 420.5,252.7 422.1,252.4" fill="#ffb31a"/>
<polygon points="511,266.9 511.7,268.3 513.3,268.6 512.1,269.7 512.4,271.2 511,270.5 509.6,271.2 509.9,269.7 508.7,268.6 510.3,268.3" fill="#ffb31a"/>
<polygon points="431.6,275.4 433.6,277.4 431.6,279.4 429.6,277.4" fill="#d433f0"/>
<polygon points="435.4,280.2 437.4,282.2 435.4,284.2 433.4,282.2" fill="#d433f0"/>
<polygon points="495.3,308.4 498.3,308.4 496.8,305.7" fill="none" stroke="#ff4fa0" stroke-width="0.6"/>
<circle cx="392.7" cy="344.4" r="1.0" fill="none" stroke="#19c6e6" stroke-width="0.6"/>
<circle cx="390.1" cy="349.2" r="1.0" fill="none" stroke="#19c6e6" stroke-width="0.6"/>
<circle cx="399.7" cy="349.8" r="1.0" fill="none" stroke="#19c6e6" stroke-width="0.6"/>
<circle cx="484.2" cy="339.6" r="1.0" fill="none" stroke="#19c6e6" stroke-width="0.6"/>
<circle cx="487.7" cy="349.2" r="1.0" fill="none" stroke="#19c6e6" stroke-width="0.6"/>
<path d="M389.3 382.2 V387.2 M388.4 383.6 L389.3 382.2 L390.2 383.6" stroke="#16c79a" stroke-width="0.6" fill="none"/>
<path d="M393 382.2 V387.2 M392.1 383.6 L393 382.2 L393.9 383.6" stroke="#16c79a" stroke-width="0.6" fill="none"/>
<path d="M395.8 382.2 V387.2 M394.9 383.6 L395.8 382.2 L396.7 383.6" stroke="#16c79a" stroke-width="0.6" fill="none"/>
<path d="M484.6 385.2 V387.8 M483.9 385.4 H485.3 M483.9 387.8 H485.3" stroke="#16c79a" stroke-width="0.6" fill="none"/>
<path d="M487.3 385.2 V387.8 M486.6 385.4 H488 M486.6 387.8 H488" stroke="#16c79a" stroke-width="0.6" fill="none"/>
<path d="M489.6 385.2 V387.8 M488.9 385.4 H490.3 M488.9 387.8 H490.3" stroke="#16c79a" stroke-width="0.6" fill="none"/>
<polygon points="480,368.7 482,368.7 481,370.3" fill="#16c79a"/>
<polygon points="503.2,383.3 503.6,384.1 504.4,384.2 503.8,384.8 504,385.7 503.2,385.2 502.4,385.7 502.6,384.8 502,384.2 502.8,384.1" fill="#16c79a"/>
<path d="M339.4 9.2 H342.6 M341 9.2 V16 M339.4 16 H342.6" stroke="#222" stroke-width="0.85" fill="none"/>
<text x="343.5" y="14.3" font-size="5.5" text-anchor="start" font-weight="normal" fill="#222" >0.005</text>
<path d="M339.4 57 H342.6 M341 57 V63.8 M339.4 63.8 H342.6" stroke="#222" stroke-width="0.85" fill="none"/>
<text x="343.5" y="62.1" font-size="5.5" text-anchor="start" font-weight="normal" fill="#222" >0.01</text>
<path d="M339.4 97.8 H342.6 M341 97.8 V105.4 M339.4 105.4 H342.6" stroke="#222" stroke-width="0.85" fill="none"/>
<text x="343.5" y="103.3" font-size="5.5" text-anchor="start" font-weight="normal" fill="#222" >0.01</text>
<path d="M339.4 153.4 H342.6 M341 153.4 V153.4 M339.4 160.6 H342.6" stroke="#222" stroke-width="0.85" fill="none"/>
<path d="M341 153.4 V160.6" stroke="#999" stroke-width="0.5" fill="none"/>
<text x="343.5" y="158.9" font-size="6.2" text-anchor="start" font-weight="normal" fill="#222" >0.2</text>
<path d="M337.9 197.8 H341.9 M339.9 197.8 V205.2 M337.9 205.2 H341.9" stroke="#222" stroke-width="0.95" fill="none"/>
<text x="343.1" y="203.5" font-size="6.3" text-anchor="start" font-weight="normal" fill="#222" >0.1</text>
<path d="M337.9 226.7 H341.9 M339.9 226.7 V232.2 M337.9 232.2 H341.9" stroke="#222" stroke-width="0.95" fill="none"/>
<text x="343.1" y="231.4" font-size="6.3" text-anchor="start" font-weight="normal" fill="#222" >0.5</text>
<path d="M337.9 257 H341.9 M339.9 257 V266 M337.9 266 H341.9" stroke="#222" stroke-width="0.95" fill="none"/>
<text x="343.1" y="263.5" font-size="6.3" text-anchor="start" font-weight="normal" fill="#222" >0.4</text>
<path d="M337.9 280.4 H341.9 M339.9 280.4 V288.6 M337.9 288.6 H341.9" stroke="#222" stroke-width="0.95" fill="none"/>
<text x="343.1" y="286.5" font-size="6.3" text-anchor="start" font-weight="normal" fill="#222" >0.1</text>
<path d="M337.9 306.8 H341.9 M339.9 306.8 V313.8 M337.9 313.8 H341.9" stroke="#222" stroke-width="0.95" fill="none"/>
<text x="343.1" y="312.3" font-size="6.3" text-anchor="start" font-weight="normal" fill="#222" >0.5</text>
<path d="M337.9 336.4 H341.9 M339.9 336.4 V343.4 M337.9 343.4 H341.9" stroke="#222" stroke-width="0.95" fill="none"/>
<text x="343.1" y="341.9" font-size="6.3" text-anchor="start" font-weight="normal" fill="#222" >0.2</text>
<path d="M337.9 365.8 H341.9 M339.9 365.8 V371.8 M337.9 371.8 H341.9" stroke="#222" stroke-width="0.95" fill="none"/>
<text x="343.1" y="370.8" font-size="6.3" text-anchor="start" font-weight="normal" fill="#222" >0.4</text>
<text x="521.3" y="16.1" font-size="7.05" text-anchor="end" font-weight="normal" fill="#111" >5.1 min (71 &#176;C)</text>
<text x="522.4" y="58.1" font-size="7.05" text-anchor="end" font-weight="normal" fill="#111" >20.9 min (229 &#176;C)</text>
<text x="522.4" y="103.9" font-size="7.05" text-anchor="end" font-weight="normal" fill="#111" >23.9 min (259 &#176;C)</text>
<text x="523.3" y="151.6" font-size="7.05" text-anchor="end" font-weight="normal" fill="#111" >28.1 min (301 &#176;C)</text>
<text x="520.8" y="199.5" font-size="5.8" text-anchor="end" font-weight="normal" fill="#111" >Tartaric acid at 23.3 min (253 &#176;C)</text>
<text x="524" y="231.7" font-size="8.0" text-anchor="end" font-weight="normal" fill="#111" >Isopropyl isocyanate</text>
<text x="523" y="258.6" font-size="8" text-anchor="end" font-weight="normal" fill="#111" >CO<tspan font-size="5.2" dy="1.8">2</tspan></text>
<text x="522.5" y="289" font-size="8" text-anchor="end" font-weight="normal" fill="#111" >CO</text>
<text x="523" y="315.2" font-size="8" text-anchor="end" font-weight="normal" fill="#111" >NH<tspan font-size="5.2" dy="1.8">3</tspan></text>
<text x="522.9" y="341.7" font-size="7.95" text-anchor="end" font-weight="normal" fill="#111" >Dimethyl ether</text>
<text x="522.8" y="370.3" font-size="7.85" text-anchor="end" font-weight="normal" fill="#111" >1-Ethoxy-4-methylbenzene</text>
<text x="528.4" y="21.8" font-size="12.8" text-anchor="start" font-weight="bold" fill="#000" >(b)</text>
<text x="528.4" y="211.1" font-size="12.8" text-anchor="start" font-weight="bold" fill="#000" >(c)</text>
<text x="528.4" y="239.6" font-size="12.8" text-anchor="start" font-weight="bold" fill="#000" >(d)</text>
<text x="337.2" y="405.2" font-size="9.8" text-anchor="middle" font-weight="normal" fill="#000" >4000</text>
<text x="363.3" y="405.2" font-size="9.8" text-anchor="middle" font-weight="normal" fill="#000" >3500</text>
<text x="389.4" y="405.2" font-size="9.8" text-anchor="middle" font-weight="normal" fill="#000" >3000</text>
<text x="415.5" y="405.2" font-size="9.8" text-anchor="middle" font-weight="normal" fill="#000" >2500</text>
<text x="441.6" y="405.2" font-size="9.8" text-anchor="middle" font-weight="normal" fill="#000" >2000</text>
<text x="467.7" y="405.2" font-size="9.8" text-anchor="middle" font-weight="normal" fill="#000" >1500</text>
<text x="493.8" y="405.2" font-size="9.8" text-anchor="middle" font-weight="normal" fill="#000" >1000</text>
<text x="519.9" y="405.2" font-size="9.8" text-anchor="middle" font-weight="normal" fill="#000" >500</text>
<text x="427.2" y="420.9" font-size="11.6" text-anchor="middle" font-weight="normal" fill="#000" >Wavenumber/cm<tspan font-size="7.6" dy="-4">&#8722;1</tspan></text>
<text transform="translate(330.4 226.4) rotate(-90)" font-size="11.5" text-anchor="middle" fill="#000">Absorbance</text>
</g>
</svg></body></html>
